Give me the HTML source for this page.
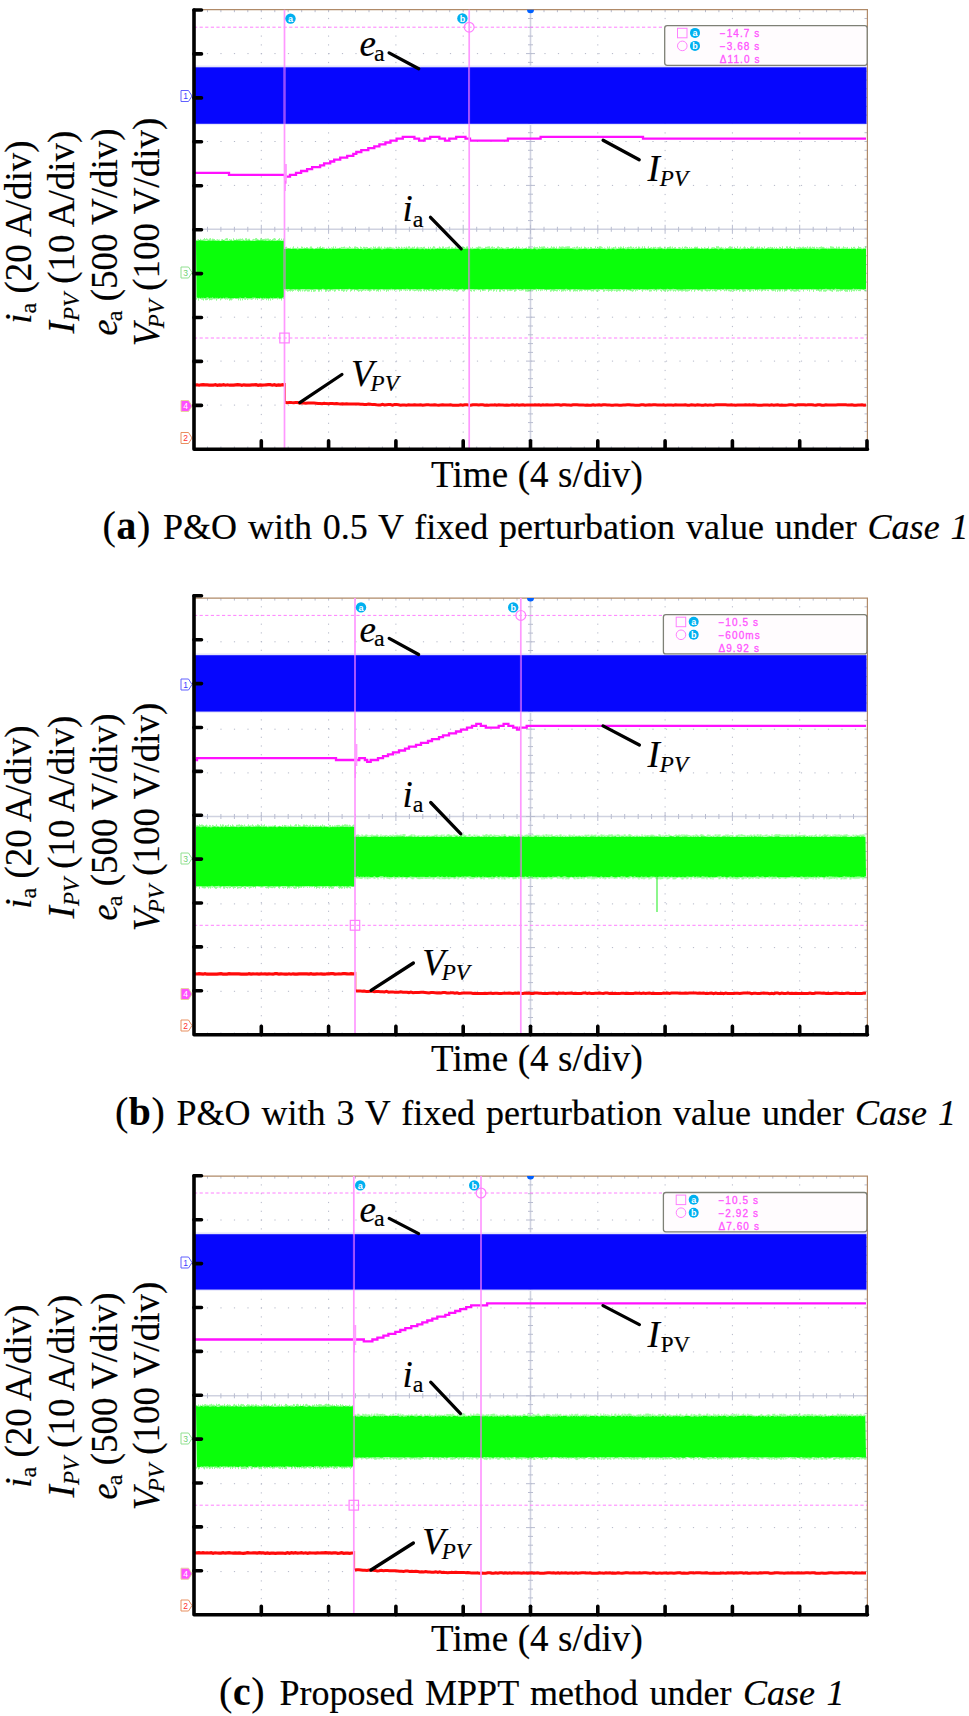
<!DOCTYPE html>
<html><head><meta charset="utf-8"><title>MPPT oscilloscope waveforms</title>
<style>html,body{margin:0;padding:0;background:#fff;} body{width:969px;height:1716px;overflow:hidden;} svg{display:block;} text.s{stroke:#000;stroke-width:0.18px;}</style>
</head><body>
<svg width="969" height="1716" viewBox="0 0 969 1716">
<line x1="261.3" y1="9.7" x2="261.3" y2="449" stroke="#b4b8c8" stroke-width="1" stroke-dasharray="1.2,7.6" stroke-dashoffset="0.6"/>
<line x1="328.6" y1="9.7" x2="328.6" y2="449" stroke="#b4b8c8" stroke-width="1" stroke-dasharray="1.2,7.6" stroke-dashoffset="0.6"/>
<line x1="395.9" y1="9.7" x2="395.9" y2="449" stroke="#b4b8c8" stroke-width="1" stroke-dasharray="1.2,7.6" stroke-dashoffset="0.6"/>
<line x1="463.2" y1="9.7" x2="463.2" y2="449" stroke="#b4b8c8" stroke-width="1" stroke-dasharray="1.2,7.6" stroke-dashoffset="0.6"/>
<line x1="597.8" y1="9.7" x2="597.8" y2="449" stroke="#b4b8c8" stroke-width="1" stroke-dasharray="1.2,7.6" stroke-dashoffset="0.6"/>
<line x1="665.1" y1="9.7" x2="665.1" y2="449" stroke="#b4b8c8" stroke-width="1" stroke-dasharray="1.2,7.6" stroke-dashoffset="0.6"/>
<line x1="732.4" y1="9.7" x2="732.4" y2="449" stroke="#b4b8c8" stroke-width="1" stroke-dasharray="1.2,7.6" stroke-dashoffset="0.6"/>
<line x1="799.7" y1="9.7" x2="799.7" y2="449" stroke="#b4b8c8" stroke-width="1" stroke-dasharray="1.2,7.6" stroke-dashoffset="0.6"/>
<line x1="194" y1="53.6" x2="867" y2="53.6" stroke="#b4b8c8" stroke-width="1" stroke-dasharray="1.2,12.3" stroke-dashoffset="0.6"/>
<line x1="194" y1="97.6" x2="867" y2="97.6" stroke="#b4b8c8" stroke-width="1" stroke-dasharray="1.2,12.3" stroke-dashoffset="0.6"/>
<line x1="194" y1="141.5" x2="867" y2="141.5" stroke="#b4b8c8" stroke-width="1" stroke-dasharray="1.2,12.3" stroke-dashoffset="0.6"/>
<line x1="194" y1="185.4" x2="867" y2="185.4" stroke="#b4b8c8" stroke-width="1" stroke-dasharray="1.2,12.3" stroke-dashoffset="0.6"/>
<line x1="194" y1="273.3" x2="867" y2="273.3" stroke="#b4b8c8" stroke-width="1" stroke-dasharray="1.2,12.3" stroke-dashoffset="0.6"/>
<line x1="194" y1="317.2" x2="867" y2="317.2" stroke="#b4b8c8" stroke-width="1" stroke-dasharray="1.2,12.3" stroke-dashoffset="0.6"/>
<line x1="194" y1="361.1" x2="867" y2="361.1" stroke="#b4b8c8" stroke-width="1" stroke-dasharray="1.2,12.3" stroke-dashoffset="0.6"/>
<line x1="194" y1="405.1" x2="867" y2="405.1" stroke="#b4b8c8" stroke-width="1" stroke-dasharray="1.2,12.3" stroke-dashoffset="0.6"/>
<line x1="194" y1="229.3" x2="867" y2="229.3" stroke="#cfd2e0" stroke-width="1.6"/>
<line x1="530.5" y1="9.7" x2="530.5" y2="449" stroke="#cfd2e0" stroke-width="1.6"/>
<path d="M207.5,226.8V231.8M220.9,226.8V231.8M234.4,226.8V231.8M247.8,226.8V231.8M261.3,224.8V233.8M274.8,226.8V231.8M288.2,226.8V231.8M301.7,226.8V231.8M315.1,226.8V231.8M328.6,224.8V233.8M342.1,226.8V231.8M355.5,226.8V231.8M369,226.8V231.8M382.4,226.8V231.8M395.9,224.8V233.8M409.4,226.8V231.8M422.8,226.8V231.8M436.3,226.8V231.8M449.7,226.8V231.8M463.2,224.8V233.8M476.7,226.8V231.8M490.1,226.8V231.8M503.6,226.8V231.8M517,226.8V231.8M530.5,224.8V233.8M544,226.8V231.8M557.4,226.8V231.8M570.9,226.8V231.8M584.3,226.8V231.8M597.8,224.8V233.8M611.3,226.8V231.8M624.7,226.8V231.8M638.2,226.8V231.8M651.6,226.8V231.8M665.1,224.8V233.8M678.6,226.8V231.8M692,226.8V231.8M705.5,226.8V231.8M718.9,226.8V231.8M732.4,224.8V233.8M745.9,226.8V231.8M759.3,226.8V231.8M772.8,226.8V231.8M786.2,226.8V231.8M799.7,224.8V233.8M813.2,226.8V231.8M826.6,226.8V231.8M840.1,226.8V231.8M853.5,226.8V231.8M528,18.5H533M528,27.3H533M528,36.1H533M528,44.8H533M526,53.6H535M528,62.4H533M528,71.2H533M528,80H533M528,88.8H533M526,97.6H535M528,106.3H533M528,115.1H533M528,123.9H533M528,132.7H533M526,141.5H535M528,150.3H533M528,159.1H533M528,167.8H533M528,176.6H533M526,185.4H535M528,194.2H533M528,203H533M528,211.8H533M528,220.6H533M526,229.3H535M528,238.1H533M528,246.9H533M528,255.7H533M528,264.5H533M526,273.3H535M528,282.1H533M528,290.9H533M528,299.6H533M528,308.4H533M526,317.2H535M528,326H533M528,334.8H533M528,343.6H533M528,352.4H533M526,361.1H535M528,369.9H533M528,378.7H533M528,387.5H533M528,396.3H533M526,405.1H535M528,413.9H533M528,422.6H533M528,431.4H533M528,440.2H533M207.5,9.7V12.2M207.5,449V446.5M220.9,9.7V12.2M220.9,449V446.5M234.4,9.7V12.2M234.4,449V446.5M247.8,9.7V12.2M247.8,449V446.5M261.3,9.7V12.2M261.3,449V446.5M274.8,9.7V12.2M274.8,449V446.5M288.2,9.7V12.2M288.2,449V446.5M301.7,9.7V12.2M301.7,449V446.5M315.1,9.7V12.2M315.1,449V446.5M328.6,9.7V12.2M328.6,449V446.5M342.1,9.7V12.2M342.1,449V446.5M355.5,9.7V12.2M355.5,449V446.5M369,9.7V12.2M369,449V446.5M382.4,9.7V12.2M382.4,449V446.5M395.9,9.7V12.2M395.9,449V446.5M409.4,9.7V12.2M409.4,449V446.5M422.8,9.7V12.2M422.8,449V446.5M436.3,9.7V12.2M436.3,449V446.5M449.7,9.7V12.2M449.7,449V446.5M463.2,9.7V12.2M463.2,449V446.5M476.7,9.7V12.2M476.7,449V446.5M490.1,9.7V12.2M490.1,449V446.5M503.6,9.7V12.2M503.6,449V446.5M517,9.7V12.2M517,449V446.5M530.5,9.7V12.2M530.5,449V446.5M544,9.7V12.2M544,449V446.5M557.4,9.7V12.2M557.4,449V446.5M570.9,9.7V12.2M570.9,449V446.5M584.3,9.7V12.2M584.3,449V446.5M597.8,9.7V12.2M597.8,449V446.5M611.3,9.7V12.2M611.3,449V446.5M624.7,9.7V12.2M624.7,449V446.5M638.2,9.7V12.2M638.2,449V446.5M651.6,9.7V12.2M651.6,449V446.5M665.1,9.7V12.2M665.1,449V446.5M678.6,9.7V12.2M678.6,449V446.5M692,9.7V12.2M692,449V446.5M705.5,9.7V12.2M705.5,449V446.5M718.9,9.7V12.2M718.9,449V446.5M732.4,9.7V12.2M732.4,449V446.5M745.9,9.7V12.2M745.9,449V446.5M759.3,9.7V12.2M759.3,449V446.5M772.8,9.7V12.2M772.8,449V446.5M786.2,9.7V12.2M786.2,449V446.5M799.7,9.7V12.2M799.7,449V446.5M813.2,9.7V12.2M813.2,449V446.5M826.6,9.7V12.2M826.6,449V446.5M840.1,9.7V12.2M840.1,449V446.5M853.5,9.7V12.2M853.5,449V446.5M867,18.5H864.5M867,27.3H864.5M867,36.1H864.5M867,44.8H864.5M867,53.6H864.5M867,62.4H864.5M867,71.2H864.5M867,80H864.5M867,88.8H864.5M867,97.6H864.5M867,106.3H864.5M867,115.1H864.5M867,123.9H864.5M867,132.7H864.5M867,141.5H864.5M867,150.3H864.5M867,159.1H864.5M867,167.8H864.5M867,176.6H864.5M867,185.4H864.5M867,194.2H864.5M867,203H864.5M867,211.8H864.5M867,220.6H864.5M867,229.3H864.5M867,238.1H864.5M867,246.9H864.5M867,255.7H864.5M867,264.5H864.5M867,273.3H864.5M867,282.1H864.5M867,290.9H864.5M867,299.6H864.5M867,308.4H864.5M867,317.2H864.5M867,326H864.5M867,334.8H864.5M867,343.6H864.5M867,352.4H864.5M867,361.1H864.5M867,369.9H864.5M867,378.7H864.5M867,387.5H864.5M867,396.3H864.5M867,405.1H864.5M867,413.9H864.5M867,422.6H864.5M867,431.4H864.5M867,440.2H864.5" stroke="#b9bdd0" stroke-width="1" fill="none"/>
<path d="M194,9.7H867.4V449" stroke="#b08a68" stroke-width="1.2" fill="none"/>
<line x1="194" y1="27.2" x2="664" y2="27.2" stroke="#ff80ff" stroke-width="1" stroke-dasharray="3.2,2.4"/>
<line x1="194" y1="338" x2="867" y2="338" stroke="#ff80ff" stroke-width="1" stroke-dasharray="3.2,2.4"/>
<rect x="195" y="65.5" width="671.5" height="1.8" fill="#e4e4fa"/>
<rect x="195" y="123.8" width="671.5" height="1.3" fill="#e8e8fb"/>
<rect x="195" y="67.3" width="671.5" height="56.5" fill="#0606fe"/>
<path d="M196,240.6 197,240.8 198,240.7 199,240.3 200,240.3 201,240.4 202,240.6 203,240.4 204,240.8 205,240.8 206,241.1 207,241 208,240.4 209,240.5 210,240.4 211,240.8 212,240.7 213,240.3 214,240.8 215,240.6 216,240.7 217,240.9 218,240.5 219,240.7 220,240.9 221,241.1 222,240.6 223,240.4 224,240.3 225,240.9 226,241 227,240.9 228,240.8 229,241 230,240.7 231,240.3 232,240.8 233,241 234,240.6 235,240.3 236,240.4 237,240.3 238,240.4 239,240.6 240,240.4 241,240.7 242,241 243,240.5 244,240.6 245,241.1 246,240.4 247,240.5 248,240.8 249,240.3 250,240.6 251,241.1 252,240.7 253,240.8 254,241 255,241 256,240.6 257,240.4 258,240.3 259,240.5 260,240.6 261,240.3 262,240.4 263,240.3 264,240.8 265,240.5 266,240.6 267,241 268,240.7 269,240.4 270,240.6 271,241 272,240.3 273,240.7 274,240.7 275,240.7 276,241 277,240.5 278,240.4 279,240.7 280,240.6 281,240.9 282,241 283,241 284,240.5 284.5,297.9 283.5,297.6 282.5,297.8 281.5,298.4 280.5,298.3 279.5,298.4 278.5,297.8 277.5,297.8 276.5,298.1 275.5,298.3 274.5,298.1 273.5,297.7 272.5,298.3 271.5,298.2 270.5,297.7 269.5,297.9 268.5,298.4 267.5,297.9 266.5,298.2 265.5,297.7 264.5,298.3 263.5,297.7 262.5,298.4 261.5,297.9 260.5,297.7 259.5,298.4 258.5,298 257.5,297.9 256.5,298.3 255.5,297.8 254.5,297.8 253.5,297.8 252.5,297.7 251.5,297.9 250.5,298.1 249.5,297.9 248.5,298 247.5,298 246.5,298 245.5,297.6 244.5,297.7 243.5,298.2 242.5,297.9 241.5,298 240.5,297.7 239.5,297.8 238.5,298.2 237.5,298 236.5,298.3 235.5,298.1 234.5,298 233.5,298 232.5,298 231.5,298.2 230.5,298.4 229.5,298 228.5,298.3 227.5,297.7 226.5,297.7 225.5,297.7 224.5,298.2 223.5,297.7 222.5,298.1 221.5,298.3 220.5,297.8 219.5,297.9 218.5,298.4 217.5,297.7 216.5,298 215.5,297.8 214.5,298.2 213.5,298 212.5,297.6 211.5,298.1 210.5,297.7 209.5,298.2 208.5,297.7 207.5,297.6 206.5,297.8 205.5,297.9 204.5,298.3 203.5,297.7 202.5,298.1 201.5,297.7 200.5,298.2 199.5,297.7 198.5,298.1 197.5,297.7 196.5,297.7Z" fill="#0aff0a"/>
<path d="M284,248.9 285,248.9 286,248.7 287,248.9 288,248.6 289,248.5 290,248.7 291,249.1 292,248.9 293,248.8 294,248.7 295,249.1 296,248.7 297,249.2 298,249.2 299,248.9 300,248.8 301,249.1 302,248.8 303,249.1 304,248.8 305,248.5 306,248.6 307,248.7 308,248.6 309,249.2 310,248.7 311,248.7 312,248.6 313,248.7 314,249.3 315,248.7 316,248.7 317,248.5 318,248.9 319,248.7 320,248.5 321,248.6 322,248.5 323,248.7 324,249 325,249.1 326,249.1 327,248.8 328,249.3 329,249.1 330,248.5 331,249.2 332,249.1 333,248.6 334,248.9 335,249.1 336,249 337,249 338,248.7 339,248.6 340,248.6 341,248.9 342,249 343,248.9 344,249.1 345,248.9 346,249 347,249.1 348,248.6 349,249.1 350,249.1 351,248.9 352,248.9 353,249.1 354,249 355,248.6 356,249.1 357,249 358,248.5 359,249 360,249 361,248.9 362,248.9 363,249.2 364,249.3 365,248.5 366,249.2 367,248.9 368,248.7 369,248.7 370,248.6 371,249.3 372,249.2 373,249.2 374,248.7 375,248.9 376,248.5 377,248.9 378,248.6 379,248.8 380,248.5 381,249.2 382,249.2 383,249.2 384,248.8 385,249.3 386,248.8 387,248.7 388,248.6 389,248.7 390,248.7 391,248.9 392,248.8 393,249.2 394,249 395,249.3 396,249.1 397,249.1 398,249.1 399,248.7 400,249.2 401,248.9 402,248.7 403,249.3 404,249 405,248.9 406,248.6 407,248.7 408,248.9 409,249.2 410,248.9 411,248.7 412,248.8 413,248.7 414,249 415,249.1 416,248.8 417,248.8 418,248.5 419,249.3 420,248.9 421,249.2 422,248.7 423,248.8 424,249.3 425,249.2 426,248.5 427,249.2 428,249 429,248.8 430,249.2 431,249.3 432,248.6 433,248.9 434,249.3 435,249 436,248.9 437,248.5 438,248.7 439,249 440,248.6 441,249 442,248.6 443,248.9 444,248.8 445,249 446,248.7 447,249.3 448,249.2 449,248.7 450,249.3 451,248.7 452,248.9 453,248.8 454,249 455,248.7 456,248.8 457,249 458,249.1 459,248.9 460,249.3 461,249.2 462,248.7 463,248.7 464,248.9 465,248.7 466,249 467,248.6 468,248.7 469,248.6 470,248.5 471,249.2 472,249.1 473,249.2 474,248.6 475,249.1 476,249 477,248.8 478,248.6 479,248.7 480,249.3 481,249.3 482,248.8 483,249.2 484,248.5 485,248.8 486,248.7 487,249.2 488,248.8 489,249.1 490,248.5 491,249.2 492,249.1 493,248.8 494,249.3 495,248.7 496,248.8 497,248.5 498,249.2 499,249.3 500,248.7 501,249.3 502,248.8 503,248.8 504,249.2 505,249.1 506,249.2 507,249 508,248.8 509,249.1 510,248.7 511,248.7 512,248.5 513,248.8 514,249.2 515,248.7 516,248.6 517,249.1 518,248.7 519,249 520,249.1 521,249 522,249.2 523,249 524,249.1 525,248.7 526,248.6 527,249 528,248.8 529,248.9 530,249.1 531,249.3 532,248.9 533,249.2 534,248.5 535,248.6 536,249.3 537,249.2 538,249.2 539,248.7 540,249.3 541,249 542,248.7 543,248.6 544,248.7 545,249 546,248.5 547,249 548,248.7 549,249.1 550,248.6 551,248.8 552,249 553,248.6 554,248.8 555,248.7 556,248.7 557,248.8 558,249.2 559,248.8 560,249.1 561,248.5 562,248.8 563,248.8 564,248.9 565,248.5 566,249 567,248.6 568,248.8 569,248.6 570,248.9 571,248.6 572,249.1 573,248.7 574,249.3 575,248.9 576,249.2 577,249.2 578,249.2 579,249.1 580,248.8 581,249.2 582,248.7 583,248.9 584,248.6 585,249.1 586,248.5 587,249.1 588,249.2 589,249 590,249 591,248.8 592,248.8 593,248.9 594,248.5 595,248.9 596,249.1 597,248.9 598,248.9 599,248.6 600,248.6 601,248.9 602,249 603,249.1 604,248.9 605,248.9 606,249.3 607,249.2 608,249.1 609,248.7 610,248.9 611,249.2 612,249.1 613,248.6 614,249.1 615,249.2 616,249.2 617,248.9 618,248.7 619,248.9 620,248.5 621,248.6 622,249 623,248.6 624,248.6 625,249 626,249.2 627,249 628,248.6 629,249 630,249.1 631,249.3 632,248.8 633,248.9 634,249.1 635,249.2 636,249 637,249 638,248.8 639,248.5 640,249 641,248.9 642,248.6 643,249 644,248.5 645,248.6 646,248.7 647,249 648,249 649,248.6 650,248.7 651,248.6 652,249.2 653,248.8 654,248.5 655,248.9 656,249 657,249.2 658,248.7 659,248.5 660,248.8 661,248.5 662,248.5 663,249.3 664,248.7 665,248.9 666,249.2 667,248.7 668,248.5 669,249.1 670,248.5 671,249.1 672,249.1 673,248.7 674,248.7 675,248.8 676,249.1 677,249.1 678,248.9 679,249.1 680,248.7 681,249.3 682,249.2 683,248.7 684,249.1 685,249.1 686,249.2 687,248.7 688,249 689,249 690,248.9 691,249.1 692,248.8 693,249 694,248.7 695,248.6 696,248.6 697,248.6 698,248.8 699,248.5 700,249.1 701,249.1 702,248.6 703,248.8 704,249.2 705,248.6 706,249.2 707,248.6 708,248.6 709,249.2 710,249 711,249 712,248.6 713,249.1 714,248.8 715,248.5 716,248.7 717,248.8 718,249.3 719,249.2 720,248.5 721,248.8 722,248.8 723,248.9 724,249.2 725,249.2 726,248.5 727,249.1 728,248.5 729,248.9 730,248.6 731,248.8 732,248.7 733,248.7 734,249.1 735,248.6 736,248.6 737,249.1 738,249 739,248.8 740,249.2 741,249.2 742,248.7 743,249.2 744,248.8 745,248.7 746,248.9 747,249.1 748,248.8 749,248.6 750,249 751,248.6 752,249.1 753,248.6 754,249.2 755,248.7 756,249.1 757,248.6 758,248.7 759,248.9 760,248.8 761,249.3 762,248.6 763,248.6 764,249.3 765,249.1 766,248.7 767,248.6 768,248.8 769,248.8 770,249.1 771,249 772,248.6 773,248.8 774,249.2 775,249 776,248.8 777,249.1 778,249.1 779,249.2 780,249 781,248.8 782,248.6 783,249.1 784,249 785,248.8 786,249 787,249 788,248.6 789,249.1 790,248.9 791,248.5 792,248.6 793,249.3 794,248.6 795,248.9 796,248.9 797,249.2 798,248.8 799,248.7 800,248.8 801,248.6 802,248.8 803,248.7 804,248.5 805,248.8 806,248.8 807,248.7 808,249.3 809,248.7 810,248.8 811,248.6 812,249.1 813,248.9 814,248.7 815,248.8 816,249.2 817,248.9 818,248.9 819,249.2 820,249.2 821,248.8 822,248.8 823,248.5 824,248.7 825,248.7 826,248.8 827,249 828,249.2 829,248.5 830,249.2 831,248.6 832,249 833,248.5 834,249 835,248.6 836,248.7 837,248.8 838,249.2 839,248.6 840,249 841,249 842,249.1 843,248.7 844,248.9 845,248.9 846,248.9 847,248.7 848,248.9 849,248.9 850,248.9 851,248.9 852,248.5 853,248.9 854,249 855,248.8 856,249.3 857,249 858,248.5 859,249 860,248.8 861,248.9 862,249.2 863,249.1 864,248.8 865,248.8 866,248.9 866,289 865,289.1 864,289.5 863,289.5 862,289.2 861,289.2 860,289.3 859,289.1 858,289 857,289.3 856,288.8 855,289.5 854,288.8 853,288.8 852,289.5 851,289.3 850,289.5 849,289.3 848,289.4 847,289.3 846,289.3 845,289.4 844,288.9 843,289.4 842,289.3 841,289.5 840,289.2 839,289 838,289.1 837,289.3 836,288.8 835,288.8 834,289.4 833,289.5 832,288.8 831,289.3 830,289.6 829,289.1 828,289.3 827,288.9 826,288.8 825,288.9 824,288.9 823,288.9 822,289.4 821,289.4 820,288.8 819,289.4 818,289.4 817,289.3 816,289.2 815,289 814,289.4 813,288.8 812,289.5 811,289 810,288.9 809,289.2 808,289.1 807,289.2 806,288.9 805,289.1 804,289.3 803,289.1 802,289.6 801,289.3 800,288.8 799,289.4 798,289.1 797,289.6 796,289.3 795,289.1 794,289.1 793,289.3 792,289.4 791,288.8 790,289.1 789,289.5 788,288.8 787,289.4 786,289.3 785,289.5 784,289.3 783,289.1 782,289.2 781,289 780,289.5 779,289.3 778,289.2 777,289 776,289.4 775,288.9 774,289.4 773,289.3 772,289.5 771,289.2 770,289 769,288.9 768,289.1 767,289.1 766,288.9 765,289.6 764,288.9 763,289.4 762,289.3 761,289.2 760,288.8 759,289.5 758,289.3 757,289.4 756,289.6 755,289.5 754,289 753,289 752,288.9 751,289.2 750,289.2 749,289.5 748,289.3 747,288.9 746,289 745,289.3 744,289.3 743,289.2 742,289.6 741,289 740,289 739,289.5 738,289.5 737,289.4 736,289.3 735,288.8 734,289.4 733,289.3 732,289.3 731,288.9 730,289 729,289.2 728,289 727,289.3 726,289.4 725,288.8 724,289 723,289.5 722,288.9 721,288.9 720,289.5 719,289.2 718,289.5 717,289.3 716,289 715,289.4 714,288.9 713,289 712,288.9 711,289.5 710,288.9 709,289.1 708,288.9 707,288.8 706,289.3 705,289.2 704,289 703,289.1 702,289.6 701,288.9 700,289.5 699,289.4 698,289.6 697,289.4 696,288.9 695,289.5 694,288.9 693,289.5 692,289.3 691,288.9 690,289.4 689,288.9 688,289.3 687,289 686,289.3 685,289.4 684,289 683,289.4 682,289.4 681,289.4 680,289.5 679,289.2 678,289.5 677,289.5 676,288.9 675,289.1 674,289.1 673,288.8 672,289.2 671,288.9 670,289.5 669,289.1 668,289.1 667,288.8 666,289.6 665,289.2 664,289.2 663,289.6 662,288.9 661,289 660,288.8 659,289.4 658,288.8 657,289.3 656,289.4 655,289.5 654,288.8 653,289.2 652,289 651,289.1 650,289.3 649,288.9 648,289.4 647,289.5 646,289.1 645,289.5 644,289.1 643,289.4 642,289 641,289.1 640,289.4 639,289.5 638,288.8 637,289.6 636,289 635,289.3 634,289.2 633,289.1 632,288.8 631,289.6 630,289.5 629,289.4 628,289.5 627,289.3 626,289.3 625,289.2 624,289.3 623,289.2 622,289.6 621,289 620,288.9 619,289.6 618,289 617,289.2 616,288.9 615,289 614,289 613,288.9 612,289.5 611,289.3 610,289 609,289.2 608,289.3 607,289 606,289 605,289.1 604,288.8 603,289.5 602,289.2 601,289 600,289 599,288.9 598,289.5 597,288.8 596,289.2 595,288.9 594,289.6 593,288.9 592,289.1 591,289.3 590,289.5 589,289.4 588,289.4 587,289.4 586,289.5 585,289.5 584,289.4 583,289.2 582,289.3 581,289.4 580,289.3 579,289.2 578,289.4 577,289.1 576,289.1 575,289.4 574,289.2 573,288.9 572,288.9 571,289.3 570,289.5 569,289.5 568,289.6 567,289.1 566,288.8 565,289.3 564,289.5 563,289.2 562,289.2 561,289.3 560,289.1 559,289.1 558,289.3 557,288.9 556,289.1 555,289.3 554,289.6 553,289.2 552,289.6 551,289.2 550,288.9 549,289.6 548,289.2 547,289.5 546,289.5 545,289.5 544,288.9 543,289.2 542,289 541,289.3 540,289.1 539,289.3 538,289.1 537,289 536,288.8 535,289.5 534,289.3 533,289.2 532,289 531,289.2 530,289.3 529,288.9 528,289.4 527,288.9 526,289.2 525,289.3 524,288.8 523,289.4 522,289.4 521,288.9 520,288.9 519,289.3 518,289.2 517,288.8 516,289.3 515,289.2 514,289 513,289.5 512,289.1 511,289.5 510,289.3 509,289.2 508,289 507,289.4 506,289 505,289.2 504,289 503,289.1 502,289.6 501,289.2 500,289.2 499,289.1 498,288.9 497,289.1 496,289 495,289 494,289.3 493,288.9 492,288.9 491,289.5 490,289.2 489,289.4 488,289.1 487,289.1 486,289 485,289.2 484,289.2 483,289.4 482,289.5 481,289.1 480,289.3 479,289.5 478,289.2 477,289 476,289.1 475,289.3 474,289.1 473,288.9 472,289.1 471,288.9 470,289.1 469,289 468,289 467,288.9 466,289 465,289.5 464,289.5 463,288.9 462,288.8 461,289.3 460,289.1 459,289.4 458,289.5 457,289.3 456,288.9 455,289.4 454,288.8 453,288.9 452,289 451,288.8 450,289.3 449,289.5 448,289.4 447,289.1 446,289.1 445,289.5 444,289 443,289.5 442,288.8 441,288.9 440,289 439,289.4 438,289.4 437,289.4 436,289 435,289.6 434,289.5 433,289.4 432,289.3 431,288.8 430,289.1 429,289.5 428,289.4 427,289.4 426,289 425,289.6 424,289.2 423,288.8 422,289.1 421,289 420,289.4 419,289 418,289.2 417,289.5 416,289 415,288.9 414,289.1 413,289.2 412,288.9 411,289.3 410,289.4 409,288.9 408,289.1 407,288.8 406,289 405,289.2 404,289.1 403,289.1 402,288.9 401,289.6 400,288.9 399,289.6 398,288.9 397,289.1 396,289.2 395,289.5 394,289.3 393,289.3 392,289 391,288.8 390,289.5 389,288.9 388,289.5 387,288.9 386,289.5 385,289.1 384,289.5 383,289.1 382,289.1 381,289 380,289.3 379,289.5 378,289.5 377,289.2 376,288.9 375,289.3 374,289.4 373,289.2 372,288.9 371,289.2 370,289.4 369,289.5 368,289.4 367,289 366,289.2 365,289.1 364,289.3 363,289.5 362,289 361,289.3 360,289 359,289.1 358,289.6 357,289.5 356,289.6 355,289.4 354,289.3 353,289 352,289.6 351,289.3 350,289.1 349,288.8 348,289.3 347,288.9 346,289.1 345,289.1 344,289.3 343,288.9 342,289.5 341,288.9 340,289 339,289.2 338,289.2 337,289 336,288.9 335,289.3 334,289.1 333,289.2 332,289.2 331,289.4 330,289.6 329,288.9 328,289.1 327,289.6 326,289.4 325,289.4 324,289 323,288.8 322,289 321,289.4 320,289.5 319,289.5 318,289.5 317,288.9 316,289.1 315,289.3 314,288.9 313,289.4 312,289.4 311,289.3 310,289.2 309,288.9 308,289.3 307,289 306,289.5 305,288.9 304,288.9 303,288.9 302,289 301,289.1 300,289.5 299,289.4 298,289.6 297,289.1 296,289.2 295,289.4 294,288.9 293,289.3 292,289.2 291,289.5 290,289.5 289,288.9 288,289 287,289.3 286,288.9 285,289.2 284,289.1Z" fill="#0aff0a"/>
<path d="M196.5,240.7v-0.4M196.5,298v1.7M197.5,240.7v-1.2M197.5,298v0.4M198.5,240.7v-1.5M198.5,298v2.7M199.5,240.7v-0.5M199.5,298v0.7M200.5,240.7v-1.9M200.5,298v1M201.5,240.7v-1M201.5,298v1.6M202.5,240.7v-1M202.5,298v1.7M203.5,240.7v-1.6M203.5,298v2.6M204.5,240.7v-2.7M204.5,298v0.5M205.5,240.7v-1.7M205.5,298v2.2M206.5,240.7v-2.4M206.5,298v2.2M207.5,240.7v-1.9M207.5,298v1.9M208.5,240.7v-1.2M208.5,298v1M209.5,240.7v-2.2M209.5,298v2.4M210.5,240.7v-2.6M210.5,298v2M211.5,240.7v-1.1M211.5,298v2.2M212.5,240.7v-2.1M212.5,298v1.6M213.5,240.7v-1.9M213.5,298v1.2M214.5,240.7v-1.7M214.5,298v1.3M215.5,240.7v-0.5M215.5,298v1.2M216.5,240.7v-1.1M216.5,298v2.7M217.5,240.7v-1.5M217.5,298v1.2M218.5,240.7v-1M218.5,298v0.9M219.5,240.7v-1.2M219.5,298v0.7M220.5,240.7v-0.4M220.5,298v2.4M221.5,240.7v-1.4M221.5,298v1.4M222.5,240.7v-1.7M222.5,298v1.1M223.5,240.7v-0.8M223.5,298v0.6M224.5,240.7v-1.1M224.5,298v1.1M225.5,240.7v-2.1M225.5,298v1.7M226.5,240.7v-2.6M226.5,298v1.2M227.5,240.7v-2.5M227.5,298v1.7M228.5,240.7v-0.6M228.5,298v0.8M229.5,240.7v-1.7M229.5,298v2.7M230.5,240.7v-1.2M230.5,298v2.2M231.5,240.7v-1.4M231.5,298v2.4M232.5,240.7v-0.6M232.5,298v1.5M233.5,240.7v-2.5M233.5,298v1M234.5,240.7v-1M234.5,298v0.5M235.5,240.7v-0.8M235.5,298v1M236.5,240.7v-2M236.5,298v0.9M237.5,240.7v-1.3M237.5,298v0.9M238.5,240.7v-1.8M238.5,298v2.4M239.5,240.7v-1.9M239.5,298v0.9M240.5,240.7v-2.1M240.5,298v2.6M241.5,240.7v-1.8M241.5,298v0.6M242.5,240.7v-2.3M242.5,298v2.4M243.5,240.7v-1.2M243.5,298v0.7M244.5,240.7v-0.8M244.5,298v1.6M245.5,240.7v-2.4M245.5,298v1.9M246.5,240.7v-2.5M246.5,298v0.9M247.5,240.7v-1.2M247.5,298v2.1M248.5,240.7v-1.9M248.5,298v1.3M249.5,240.7v-2M249.5,298v1.2M250.5,240.7v-0.5M250.5,298v1.4M251.5,240.7v-0.5M251.5,298v1.8M252.5,240.7v-1.2M252.5,298v1.5M253.5,240.7v-1.8M253.5,298v1M254.5,240.7v-1.5M254.5,298v0.4M255.5,240.7v-2.5M255.5,298v1.7M256.5,240.7v-2.7M256.5,298v0.5M257.5,240.7v-1.8M257.5,298v2.1M258.5,240.7v-1.2M258.5,298v0.6M259.5,240.7v-0.8M259.5,298v0.7M260.5,240.7v-2.2M260.5,298v0.6M261.5,240.7v-2.3M261.5,298v1.4M262.5,240.7v-1.6M262.5,298v1.8M263.5,240.7v-1.7M263.5,298v1.9M264.5,240.7v-1.8M264.5,298v1.2M265.5,240.7v-2.1M265.5,298v1M266.5,240.7v-2M266.5,298v2.2M267.5,240.7v-2.2M267.5,298v1.1M268.5,240.7v-2.2M268.5,298v2.6M269.5,240.7v-1.4M269.5,298v1M270.5,240.7v-1.6M270.5,298v2.6M271.5,240.7v-0.7M271.5,298v0.4M272.5,240.7v-1.5M272.5,298v1.9M273.5,240.7v-2.2M273.5,298v1.2M274.5,240.7v-2.7M274.5,298v0.9M275.5,240.7v-2.1M275.5,298v0.6M276.5,240.7v-0.5M276.5,298v0.7M277.5,240.7v-0.5M277.5,298v1.6M278.5,240.7v-1.7M278.5,298v0.8M279.5,240.7v-2.6M279.5,298v1.2M280.5,240.7v-0.7M280.5,298v0.8M281.5,240.7v-2.1M281.5,298v2.5M282.5,240.7v-0.8M282.5,298v0.5M283.5,240.7v-2.2M283.5,298v1M284.5,248.9v-2.7M284.5,289.2v1.5M285.5,248.9v-1.9M285.5,289.2v1.2M286.5,248.9v-2.2M286.5,289.2v1.5M287.5,248.9v-1.1M287.5,289.2v2.5M288.5,248.9v-0.6M288.5,289.2v2.1M289.5,248.9v-0.6M289.5,289.2v1.9M290.5,248.9v-1.3M290.5,289.2v2.4M291.5,248.9v-0.5M291.5,289.2v1.7M292.5,248.9v-1.3M292.5,289.2v2.5M293.5,248.9v-2.6M293.5,289.2v1.8M294.5,248.9v-0.9M294.5,289.2v1M295.5,248.9v-1M295.5,289.2v1.4M296.5,248.9v-0.9M296.5,289.2v0.9M297.5,248.9v-2.1M297.5,289.2v1.9M298.5,248.9v-1.1M298.5,289.2v2.7M299.5,248.9v-0.9M299.5,289.2v1.7M300.5,248.9v-0.8M300.5,289.2v2.4M301.5,248.9v-2.4M301.5,289.2v1M302.5,248.9v-2.1M302.5,289.2v2.3M303.5,248.9v-1M303.5,289.2v1.2M304.5,248.9v-1.5M304.5,289.2v2.4M305.5,248.9v-0.8M305.5,289.2v2M306.5,248.9v-1.8M306.5,289.2v1.4M307.5,248.9v-1.7M307.5,289.2v2.4M308.5,248.9v-0.9M308.5,289.2v2.4M309.5,248.9v-1.2M309.5,289.2v2.2M310.5,248.9v-2.4M310.5,289.2v0.8M311.5,248.9v-2.4M311.5,289.2v2.7M312.5,248.9v-1.1M312.5,289.2v0.5M313.5,248.9v-0.7M313.5,289.2v2.6M314.5,248.9v-0.4M314.5,289.2v2.5M315.5,248.9v-0.7M315.5,289.2v2.1M316.5,248.9v-0.6M316.5,289.2v0.8M317.5,248.9v-2M317.5,289.2v0.6M318.5,248.9v-1.2M318.5,289.2v2.5M319.5,248.9v-2M319.5,289.2v2.4M320.5,248.9v-2.7M320.5,289.2v0.5M321.5,248.9v-0.9M321.5,289.2v2.2M322.5,248.9v-2M322.5,289.2v0.5M323.5,248.9v-1.6M323.5,289.2v0.9M324.5,248.9v-1.4M324.5,289.2v0.6M325.5,248.9v-0.4M325.5,289.2v2.7M326.5,248.9v-1.1M326.5,289.2v2.4M327.5,248.9v-0.7M327.5,289.2v1.5M328.5,248.9v-0.7M328.5,289.2v1.4M329.5,248.9v-0.8M329.5,289.2v2M330.5,248.9v-0.7M330.5,289.2v2.1M331.5,248.9v-1.6M331.5,289.2v0.7M332.5,248.9v-1.2M332.5,289.2v1.5M333.5,248.9v-2.5M333.5,289.2v1.2M334.5,248.9v-0.9M334.5,289.2v2.6M335.5,248.9v-2.4M335.5,289.2v2.1M336.5,248.9v-1M336.5,289.2v0.8M337.5,248.9v-1M337.5,289.2v0.6M338.5,248.9v-0.5M338.5,289.2v1.6M339.5,248.9v-1.3M339.5,289.2v1.7M340.5,248.9v-1.2M340.5,289.2v0.4M341.5,248.9v-2M341.5,289.2v1.9M342.5,248.9v-1.7M342.5,289.2v1.7M343.5,248.9v-2M343.5,289.2v2.7M344.5,248.9v-2.4M344.5,289.2v2.1M345.5,248.9v-1.3M345.5,289.2v1.1M346.5,248.9v-1.4M346.5,289.2v2.6M347.5,248.9v-1.3M347.5,289.2v1.3M348.5,248.9v-1.3M348.5,289.2v0.7M349.5,248.9v-2.7M349.5,289.2v0.4M350.5,248.9v-1.8M350.5,289.2v2.5M351.5,248.9v-1M351.5,289.2v1.8M352.5,248.9v-1.3M352.5,289.2v1M353.5,248.9v-0.9M353.5,289.2v0.7M354.5,248.9v-2.3M354.5,289.2v2.2M355.5,248.9v-2.5M355.5,289.2v0.5M356.5,248.9v-2M356.5,289.2v1.1M357.5,248.9v-1.9M357.5,289.2v1.7M358.5,248.9v-1.1M358.5,289.2v2.6M359.5,248.9v-0.4M359.5,289.2v2.1M360.5,248.9v-2.4M360.5,289.2v1.6M361.5,248.9v-1.8M361.5,289.2v2.7M362.5,248.9v-0.9M362.5,289.2v1.8M363.5,248.9v-2.1M363.5,289.2v1.3M364.5,248.9v-2M364.5,289.2v1.3M365.5,248.9v-1.6M365.5,289.2v1.8M366.5,248.9v-2M366.5,289.2v1.1M367.5,248.9v-1.8M367.5,289.2v1.6M368.5,248.9v-0.9M368.5,289.2v1.8M369.5,248.9v-1M369.5,289.2v2.5M370.5,248.9v-1.5M370.5,289.2v2.1M371.5,248.9v-1.6M371.5,289.2v1.5M372.5,248.9v-0.9M372.5,289.2v0.7M373.5,248.9v-2.5M373.5,289.2v1.6M374.5,248.9v-1.6M374.5,289.2v1.6M375.5,248.9v-2.3M375.5,289.2v0.9M376.5,248.9v-0.8M376.5,289.2v2.3M377.5,248.9v-1.5M377.5,289.2v1.9M378.5,248.9v-2.3M378.5,289.2v2.5M379.5,248.9v-2.4M379.5,289.2v0.5M380.5,248.9v-1.3M380.5,289.2v2.3M381.5,248.9v-2.3M381.5,289.2v0.7M382.5,248.9v-0.8M382.5,289.2v1M383.5,248.9v-0.6M383.5,289.2v1.2M384.5,248.9v-2.2M384.5,289.2v1.6M385.5,248.9v-1.4M385.5,289.2v0.6M386.5,248.9v-1.3M386.5,289.2v2.7M387.5,248.9v-2M387.5,289.2v1.4M388.5,248.9v-1.5M388.5,289.2v2.2M389.5,248.9v-2.1M389.5,289.2v0.7M390.5,248.9v-2M390.5,289.2v1.2M391.5,248.9v-1.6M391.5,289.2v0.9M392.5,248.9v-1.3M392.5,289.2v1.2M393.5,248.9v-1.3M393.5,289.2v0.4M394.5,248.9v-0.9M394.5,289.2v1.7M395.5,248.9v-0.5M395.5,289.2v0.8M396.5,248.9v-2.1M396.5,289.2v1M397.5,248.9v-1.1M397.5,289.2v1M398.5,248.9v-2.3M398.5,289.2v0.6M399.5,248.9v-1.9M399.5,289.2v2.4M400.5,248.9v-0.9M400.5,289.2v1.4M401.5,248.9v-2.2M401.5,289.2v1.8M402.5,248.9v-1.3M402.5,289.2v0.5M403.5,248.9v-1.4M403.5,289.2v1.2M404.5,248.9v-2M404.5,289.2v1.1M405.5,248.9v-1.3M405.5,289.2v1.9M406.5,248.9v-2.3M406.5,289.2v1.2M407.5,248.9v-1.3M407.5,289.2v1.7M408.5,248.9v-2.5M408.5,289.2v0.8M409.5,248.9v-2.6M409.5,289.2v2M410.5,248.9v-1.3M410.5,289.2v1.9M411.5,248.9v-1.2M411.5,289.2v0.6M412.5,248.9v-2.1M412.5,289.2v1.3M413.5,248.9v-1.6M413.5,289.2v1.5M414.5,248.9v-2.5M414.5,289.2v2.1M415.5,248.9v-0.5M415.5,289.2v1.8M416.5,248.9v-1.5M416.5,289.2v1.5M417.5,248.9v-2.3M417.5,289.2v1.4M418.5,248.9v-1.5M418.5,289.2v2.4M419.5,248.9v-1.4M419.5,289.2v1.5M420.5,248.9v-1.6M420.5,289.2v2.3M421.5,248.9v-1.9M421.5,289.2v2.1M422.5,248.9v-1.3M422.5,289.2v0.5M423.5,248.9v-2M423.5,289.2v1.7M424.5,248.9v-2.2M424.5,289.2v2.2M425.5,248.9v-0.7M425.5,289.2v0.9M426.5,248.9v-0.6M426.5,289.2v2.3M427.5,248.9v-0.6M427.5,289.2v0.6M428.5,248.9v-2.1M428.5,289.2v1.7M429.5,248.9v-0.5M429.5,289.2v2M430.5,248.9v-2M430.5,289.2v1.5M431.5,248.9v-0.5M431.5,289.2v2M432.5,248.9v-1.4M432.5,289.2v1.7M433.5,248.9v-2.7M433.5,289.2v2.3M434.5,248.9v-2.4M434.5,289.2v0.7M435.5,248.9v-1.2M435.5,289.2v1.6M436.5,248.9v-0.4M436.5,289.2v2.7M437.5,248.9v-1M437.5,289.2v1M438.5,248.9v-1.1M438.5,289.2v1M439.5,248.9v-2.4M439.5,289.2v1.7M440.5,248.9v-1.6M440.5,289.2v1.4M441.5,248.9v-0.5M441.5,289.2v1.1M442.5,248.9v-2.4M442.5,289.2v2.2M443.5,248.9v-2.4M443.5,289.2v1M444.5,248.9v-0.9M444.5,289.2v0.5M445.5,248.9v-1.6M445.5,289.2v1.3M446.5,248.9v-1.5M446.5,289.2v1.5M447.5,248.9v-1.7M447.5,289.2v1.2M448.5,248.9v-2.2M448.5,289.2v0.9M449.5,248.9v-2.5M449.5,289.2v1.7M450.5,248.9v-0.5M450.5,289.2v1.1M451.5,248.9v-1.6M451.5,289.2v1.3M452.5,248.9v-1.7M452.5,289.2v1.1M453.5,248.9v-1M453.5,289.2v2.2M454.5,248.9v-1.1M454.5,289.2v2M455.5,248.9v-2.2M455.5,289.2v1.8M456.5,248.9v-1.4M456.5,289.2v2.6M457.5,248.9v-1.4M457.5,289.2v2.4M458.5,248.9v-0.5M458.5,289.2v1.4M459.5,248.9v-1.9M459.5,289.2v0.5M460.5,248.9v-2.4M460.5,289.2v0.6M461.5,248.9v-1.8M461.5,289.2v0.8M462.5,248.9v-2.5M462.5,289.2v1.7M463.5,248.9v-2.2M463.5,289.2v1.5M464.5,248.9v-1.9M464.5,289.2v2M465.5,248.9v-1.1M465.5,289.2v0.9M466.5,248.9v-2.3M466.5,289.2v0.7M467.5,248.9v-2.5M467.5,289.2v0.9M468.5,248.9v-0.6M468.5,289.2v0.6M469.5,248.9v-2.2M469.5,289.2v2.6M470.5,248.9v-1.4M470.5,289.2v1.9M471.5,248.9v-1M471.5,289.2v2.5M472.5,248.9v-2M472.5,289.2v0.8M473.5,248.9v-0.5M473.5,289.2v2M474.5,248.9v-0.5M474.5,289.2v2.3M475.5,248.9v-1.1M475.5,289.2v0.9M476.5,248.9v-1.7M476.5,289.2v1.1M477.5,248.9v-1.7M477.5,289.2v0.8M478.5,248.9v-2.5M478.5,289.2v1.1M479.5,248.9v-2.3M479.5,289.2v0.7M480.5,248.9v-2.2M480.5,289.2v2.7M481.5,248.9v-1.3M481.5,289.2v0.5M482.5,248.9v-1.3M482.5,289.2v1.9M483.5,248.9v-0.9M483.5,289.2v1.7M484.5,248.9v-0.6M484.5,289.2v1.5M485.5,248.9v-2.1M485.5,289.2v1.4M486.5,248.9v-2M486.5,289.2v0.7M487.5,248.9v-2.3M487.5,289.2v0.7M488.5,248.9v-2.5M488.5,289.2v2.7M489.5,248.9v-2.6M489.5,289.2v1.6M490.5,248.9v-1.1M490.5,289.2v1.2M491.5,248.9v-2.1M491.5,289.2v1.5M492.5,248.9v-2.5M492.5,289.2v0.6M493.5,248.9v-1.5M493.5,289.2v2.4M494.5,248.9v-1.8M494.5,289.2v1.6M495.5,248.9v-0.6M495.5,289.2v0.7M496.5,248.9v-1M496.5,289.2v2.5M497.5,248.9v-2.3M497.5,289.2v0.9M498.5,248.9v-2.5M498.5,289.2v0.5M499.5,248.9v-1.8M499.5,289.2v2.6M500.5,248.9v-1.2M500.5,289.2v2.6M501.5,248.9v-1.9M501.5,289.2v0.5M502.5,248.9v-1.2M502.5,289.2v1.4M503.5,248.9v-1M503.5,289.2v2.1M504.5,248.9v-0.8M504.5,289.2v2.2M505.5,248.9v-1.1M505.5,289.2v0.6M506.5,248.9v-1.7M506.5,289.2v0.6M507.5,248.9v-1.7M507.5,289.2v2.2M508.5,248.9v-1.8M508.5,289.2v1.5M509.5,248.9v-0.5M509.5,289.2v1.6M510.5,248.9v-0.6M510.5,289.2v1.9M511.5,248.9v-0.7M511.5,289.2v1.7M512.5,248.9v-1.2M512.5,289.2v1.3M513.5,248.9v-1.9M513.5,289.2v0.8M514.5,248.9v-0.8M514.5,289.2v2.6M515.5,248.9v-1.2M515.5,289.2v2.3M516.5,248.9v-2.4M516.5,289.2v1.5M517.5,248.9v-0.7M517.5,289.2v0.6M518.5,248.9v-2.4M518.5,289.2v0.7M519.5,248.9v-1.5M519.5,289.2v1.6M520.5,248.9v-0.7M520.5,289.2v1.5M521.5,248.9v-0.8M521.5,289.2v1.6M522.5,248.9v-1.6M522.5,289.2v1.2M523.5,248.9v-0.9M523.5,289.2v1.3M524.5,248.9v-0.9M524.5,289.2v0.7M525.5,248.9v-1M525.5,289.2v2.4M526.5,248.9v-1.6M526.5,289.2v2.4M527.5,248.9v-0.4M527.5,289.2v2.6M528.5,248.9v-1.5M528.5,289.2v2.2M529.5,248.9v-1.7M529.5,289.2v2M530.5,248.9v-0.9M530.5,289.2v2.1M531.5,248.9v-0.8M531.5,289.2v1M532.5,248.9v-0.5M532.5,289.2v1.3M533.5,248.9v-1.6M533.5,289.2v1.1M534.5,248.9v-2.4M534.5,289.2v0.6M535.5,248.9v-1.7M535.5,289.2v0.9M536.5,248.9v-1.8M536.5,289.2v2.2M537.5,248.9v-2M537.5,289.2v0.5M538.5,248.9v-1M538.5,289.2v1.8M539.5,248.9v-2.7M539.5,289.2v0.5M540.5,248.9v-1.8M540.5,289.2v2M541.5,248.9v-2.3M541.5,289.2v1.2M542.5,248.9v-2.3M542.5,289.2v1.5M543.5,248.9v-2.5M543.5,289.2v0.4M544.5,248.9v-2.6M544.5,289.2v1.3M545.5,248.9v-1.3M545.5,289.2v0.6M546.5,248.9v-1M546.5,289.2v2.1M547.5,248.9v-2M547.5,289.2v0.7M548.5,248.9v-1.2M548.5,289.2v0.7M549.5,248.9v-0.9M549.5,289.2v0.9M550.5,248.9v-1.2M550.5,289.2v2.6M551.5,248.9v-2.7M551.5,289.2v2.2M552.5,248.9v-1.5M552.5,289.2v1.5M553.5,248.9v-2.2M553.5,289.2v2.5M554.5,248.9v-2.1M554.5,289.2v1.9M555.5,248.9v-0.9M555.5,289.2v1.8M556.5,248.9v-2.3M556.5,289.2v2.2M557.5,248.9v-0.6M557.5,289.2v2.1M558.5,248.9v-1.2M558.5,289.2v0.8M559.5,248.9v-2.6M559.5,289.2v1.9M560.5,248.9v-2.1M560.5,289.2v0.7M561.5,248.9v-2.3M561.5,289.2v2.6M562.5,248.9v-2.5M562.5,289.2v2.1M563.5,248.9v-2.3M563.5,289.2v2.2M564.5,248.9v-1.8M564.5,289.2v1.4M565.5,248.9v-2.3M565.5,289.2v2.2M566.5,248.9v-2.4M566.5,289.2v1.1M567.5,248.9v-2.6M567.5,289.2v1.6M568.5,248.9v-2.6M568.5,289.2v0.7M569.5,248.9v-2.6M569.5,289.2v2.2M570.5,248.9v-1M570.5,289.2v2.3M571.5,248.9v-0.9M571.5,289.2v0.9M572.5,248.9v-1.5M572.5,289.2v0.9M573.5,248.9v-1.5M573.5,289.2v2.5M574.5,248.9v-2M574.5,289.2v2M575.5,248.9v-1.3M575.5,289.2v2.2M576.5,248.9v-2.2M576.5,289.2v2M577.5,248.9v-2.6M577.5,289.2v2.3M578.5,248.9v-1.3M578.5,289.2v0.6M579.5,248.9v-1.9M579.5,289.2v2.3M580.5,248.9v-1.2M580.5,289.2v1.8M581.5,248.9v-2.3M581.5,289.2v2.2M582.5,248.9v-0.4M582.5,289.2v1.5M583.5,248.9v-0.4M583.5,289.2v0.7M584.5,248.9v-2.3M584.5,289.2v1.4M585.5,248.9v-1.8M585.5,289.2v1.5M586.5,248.9v-1.2M586.5,289.2v0.9M587.5,248.9v-1.2M587.5,289.2v2.3M588.5,248.9v-1.8M588.5,289.2v1.1M589.5,248.9v-0.6M589.5,289.2v1M590.5,248.9v-2M590.5,289.2v1.4M591.5,248.9v-1.9M591.5,289.2v2.3M592.5,248.9v-0.7M592.5,289.2v2M593.5,248.9v-0.5M593.5,289.2v2.3M594.5,248.9v-0.8M594.5,289.2v1M595.5,248.9v-2.6M595.5,289.2v1.2M596.5,248.9v-0.9M596.5,289.2v2.4M597.5,248.9v-1.8M597.5,289.2v2.5M598.5,248.9v-1.3M598.5,289.2v1.5M599.5,248.9v-2.6M599.5,289.2v1.6M600.5,248.9v-2.7M600.5,289.2v0.8M601.5,248.9v-2.3M601.5,289.2v0.8M602.5,248.9v-1.6M602.5,289.2v0.4M603.5,248.9v-0.8M603.5,289.2v2.6M604.5,248.9v-1.4M604.5,289.2v2.3M605.5,248.9v-1M605.5,289.2v1.2M606.5,248.9v-0.6M606.5,289.2v1.7M607.5,248.9v-2.4M607.5,289.2v1.6M608.5,248.9v-1.3M608.5,289.2v2.5M609.5,248.9v-2.5M609.5,289.2v1.9M610.5,248.9v-0.6M610.5,289.2v1.8M611.5,248.9v-1.4M611.5,289.2v2.6M612.5,248.9v-1.2M612.5,289.2v1.9M613.5,248.9v-1.9M613.5,289.2v1.3M614.5,248.9v-1.6M614.5,289.2v2M615.5,248.9v-2.5M615.5,289.2v1.5M616.5,248.9v-1.2M616.5,289.2v2.6M617.5,248.9v-0.5M617.5,289.2v2.3M618.5,248.9v-2M618.5,289.2v1.7M619.5,248.9v-1.4M619.5,289.2v2.1M620.5,248.9v-2.4M620.5,289.2v2.1M621.5,248.9v-2.1M621.5,289.2v0.5M622.5,248.9v-1.1M622.5,289.2v0.7M623.5,248.9v-2.6M623.5,289.2v2.5M624.5,248.9v-0.7M624.5,289.2v1.8M625.5,248.9v-1.7M625.5,289.2v0.5M626.5,248.9v-1.3M626.5,289.2v2.1M627.5,248.9v-1.9M627.5,289.2v1M628.5,248.9v-2.2M628.5,289.2v1.1M629.5,248.9v-1.7M629.5,289.2v1.4M630.5,248.9v-2.6M630.5,289.2v1.9M631.5,248.9v-2.3M631.5,289.2v2M632.5,248.9v-1.3M632.5,289.2v2.6M633.5,248.9v-2M633.5,289.2v2M634.5,248.9v-1M634.5,289.2v0.8M635.5,248.9v-1.7M635.5,289.2v2.3M636.5,248.9v-2.2M636.5,289.2v1.2M637.5,248.9v-0.7M637.5,289.2v1.6M638.5,248.9v-2.4M638.5,289.2v0.8M639.5,248.9v-2.1M639.5,289.2v0.8M640.5,248.9v-1.1M640.5,289.2v0.5M641.5,248.9v-1.1M641.5,289.2v1.3M642.5,248.9v-2.6M642.5,289.2v2.6M643.5,248.9v-0.8M643.5,289.2v1.1M644.5,248.9v-2.6M644.5,289.2v0.9M645.5,248.9v-1.1M645.5,289.2v1.4M646.5,248.9v-0.6M646.5,289.2v1M647.5,248.9v-1.3M647.5,289.2v1.3M648.5,248.9v-2.6M648.5,289.2v1M649.5,248.9v-0.9M649.5,289.2v2.5M650.5,248.9v-1.4M650.5,289.2v2.3M651.5,248.9v-1.9M651.5,289.2v2.2M652.5,248.9v-1.1M652.5,289.2v0.7M653.5,248.9v-2.1M653.5,289.2v1.5M654.5,248.9v-1.7M654.5,289.2v1.9M655.5,248.9v-2.1M655.5,289.2v1M656.5,248.9v-1.2M656.5,289.2v2.5M657.5,248.9v-1.6M657.5,289.2v1.1M658.5,248.9v-1.8M658.5,289.2v1M659.5,248.9v-2.2M659.5,289.2v0.5M660.5,248.9v-2.3M660.5,289.2v1.7M661.5,248.9v-1.2M661.5,289.2v2.6M662.5,248.9v-1M662.5,289.2v1M663.5,248.9v-0.6M663.5,289.2v1.7M664.5,248.9v-2.1M664.5,289.2v2M665.5,248.9v-1.3M665.5,289.2v2.3M666.5,248.9v-0.7M666.5,289.2v1.1M667.5,248.9v-1.9M667.5,289.2v2.6M668.5,248.9v-1.9M668.5,289.2v2M669.5,248.9v-2.2M669.5,289.2v1.3M670.5,248.9v-2.6M670.5,289.2v2.1M671.5,248.9v-1.2M671.5,289.2v1.3M672.5,248.9v-2.3M672.5,289.2v1.2M673.5,248.9v-0.8M673.5,289.2v2.4M674.5,248.9v-1.6M674.5,289.2v1.6M675.5,248.9v-1.9M675.5,289.2v2.5M676.5,248.9v-0.7M676.5,289.2v1.2M677.5,248.9v-0.6M677.5,289.2v1.4M678.5,248.9v-1.6M678.5,289.2v2.4M679.5,248.9v-1.9M679.5,289.2v1.7M680.5,248.9v-1.3M680.5,289.2v1.7M681.5,248.9v-1M681.5,289.2v2.3M682.5,248.9v-2.2M682.5,289.2v2.3M683.5,248.9v-0.7M683.5,289.2v1.9M684.5,248.9v-2.1M684.5,289.2v1.6M685.5,248.9v-2.5M685.5,289.2v2.5M686.5,248.9v-2.1M686.5,289.2v2.3M687.5,248.9v-1.9M687.5,289.2v2.4M688.5,248.9v-0.7M688.5,289.2v2M689.5,248.9v-2M689.5,289.2v1.8M690.5,248.9v-1M690.5,289.2v0.6M691.5,248.9v-1.8M691.5,289.2v2.3M692.5,248.9v-1M692.5,289.2v0.9M693.5,248.9v-0.9M693.5,289.2v0.6M694.5,248.9v-2M694.5,289.2v2.6M695.5,248.9v-2.2M695.5,289.2v1.2M696.5,248.9v-2M696.5,289.2v0.6M697.5,248.9v-2.3M697.5,289.2v1.1M698.5,248.9v-0.4M698.5,289.2v1.8M699.5,248.9v-0.7M699.5,289.2v1M700.5,248.9v-0.5M700.5,289.2v1.4M701.5,248.9v-1.7M701.5,289.2v2.3M702.5,248.9v-0.5M702.5,289.2v2.3M703.5,248.9v-0.7M703.5,289.2v0.9M704.5,248.9v-1.8M704.5,289.2v1.2M705.5,248.9v-1.2M705.5,289.2v1.7M706.5,248.9v-0.9M706.5,289.2v2.2M707.5,248.9v-0.9M707.5,289.2v2.3M708.5,248.9v-2.3M708.5,289.2v1.6M709.5,248.9v-0.5M709.5,289.2v2.2M710.5,248.9v-0.5M710.5,289.2v1.6M711.5,248.9v-1.4M711.5,289.2v0.5M712.5,248.9v-1.8M712.5,289.2v2.1M713.5,248.9v-1.7M713.5,289.2v1.3M714.5,248.9v-1.6M714.5,289.2v1.8M715.5,248.9v-0.9M715.5,289.2v2.4M716.5,248.9v-2.7M716.5,289.2v2.2M717.5,248.9v-2.6M717.5,289.2v1.2M718.5,248.9v-2.7M718.5,289.2v0.6M719.5,248.9v-1.5M719.5,289.2v0.7M720.5,248.9v-1.4M720.5,289.2v2M721.5,248.9v-2M721.5,289.2v1.4M722.5,248.9v-1.2M722.5,289.2v0.8M723.5,248.9v-1.3M723.5,289.2v1M724.5,248.9v-0.8M724.5,289.2v2.1M725.5,248.9v-1.6M725.5,289.2v1.4M726.5,248.9v-0.9M726.5,289.2v2M727.5,248.9v-0.9M727.5,289.2v1M728.5,248.9v-1.7M728.5,289.2v2M729.5,248.9v-2.6M729.5,289.2v2.1M730.5,248.9v-2.6M730.5,289.2v2.5M731.5,248.9v-2.1M731.5,289.2v2.1M732.5,248.9v-0.5M732.5,289.2v0.9M733.5,248.9v-0.4M733.5,289.2v2.4M734.5,248.9v-2.1M734.5,289.2v1.8M735.5,248.9v-1M735.5,289.2v1.2M736.5,248.9v-0.8M736.5,289.2v1.9M737.5,248.9v-2.7M737.5,289.2v1.1M738.5,248.9v-0.5M738.5,289.2v0.8M739.5,248.9v-1.2M739.5,289.2v2.5M740.5,248.9v-2.3M740.5,289.2v1.4M741.5,248.9v-0.6M741.5,289.2v0.6M742.5,248.9v-0.8M742.5,289.2v2.2M743.5,248.9v-1.5M743.5,289.2v2.7M744.5,248.9v-2.5M744.5,289.2v2.2M745.5,248.9v-1.5M745.5,289.2v2.3M746.5,248.9v-0.7M746.5,289.2v0.7M747.5,248.9v-1.7M747.5,289.2v1.6M748.5,248.9v-0.9M748.5,289.2v1M749.5,248.9v-0.4M749.5,289.2v2.5M750.5,248.9v-2M750.5,289.2v2.6M751.5,248.9v-2.7M751.5,289.2v1.4M752.5,248.9v-2.1M752.5,289.2v1.3M753.5,248.9v-2.3M753.5,289.2v2.3M754.5,248.9v-0.7M754.5,289.2v0.4M755.5,248.9v-0.9M755.5,289.2v1.7M756.5,248.9v-1.3M756.5,289.2v0.4M757.5,248.9v-2.3M757.5,289.2v2.2M758.5,248.9v-1.5M758.5,289.2v0.5M759.5,248.9v-2.4M759.5,289.2v1.6M760.5,248.9v-0.6M760.5,289.2v1.1M761.5,248.9v-1.8M761.5,289.2v2.4M762.5,248.9v-1.5M762.5,289.2v1.9M763.5,248.9v-0.9M763.5,289.2v1M764.5,248.9v-2.5M764.5,289.2v1.3M765.5,248.9v-0.6M765.5,289.2v1.8M766.5,248.9v-0.7M766.5,289.2v0.9M767.5,248.9v-1.4M767.5,289.2v1.7M768.5,248.9v-1.9M768.5,289.2v2M769.5,248.9v-1.4M769.5,289.2v0.6M770.5,248.9v-2.1M770.5,289.2v0.5M771.5,248.9v-1.5M771.5,289.2v1.3M772.5,248.9v-1.9M772.5,289.2v2M773.5,248.9v-1M773.5,289.2v1.9M774.5,248.9v-2M774.5,289.2v1.5M775.5,248.9v-0.7M775.5,289.2v2.5M776.5,248.9v-1.8M776.5,289.2v0.5M777.5,248.9v-0.9M777.5,289.2v2.7M778.5,248.9v-0.9M778.5,289.2v1.3M779.5,248.9v-2.2M779.5,289.2v2.3M780.5,248.9v-1.9M780.5,289.2v2.1M781.5,248.9v-0.5M781.5,289.2v0.6M782.5,248.9v-2.6M782.5,289.2v2.2M783.5,248.9v-0.5M783.5,289.2v0.5M784.5,248.9v-1M784.5,289.2v2.5M785.5,248.9v-0.9M785.5,289.2v1.9M786.5,248.9v-2.5M786.5,289.2v1.9M787.5,248.9v-2.5M787.5,289.2v1M788.5,248.9v-0.8M788.5,289.2v0.4M789.5,248.9v-2.1M789.5,289.2v0.6M790.5,248.9v-2.6M790.5,289.2v2M791.5,248.9v-0.8M791.5,289.2v2.3M792.5,248.9v-0.8M792.5,289.2v1.6M793.5,248.9v-0.6M793.5,289.2v2.2M794.5,248.9v-2.4M794.5,289.2v2.5M795.5,248.9v-0.4M795.5,289.2v2.4M796.5,248.9v-1.7M796.5,289.2v2.3M797.5,248.9v-1.6M797.5,289.2v1.8M798.5,248.9v-1.8M798.5,289.2v2.2M799.5,248.9v-0.6M799.5,289.2v0.5M800.5,248.9v-1.7M800.5,289.2v1.1M801.5,248.9v-1.3M801.5,289.2v0.4M802.5,248.9v-2.1M802.5,289.2v0.5M803.5,248.9v-2.3M803.5,289.2v2.3M804.5,248.9v-1.5M804.5,289.2v0.7M805.5,248.9v-1.9M805.5,289.2v0.9M806.5,248.9v-1.4M806.5,289.2v0.7M807.5,248.9v-2.6M807.5,289.2v1.7M808.5,248.9v-1.2M808.5,289.2v0.6M809.5,248.9v-2.1M809.5,289.2v2.4M810.5,248.9v-2.4M810.5,289.2v0.6M811.5,248.9v-1.2M811.5,289.2v1.1M812.5,248.9v-2.2M812.5,289.2v0.7M813.5,248.9v-1.8M813.5,289.2v2.7M814.5,248.9v-2.2M814.5,289.2v0.4M815.5,248.9v-0.6M815.5,289.2v0.7M816.5,248.9v-2M816.5,289.2v1.8M817.5,248.9v-1.6M817.5,289.2v1.4M818.5,248.9v-1.3M818.5,289.2v1.8M819.5,248.9v-1.9M819.5,289.2v2.5M820.5,248.9v-2.1M820.5,289.2v2.2M821.5,248.9v-2.5M821.5,289.2v2.3M822.5,248.9v-2M822.5,289.2v0.5M823.5,248.9v-2M823.5,289.2v2.4M824.5,248.9v-1.4M824.5,289.2v2.4M825.5,248.9v-0.8M825.5,289.2v2.6M826.5,248.9v-1.4M826.5,289.2v2M827.5,248.9v-1M827.5,289.2v1.1M828.5,248.9v-1.2M828.5,289.2v1.1M829.5,248.9v-0.6M829.5,289.2v1.4M830.5,248.9v-2.7M830.5,289.2v1.9M831.5,248.9v-2.5M831.5,289.2v2.2M832.5,248.9v-2.3M832.5,289.2v2.7M833.5,248.9v-2.1M833.5,289.2v1M834.5,248.9v-1M834.5,289.2v1.3M835.5,248.9v-0.4M835.5,289.2v0.9M836.5,248.9v-2.4M836.5,289.2v2.5M837.5,248.9v-1.2M837.5,289.2v2.2M838.5,248.9v-2.2M838.5,289.2v2.4M839.5,248.9v-2.2M839.5,289.2v1.6M840.5,248.9v-0.6M840.5,289.2v2.3M841.5,248.9v-1.1M841.5,289.2v1.8M842.5,248.9v-1.2M842.5,289.2v1.6M843.5,248.9v-2.6M843.5,289.2v0.8M844.5,248.9v-1.6M844.5,289.2v1.9M845.5,248.9v-1.6M845.5,289.2v2.6M846.5,248.9v-1.3M846.5,289.2v2.5M847.5,248.9v-2M847.5,289.2v2.6M848.5,248.9v-0.6M848.5,289.2v0.9M849.5,248.9v-1.1M849.5,289.2v2.5M850.5,248.9v-0.4M850.5,289.2v1M851.5,248.9v-2M851.5,289.2v2.7M852.5,248.9v-0.8M852.5,289.2v1.4M853.5,248.9v-2M853.5,289.2v2M854.5,248.9v-2.1M854.5,289.2v2.1M855.5,248.9v-1M855.5,289.2v1M856.5,248.9v-0.5M856.5,289.2v2M857.5,248.9v-0.9M857.5,289.2v1M858.5,248.9v-2.6M858.5,289.2v1.9M859.5,248.9v-1.8M859.5,289.2v1.9M860.5,248.9v-1.8M860.5,289.2v2M861.5,248.9v-1.1M861.5,289.2v0.5M862.5,248.9v-0.6M862.5,289.2v0.4M863.5,248.9v-1.2M863.5,289.2v0.7M864.5,248.9v-0.7M864.5,289.2v1.5M865.5,248.9v-2.6M865.5,289.2v2" stroke="#0aff0a" stroke-width="1" stroke-opacity="0.45" fill="none"/>
<polyline points="195,385 197,384.8 199.1,385.2 201.1,384.8 203.1,384.7 205.2,384.9 207.2,384.9 209.2,385.1 211.3,385 213.3,385.2 215.3,384.7 217.4,385.3 219.4,384.9 221.4,385.2 223.5,384.7 225.5,385.2 227.5,384.8 229.6,385.2 231.6,385.2 233.6,385.1 235.7,384.8 237.7,384.7 239.8,384.8 241.8,385.3 243.8,384.8 245.9,385.1 247.9,385.1 249.9,385.1 252,384.8 254,384.8 256,384.7 258.1,385.3 260.1,384.9 262.1,385.1 264.2,385 266.2,384.8 268.2,384.7 270.3,384.7 272.3,385.2 274.3,384.7 276.4,385.3 278.4,384.9 280.4,385.2 282.5,384.7 284.5,385" fill="none" stroke="#ff0a0a" stroke-width="3.2"/>
<line x1="285.3" y1="383" x2="285.3" y2="402.5" stroke="#ff3030" stroke-width="1"/>
<polyline points="285.5,402.5 287.5,402.8 289.6,402.4 291.6,402.6 293.6,402.7 295.7,402.5 297.7,402.6 299.7,403.1 301.8,402.8 303.8,402.9 305.8,403.2 307.9,402.9 309.9,402.9 311.9,403 314,403.1 316,403.2 318.1,403.4 320.1,403.4 322.1,403.7 324.2,403.2 326.2,403.6 328.2,403.8 330.3,403.5 332.3,403.4 334.3,403.7 336.4,403.5 338.4,403.8 340.4,404 342.5,403.7 344.5,404 346.5,403.8 348.5,404.1 350.5,403.9 352.5,403.9 354.5,404.1 356.5,403.9 358.5,403.9 360.5,404.2 362.5,404.3 364.5,404.6 366.5,404.4 368.5,404.1 370.5,404.2 372.5,404.6 374.5,404.5 376.5,404.8 378.5,404.9 380.5,404.9 382.5,404.4 384.5,405 386.5,404.7 388.5,404.6 390.5,404.5 392.5,405.1 394.5,404.6 396.5,404.6 398.5,404.7 400.5,405.2 402.5,404.9 404.5,405 406.5,405.2 408.5,404.7 410.5,405 412.5,404.9 414.5,404.8 416.5,405.1 418.5,404.9 420.6,404.7 422.6,405.3 424.6,405 426.6,404.8 428.6,404.7 430.6,405.1 432.6,405 434.6,404.7 436.6,405 438.6,405.2 440.6,405 442.6,404.8 444.6,405 446.6,405.1 448.6,405.1 450.6,404.8 452.7,405.2 454.7,405.3 456.7,405.2 458.7,405.3 460.7,404.9 462.7,405.3 464.7,404.8 466.7,404.8 468.7,405.1 470.7,405.3 472.7,404.7 474.7,404.8 476.7,404.7 478.7,405 480.7,404.7 482.8,404.8 484.8,405.2 486.8,405.1 488.8,405.3 490.8,404.9 492.8,405.1 494.8,404.7 496.8,405.3 498.8,404.8 500.8,405 502.8,405 504.8,405.3 506.8,405 508.8,405.3 510.8,405.1 512.9,404.8 514.9,405.2 516.9,404.8 518.9,405.3 520.9,405 522.9,404.8 524.9,405.3 526.9,404.9 528.9,404.9 530.9,404.9 532.9,405.1 534.9,404.7 536.9,404.9 538.9,404.8 540.9,405.2 543,404.7 545,405.1 547,404.8 549,405 551,405 553,405.1 555,404.7 557,404.8 559,404.7 561,405.3 563,404.8 565,404.7 567,405 569,405.1 571,405.3 573,404.7 575.1,404.8 577.1,404.8 579.1,405.1 581.1,405 583.1,404.9 585.1,405.3 587.1,405.1 589.1,405.3 591.1,405.3 593.1,404.8 595.1,405.3 597.1,404.9 599.1,404.7 601.1,405.3 603.1,404.7 605.2,404.7 607.2,404.9 609.2,404.9 611.2,405.3 613.2,405.3 615.2,404.9 617.2,405 619.2,405.2 621.2,405.2 623.2,405.1 625.2,405 627.2,404.7 629.2,404.8 631.2,405.1 633.2,405.1 635.2,405.2 637.3,405.3 639.3,405.3 641.3,404.8 643.3,404.7 645.3,405.3 647.3,405 649.3,404.8 651.3,405.1 653.3,404.8 655.3,404.8 657.3,404.9 659.3,405 661.3,405.1 663.3,404.7 665.3,405.2 667.4,405.1 669.4,405 671.4,405.1 673.4,405.2 675.4,404.7 677.4,405 679.4,405.1 681.4,405.1 683.4,405.1 685.4,404.8 687.4,405.3 689.4,405.2 691.4,404.8 693.4,405 695.4,405.3 697.5,404.8 699.5,404.9 701.5,405.3 703.5,405.3 705.5,404.8 707.5,405.2 709.5,404.9 711.5,405.1 713.5,405.2 715.5,404.7 717.5,404.8 719.5,404.8 721.5,404.8 723.5,404.7 725.5,404.7 727.5,404.9 729.6,404.9 731.6,404.7 733.6,405.1 735.6,405.3 737.6,405.1 739.6,404.9 741.6,405.1 743.6,405 745.6,404.8 747.6,405 749.6,404.7 751.6,405.1 753.6,404.8 755.6,404.9 757.6,405.3 759.7,405.2 761.7,405.2 763.7,405.1 765.7,405.1 767.7,405.1 769.7,405.3 771.7,404.8 773.7,405.2 775.7,404.9 777.7,404.8 779.7,405.2 781.7,405.1 783.7,405.2 785.7,405.3 787.7,405.1 789.8,404.8 791.8,404.7 793.8,405 795.8,405.2 797.8,404.8 799.8,404.7 801.8,404.7 803.8,404.8 805.8,405.1 807.8,404.7 809.8,404.8 811.8,404.8 813.8,405.1 815.8,405.3 817.8,404.7 819.9,404.7 821.9,405.3 823.9,405.3 825.9,404.8 827.9,404.9 829.9,405 831.9,404.9 833.9,404.9 835.9,405 837.9,404.8 839.9,404.7 841.9,404.7 843.9,404.8 845.9,404.7 847.9,405.1 849.9,405.1 852,404.8 854,405.2 856,405.2 858,404.9 860,405 862,404.8 864,405.3 866,405" fill="none" stroke="#ff0a0a" stroke-width="3"/>
<polyline points="195,172.9 229,172.9 229,174.8 285,174.8 285,176.7 290,176.7 290,174.8 296,174.8 296,172.9 301.1,172.9 301.1,171 307.1,171 307.1,169.1 312.1,169.1 312.1,167.2 320.1,167.2 320.1,165.3 324.1,165.3 324.1,163.4 330.2,163.4 330.2,161.5 334.2,161.5 334.2,159.6 340.2,159.6 340.2,157.7 347.2,157.7 347.2,155.8 353.3,155.8 353.3,153.9 356.3,153.9 356.3,152 361.3,152 361.3,150.1 368.3,150.1 368.3,148.2 374.3,148.2 374.3,146.3 379.4,146.3 379.4,144.4 385.4,144.4 385.4,142.5 390.5,142.5 390.5,140.6 396.6,140.6 396.6,138.7 402.8,138.7 402.8,136.8 414.4,136.8 414.4,138.7 419.1,138.7 419.1,140.6 424.6,140.6 424.6,138.7 430.2,138.7 430.2,136.8 439.4,136.8 439.4,138.7 445,138.7 445,140.6 449.3,140.6 449.3,138.7 456.2,138.7 456.2,136.8 465.5,136.8 465.5,138.7 470,138.7 470,140.6 507.9,140.6 507.9,138.7 540.6,138.7 540.6,136.8 643,136.8 643,138.7 866,138.7" fill="none" stroke="#ff10ff" stroke-width="2.3" stroke-linejoin="miter"/>
<line x1="285.9" y1="164" x2="285.9" y2="183.7" stroke="#ff9cff" stroke-width="2"/>
<line x1="284.8" y1="180.7" x2="284.8" y2="191" stroke="#ff20ff" stroke-width="1.3"/>
<line x1="284.5" y1="9.7" x2="284.5" y2="449" stroke="#ff98ff" stroke-width="1.7"/>
<line x1="469.2" y1="9.7" x2="469.2" y2="449" stroke="#ff98ff" stroke-width="1.7"/>
<line x1="284.5" y1="248.9" x2="284.5" y2="289.2" stroke="#94a494" stroke-width="1.6"/>
<line x1="469.2" y1="248.9" x2="469.2" y2="289.2" stroke="#94a494" stroke-width="1.6"/>
<line x1="284.5" y1="67.3" x2="284.5" y2="123.8" stroke="#9a48ff" stroke-width="1.6"/>
<line x1="469.2" y1="67.3" x2="469.2" y2="123.8" stroke="#9a48ff" stroke-width="1.6"/>
<rect x="279.8" y="333.1" width="9.4" height="9.8" fill="none" stroke="#ff80ff" stroke-width="1.2"/>
<circle cx="469.2" cy="27.2" r="4.9" fill="none" stroke="#ff80ff" stroke-width="1.2"/>
<circle cx="290.5" cy="18.6" r="5.2" fill="#00b0f0"/>
<text x="290.5" y="21.8" font-family="Liberation Sans, sans-serif" font-size="9" font-weight="bold" fill="#ffffff" text-anchor="middle">a</text>
<circle cx="462.4" cy="18.4" r="5.2" fill="#00b0f0"/>
<text x="462.4" y="21.6" font-family="Liberation Sans, sans-serif" font-size="9" font-weight="bold" fill="#ffffff" text-anchor="middle">b</text>
<path d="M527,9.7 A3.5,3.5 0 0 0 534,9.7 Z" fill="#0060ff"/>
<rect x="664.7" y="25.7" width="202.5" height="39.6" rx="2.5" fill="#fffcfe" stroke="#7e8076" stroke-width="1.3"/>
<rect x="677.5" y="28.3" width="9.5" height="9.5" fill="none" stroke="#ff80ff" stroke-width="1"/>
<circle cx="682.3" cy="45.9" r="4.8" fill="none" stroke="#ff80ff" stroke-width="1"/>
<circle cx="695" cy="32.9" r="5" fill="#00b0f0"/>
<text x="695" y="36.1" font-family="Liberation Sans, sans-serif" font-size="9" font-weight="bold" fill="#ffffff" text-anchor="middle">a</text>
<circle cx="695" cy="45.9" r="5" fill="#00b0f0"/>
<text x="695" y="49.1" font-family="Liberation Sans, sans-serif" font-size="9" font-weight="bold" fill="#ffffff" text-anchor="middle">b</text>
<text x="719.7" y="36.7" font-family="Liberation Sans, sans-serif" font-size="10" letter-spacing="1.1" fill="#ff55ff" stroke="#ff55ff" stroke-width="0.3">−14.7 s</text>
<text x="719.7" y="49.7" font-family="Liberation Sans, sans-serif" font-size="10" letter-spacing="1.1" fill="#ff55ff" stroke="#ff55ff" stroke-width="0.3">−3.68 s</text>
<text x="719.7" y="62.7" font-family="Liberation Sans, sans-serif" font-size="10" letter-spacing="1.1" fill="#ff55ff" stroke="#ff55ff" stroke-width="0.3">Δ11.0 s</text>
<path d="M181,90.5 L188.5,90.5 L192,96 L188.5,101.5 L181,101.5 Z" fill="#ffffff" stroke="#6060ff" stroke-width="1"/><text x="185.5" y="99.1" font-family="Liberation Sans, sans-serif" font-size="8.5" fill="#4040ff" text-anchor="middle">1</text>
<path d="M181,267 L188.5,267 L192,272.5 L188.5,278 L181,278 Z" fill="#ffffff" stroke="#90e090" stroke-width="1"/><text x="185.5" y="275.6" font-family="Liberation Sans, sans-serif" font-size="8.5" fill="#70d070" text-anchor="middle">3</text>
<path d="M181,400.5 L188.5,400.5 L192,406 L188.5,411.5 L181,411.5 Z" fill="#ff50ff" stroke="#e8d0a0" stroke-width="1"/><text x="185.5" y="409.1" font-family="Liberation Sans, sans-serif" font-size="8.5" fill="#ffffff" text-anchor="middle">4</text>
<path d="M181,432.5 L188.5,432.5 L192,438 L188.5,443.5 L181,443.5 Z" fill="#ffffff" stroke="#e89060" stroke-width="1"/><text x="185.5" y="441.1" font-family="Liberation Sans, sans-serif" font-size="8.5" fill="#ff3030" text-anchor="middle">2</text>
<path d="M194,10V449.3H867.5" stroke="#000" stroke-width="3.6" fill="none" stroke-linejoin="round" stroke-linecap="round"/>
<path d="M194,10H201.5M194,53.9H201.5M194,97.9H201.5M194,141.8H201.5M194,185.7H201.5M194,229.7H201.5M194,273.6H201.5M194,317.5H201.5M194,361.4H201.5M194,405.4H201.5M261.3,449.3V440.8M328.6,449.3V440.8M395.9,449.3V440.8M463.2,449.3V440.8M530.5,449.3V440.8M597.8,449.3V440.8M665.1,449.3V440.8M732.4,449.3V440.8M799.7,449.3V440.8M867,449.3V440.8" stroke="#000" stroke-width="3.6" fill="none" stroke-linecap="round"/>
<line x1="389.1" y1="52.9" x2="418.7" y2="68.8" stroke="#000" stroke-width="3.3" stroke-linecap="round"/>
<line x1="603.1" y1="140.2" x2="639.2" y2="159.7" stroke="#000" stroke-width="3.3" stroke-linecap="round"/>
<line x1="430.5" y1="217.3" x2="461.2" y2="248.8" stroke="#000" stroke-width="3.3" stroke-linecap="round"/>
<line x1="299.8" y1="402.6" x2="341.9" y2="374.5" stroke="#000" stroke-width="3.3" stroke-linecap="round"/>
<text x="359.5" y="56.2" class="s" font-family="Liberation Serif, serif" font-size="37"><tspan font-style="italic">e</tspan><tspan font-size="24" dx="-2" dy="4.5">a</tspan></text>
<text x="402.5" y="221" class="s" font-family="Liberation Serif, serif" font-size="37"><tspan font-style="italic">i</tspan><tspan font-size="24" dy="5.5">a</tspan></text>
<text x="647.5" y="181.4" class="s" font-family="Liberation Serif, serif" font-size="37"><tspan font-style="italic">I</tspan><tspan font-size="23" font-style="italic" dx="0" dy="5">PV</tspan></text>
<text x="351" y="386.4" class="s" font-family="Liberation Serif, serif" font-size="37"><tspan font-style="italic">V</tspan><tspan font-size="23" font-style="italic" dx="-3" dy="5">PV</tspan></text>
<text x="431.1" y="487.2" class="s" font-family="Liberation Serif, serif" font-size="37" letter-spacing="0.1">Time (4 s/div)</text>
<text x="102.6" y="538.6" class="s" font-family="Liberation Serif, serif" font-size="36" word-spacing="1.88"><tspan font-size="40">(</tspan><tspan font-weight="bold" font-size="39.5" dx="0.5">a</tspan><tspan font-size="40" dx="0.8">)</tspan><tspan dx="12.7">P&amp;O with 0.5 V fixed perturbation value under </tspan><tspan font-style="italic">Case 1</tspan></text>
<text transform="translate(31.4,232) rotate(-90)" x="0" y="0" class="s" font-family="Liberation Serif, serif" font-size="37" text-anchor="middle"><tspan font-style="italic">i</tspan><tspan font-size="24" dy="5">a</tspan><tspan dy="-5"> (20 A/div)</tspan></text>
<text transform="translate(73.8,232) rotate(-90)" x="0" y="0" class="s" font-family="Liberation Serif, serif" font-size="37" text-anchor="middle"><tspan font-style="italic">I</tspan><tspan font-size="23" font-style="italic" dy="5">PV</tspan><tspan dy="-5"> (10 A/div)</tspan></text>
<text transform="translate(117,232) rotate(-90)" x="0" y="0" class="s" font-family="Liberation Serif, serif" font-size="37" text-anchor="middle"><tspan font-style="italic">e</tspan><tspan font-size="24" dx="-2" dy="5">a</tspan><tspan dy="-5"> (500 V/div)</tspan></text>
<text transform="translate(159.4,232) rotate(-90)" x="0" y="0" class="s" font-family="Liberation Serif, serif" font-size="37" text-anchor="middle"><tspan font-style="italic">V</tspan><tspan font-size="23" font-style="italic" dx="-4.5" dy="5">PV</tspan><tspan dy="-5"> (100 V/div)</tspan></text>
<line x1="261.3" y1="598.1" x2="261.3" y2="1035" stroke="#b4b8c8" stroke-width="1" stroke-dasharray="1.2,7.5" stroke-dashoffset="0.6"/>
<line x1="328.6" y1="598.1" x2="328.6" y2="1035" stroke="#b4b8c8" stroke-width="1" stroke-dasharray="1.2,7.5" stroke-dashoffset="0.6"/>
<line x1="395.9" y1="598.1" x2="395.9" y2="1035" stroke="#b4b8c8" stroke-width="1" stroke-dasharray="1.2,7.5" stroke-dashoffset="0.6"/>
<line x1="463.2" y1="598.1" x2="463.2" y2="1035" stroke="#b4b8c8" stroke-width="1" stroke-dasharray="1.2,7.5" stroke-dashoffset="0.6"/>
<line x1="597.8" y1="598.1" x2="597.8" y2="1035" stroke="#b4b8c8" stroke-width="1" stroke-dasharray="1.2,7.5" stroke-dashoffset="0.6"/>
<line x1="665.1" y1="598.1" x2="665.1" y2="1035" stroke="#b4b8c8" stroke-width="1" stroke-dasharray="1.2,7.5" stroke-dashoffset="0.6"/>
<line x1="732.4" y1="598.1" x2="732.4" y2="1035" stroke="#b4b8c8" stroke-width="1" stroke-dasharray="1.2,7.5" stroke-dashoffset="0.6"/>
<line x1="799.7" y1="598.1" x2="799.7" y2="1035" stroke="#b4b8c8" stroke-width="1" stroke-dasharray="1.2,7.5" stroke-dashoffset="0.6"/>
<line x1="194" y1="641.8" x2="867" y2="641.8" stroke="#b4b8c8" stroke-width="1" stroke-dasharray="1.2,12.3" stroke-dashoffset="0.6"/>
<line x1="194" y1="685.5" x2="867" y2="685.5" stroke="#b4b8c8" stroke-width="1" stroke-dasharray="1.2,12.3" stroke-dashoffset="0.6"/>
<line x1="194" y1="729.2" x2="867" y2="729.2" stroke="#b4b8c8" stroke-width="1" stroke-dasharray="1.2,12.3" stroke-dashoffset="0.6"/>
<line x1="194" y1="772.9" x2="867" y2="772.9" stroke="#b4b8c8" stroke-width="1" stroke-dasharray="1.2,12.3" stroke-dashoffset="0.6"/>
<line x1="194" y1="860.2" x2="867" y2="860.2" stroke="#b4b8c8" stroke-width="1" stroke-dasharray="1.2,12.3" stroke-dashoffset="0.6"/>
<line x1="194" y1="903.9" x2="867" y2="903.9" stroke="#b4b8c8" stroke-width="1" stroke-dasharray="1.2,12.3" stroke-dashoffset="0.6"/>
<line x1="194" y1="947.6" x2="867" y2="947.6" stroke="#b4b8c8" stroke-width="1" stroke-dasharray="1.2,12.3" stroke-dashoffset="0.6"/>
<line x1="194" y1="991.3" x2="867" y2="991.3" stroke="#b4b8c8" stroke-width="1" stroke-dasharray="1.2,12.3" stroke-dashoffset="0.6"/>
<line x1="194" y1="816.5" x2="867" y2="816.5" stroke="#cfd2e0" stroke-width="1.6"/>
<line x1="530.5" y1="598.1" x2="530.5" y2="1035" stroke="#cfd2e0" stroke-width="1.6"/>
<path d="M207.5,814V819M220.9,814V819M234.4,814V819M247.8,814V819M261.3,812V821M274.8,814V819M288.2,814V819M301.7,814V819M315.1,814V819M328.6,812V821M342.1,814V819M355.5,814V819M369,814V819M382.4,814V819M395.9,812V821M409.4,814V819M422.8,814V819M436.3,814V819M449.7,814V819M463.2,812V821M476.7,814V819M490.1,814V819M503.6,814V819M517,814V819M530.5,812V821M544,814V819M557.4,814V819M570.9,814V819M584.3,814V819M597.8,812V821M611.3,814V819M624.7,814V819M638.2,814V819M651.6,814V819M665.1,812V821M678.6,814V819M692,814V819M705.5,814V819M718.9,814V819M732.4,812V821M745.9,814V819M759.3,814V819M772.8,814V819M786.2,814V819M799.7,812V821M813.2,814V819M826.6,814V819M840.1,814V819M853.5,814V819M528,606.8H533M528,615.6H533M528,624.3H533M528,633.1H533M526,641.8H535M528,650.5H533M528,659.3H533M528,668H533M528,676.7H533M526,685.5H535M528,694.2H533M528,703H533M528,711.7H533M528,720.4H533M526,729.2H535M528,737.9H533M528,746.6H533M528,755.4H533M528,764.1H533M526,772.9H535M528,781.6H533M528,790.3H533M528,799.1H533M528,807.8H533M526,816.5H535M528,825.3H533M528,834H533M528,842.8H533M528,851.5H533M526,860.2H535M528,869H533M528,877.7H533M528,886.5H533M528,895.2H533M526,903.9H535M528,912.7H533M528,921.4H533M528,930.1H533M528,938.9H533M526,947.6H535M528,956.4H533M528,965.1H533M528,973.8H533M528,982.6H533M526,991.3H535M528,1000H533M528,1008.8H533M528,1017.5H533M528,1026.3H533M207.5,598.1V600.6M207.5,1035V1032.5M220.9,598.1V600.6M220.9,1035V1032.5M234.4,598.1V600.6M234.4,1035V1032.5M247.8,598.1V600.6M247.8,1035V1032.5M261.3,598.1V600.6M261.3,1035V1032.5M274.8,598.1V600.6M274.8,1035V1032.5M288.2,598.1V600.6M288.2,1035V1032.5M301.7,598.1V600.6M301.7,1035V1032.5M315.1,598.1V600.6M315.1,1035V1032.5M328.6,598.1V600.6M328.6,1035V1032.5M342.1,598.1V600.6M342.1,1035V1032.5M355.5,598.1V600.6M355.5,1035V1032.5M369,598.1V600.6M369,1035V1032.5M382.4,598.1V600.6M382.4,1035V1032.5M395.9,598.1V600.6M395.9,1035V1032.5M409.4,598.1V600.6M409.4,1035V1032.5M422.8,598.1V600.6M422.8,1035V1032.5M436.3,598.1V600.6M436.3,1035V1032.5M449.7,598.1V600.6M449.7,1035V1032.5M463.2,598.1V600.6M463.2,1035V1032.5M476.7,598.1V600.6M476.7,1035V1032.5M490.1,598.1V600.6M490.1,1035V1032.5M503.6,598.1V600.6M503.6,1035V1032.5M517,598.1V600.6M517,1035V1032.5M530.5,598.1V600.6M530.5,1035V1032.5M544,598.1V600.6M544,1035V1032.5M557.4,598.1V600.6M557.4,1035V1032.5M570.9,598.1V600.6M570.9,1035V1032.5M584.3,598.1V600.6M584.3,1035V1032.5M597.8,598.1V600.6M597.8,1035V1032.5M611.3,598.1V600.6M611.3,1035V1032.5M624.7,598.1V600.6M624.7,1035V1032.5M638.2,598.1V600.6M638.2,1035V1032.5M651.6,598.1V600.6M651.6,1035V1032.5M665.1,598.1V600.6M665.1,1035V1032.5M678.6,598.1V600.6M678.6,1035V1032.5M692,598.1V600.6M692,1035V1032.5M705.5,598.1V600.6M705.5,1035V1032.5M718.9,598.1V600.6M718.9,1035V1032.5M732.4,598.1V600.6M732.4,1035V1032.5M745.9,598.1V600.6M745.9,1035V1032.5M759.3,598.1V600.6M759.3,1035V1032.5M772.8,598.1V600.6M772.8,1035V1032.5M786.2,598.1V600.6M786.2,1035V1032.5M799.7,598.1V600.6M799.7,1035V1032.5M813.2,598.1V600.6M813.2,1035V1032.5M826.6,598.1V600.6M826.6,1035V1032.5M840.1,598.1V600.6M840.1,1035V1032.5M853.5,598.1V600.6M853.5,1035V1032.5M867,606.8H864.5M867,615.6H864.5M867,624.3H864.5M867,633.1H864.5M867,641.8H864.5M867,650.5H864.5M867,659.3H864.5M867,668H864.5M867,676.7H864.5M867,685.5H864.5M867,694.2H864.5M867,703H864.5M867,711.7H864.5M867,720.4H864.5M867,729.2H864.5M867,737.9H864.5M867,746.6H864.5M867,755.4H864.5M867,764.1H864.5M867,772.9H864.5M867,781.6H864.5M867,790.3H864.5M867,799.1H864.5M867,807.8H864.5M867,816.5H864.5M867,825.3H864.5M867,834H864.5M867,842.8H864.5M867,851.5H864.5M867,860.2H864.5M867,869H864.5M867,877.7H864.5M867,886.5H864.5M867,895.2H864.5M867,903.9H864.5M867,912.7H864.5M867,921.4H864.5M867,930.1H864.5M867,938.9H864.5M867,947.6H864.5M867,956.4H864.5M867,965.1H864.5M867,973.8H864.5M867,982.6H864.5M867,991.3H864.5M867,1000H864.5M867,1008.8H864.5M867,1017.5H864.5M867,1026.3H864.5" stroke="#b9bdd0" stroke-width="1" fill="none"/>
<path d="M194,598.1H867.4V1035" stroke="#b08a68" stroke-width="1.2" fill="none"/>
<line x1="194" y1="615.4" x2="664" y2="615.4" stroke="#ff80ff" stroke-width="1" stroke-dasharray="3.2,2.4"/>
<line x1="194" y1="925.3" x2="867" y2="925.3" stroke="#ff80ff" stroke-width="1" stroke-dasharray="3.2,2.4"/>
<rect x="195" y="653.4" width="671.5" height="1.8" fill="#e4e4fa"/>
<rect x="195" y="711.6" width="671.5" height="1.3" fill="#e8e8fb"/>
<rect x="195" y="655.2" width="671.5" height="56.4" fill="#0606fe"/>
<path d="M196,827.3 197,826.5 198,826.7 199,826.6 200,827 201,827.2 202,827 203,826.5 204,826.8 205,826.8 206,826.5 207,827.2 208,827.2 209,826.7 210,827.2 211,827.2 212,827.2 213,826.8 214,826.8 215,826.6 216,827.3 217,827.1 218,826.6 219,827 220,827.3 221,827 222,826.6 223,826.9 224,827.2 225,826.6 226,826.6 227,827.1 228,826.9 229,826.9 230,826.9 231,826.5 232,826.7 233,826.7 234,826.7 235,826.9 236,826.8 237,826.7 238,827.2 239,826.9 240,827 241,826.6 242,826.8 243,827 244,826.7 245,827.2 246,826.6 247,826.8 248,827.1 249,826.6 250,826.6 251,827 252,827 253,826.9 254,826.6 255,827.1 256,826.6 257,826.8 258,826.6 259,826.5 260,826.8 261,826.6 262,827.3 263,826.7 264,826.7 265,827.1 266,826.6 267,826.9 268,827.2 269,826.9 270,826.7 271,826.9 272,826.7 273,827.2 274,826.6 275,826.6 276,827.1 277,827.3 278,827.1 279,826.6 280,826.5 281,827.1 282,827.1 283,827.1 284,827.3 285,826.5 286,827.1 287,827 288,827.2 289,826.6 290,827 291,826.5 292,827.2 293,826.8 294,827.1 295,827 296,827 297,827 298,826.9 299,826.8 300,826.9 301,826.7 302,826.9 303,826.8 304,826.6 305,826.7 306,827.1 307,826.9 308,827.2 309,826.8 310,826.8 311,827.2 312,827.1 313,826.9 314,826.7 315,827.1 316,826.7 317,827.1 318,827 319,827.1 320,826.5 321,826.5 322,826.9 323,827.3 324,826.7 325,826.6 326,827.1 327,826.8 328,826.9 329,827.2 330,827.2 331,826.8 332,827.3 333,826.6 334,827.2 335,826.8 336,827.2 337,826.7 338,826.8 339,827.2 340,826.8 341,826.7 342,826.8 343,826.5 344,827.1 345,827 346,826.7 347,827 348,826.7 349,827.2 350,826.7 351,827 352,826.5 353,827 354,826.9 355,826.7 355,886.1 354,886.5 353,886.6 352,886.5 351,886.3 350,885.8 349,886.4 348,886.4 347,886.6 346,886.1 345,886.3 344,886.5 343,886.1 342,885.9 341,886.4 340,886.6 339,886.2 338,885.8 337,885.9 336,886.1 335,886 334,886.2 333,885.9 332,886.2 331,886.5 330,886.5 329,886.1 328,886.3 327,885.9 326,886.1 325,886.3 324,886.1 323,886.5 322,886.1 321,886.1 320,885.9 319,886.3 318,886.1 317,886.4 316,886.5 315,886.4 314,886 313,886.3 312,886.2 311,886 310,886.3 309,886 308,885.9 307,885.9 306,886.1 305,885.9 304,886.3 303,886 302,886.2 301,886.4 300,886 299,886.5 298,886.4 297,886.2 296,886.5 295,885.9 294,885.8 293,886.6 292,886 291,885.9 290,886.2 289,886.5 288,886.5 287,886.2 286,886 285,886.1 284,886.1 283,885.9 282,885.9 281,886 280,886.5 279,886.5 278,886.2 277,886 276,886.4 275,886 274,886.5 273,886.3 272,885.9 271,886.2 270,886.2 269,886.6 268,886.4 267,886 266,886.1 265,886 264,886.1 263,886.2 262,886.4 261,886.5 260,886 259,886.4 258,886.1 257,885.9 256,886.2 255,886.4 254,886.4 253,886.4 252,886 251,886.2 250,886.3 249,886.1 248,886.4 247,886.5 246,886.3 245,885.9 244,886 243,886.4 242,886.5 241,886.3 240,886 239,886.1 238,885.9 237,886.5 236,885.9 235,886.3 234,886.2 233,886.2 232,886.5 231,886.5 230,885.8 229,886.3 228,886 227,886 226,886 225,886.3 224,886.2 223,886.3 222,885.9 221,886.4 220,886.5 219,885.8 218,885.9 217,885.9 216,886 215,886.2 214,886.4 213,885.9 212,885.8 211,885.9 210,886.4 209,886 208,886.4 207,886.5 206,886 205,886.6 204,886.2 203,886.4 202,886.2 201,886.1 200,886.1 199,886.2 198,886.3 197,886.2 196,885.9Z" fill="#0aff0a"/>
<path d="M354.5,837 355.5,836.3 356.5,836.8 357.5,836.7 358.5,836.5 359.5,836.9 360.5,836.8 361.5,836.8 362.5,836.7 363.5,836.8 364.5,836.4 365.5,836.5 366.5,836.5 367.5,836.9 368.5,836.9 369.5,837 370.5,836.9 371.5,836.4 372.5,836.7 373.5,836.4 374.5,836.5 375.5,836.6 376.5,836.5 377.5,836.6 378.5,837 379.5,836.9 380.5,836.4 381.5,836.7 382.5,836.5 383.5,836.9 384.5,836.4 385.5,836.6 386.5,837 387.5,836.7 388.5,836.3 389.5,837 390.5,836.8 391.5,836.4 392.5,836.4 393.5,836.9 394.5,836.6 395.5,836.7 396.5,836.4 397.5,836.4 398.5,836.5 399.5,836.4 400.5,836.6 401.5,836.5 402.5,836.3 403.5,836.4 404.5,836.6 405.5,837 406.5,836.4 407.5,836.8 408.5,836.5 409.5,836.4 410.5,836.5 411.5,836.5 412.5,836.8 413.5,836.9 414.5,836.5 415.5,836.7 416.5,836.9 417.5,836.6 418.5,836.5 419.5,837 420.5,837.1 421.5,837 422.5,836.5 423.5,836.8 424.5,836.7 425.5,837 426.5,836.5 427.5,836.5 428.5,836.9 429.5,836.8 430.5,836.7 431.5,836.8 432.5,836.5 433.5,836.6 434.5,836.6 435.5,836.9 436.5,836.6 437.5,836.7 438.5,837.1 439.5,836.9 440.5,836.7 441.5,836.5 442.5,836.9 443.5,837 444.5,836.5 445.5,836.7 446.5,836.6 447.5,837 448.5,836.8 449.5,836.4 450.5,836.5 451.5,836.4 452.5,836.9 453.5,837 454.5,837 455.5,836.5 456.5,836.3 457.5,836.6 458.5,837 459.5,836.3 460.5,836.5 461.5,836.3 462.5,836.9 463.5,836.7 464.5,836.5 465.5,836.6 466.5,837 467.5,837 468.5,836.9 469.5,836.9 470.5,837 471.5,836.7 472.5,836.6 473.5,836.9 474.5,836.9 475.5,836.8 476.5,836.9 477.5,836.6 478.5,836.6 479.5,836.6 480.5,837 481.5,836.8 482.5,836.9 483.5,836.7 484.5,836.6 485.5,836.8 486.5,836.5 487.5,837 488.5,836.4 489.5,836.6 490.5,837.1 491.5,836.9 492.5,836.4 493.5,836.4 494.5,836.7 495.5,836.7 496.5,837.1 497.5,837 498.5,836.8 499.5,836.5 500.5,836.6 501.5,836.7 502.5,836.8 503.5,836.5 504.5,836.3 505.5,836.3 506.5,837 507.5,837.1 508.5,836.8 509.5,836.3 510.5,836.5 511.5,836.4 512.5,836.6 513.5,836.6 514.5,836.9 515.5,836.8 516.5,836.8 517.5,837.1 518.5,836.3 519.5,836.8 520.5,837 521.5,837 522.5,836.8 523.5,836.5 524.5,836.8 525.5,836.7 526.5,836.8 527.5,836.8 528.5,836.3 529.5,836.7 530.5,837.1 531.5,836.7 532.5,836.7 533.5,837.1 534.5,836.6 535.5,836.3 536.5,836.3 537.5,836.9 538.5,836.6 539.5,836.9 540.5,836.8 541.5,836.8 542.5,836.9 543.5,836.5 544.5,836.6 545.5,836.9 546.5,836.7 547.5,837 548.5,836.5 549.5,837 550.5,837 551.5,836.7 552.5,836.4 553.5,836.4 554.5,836.5 555.5,836.8 556.5,836.9 557.5,836.4 558.5,837 559.5,837.1 560.5,836.5 561.5,837 562.5,836.4 563.5,836.9 564.5,837 565.5,836.6 566.5,837 567.5,836.8 568.5,837 569.5,836.5 570.5,836.7 571.5,837 572.5,836.5 573.5,836.8 574.5,836.9 575.5,836.5 576.5,836.5 577.5,836.7 578.5,836.4 579.5,836.6 580.5,836.4 581.5,836.9 582.5,836.8 583.5,836.5 584.5,837 585.5,836.7 586.5,836.6 587.5,836.9 588.5,836.9 589.5,836.9 590.5,836.6 591.5,836.5 592.5,836.5 593.5,836.5 594.5,836.8 595.5,836.6 596.5,837.1 597.5,836.8 598.5,836.5 599.5,836.4 600.5,836.9 601.5,836.6 602.5,836.7 603.5,837 604.5,836.6 605.5,836.8 606.5,837 607.5,836.5 608.5,836.5 609.5,836.7 610.5,837 611.5,836.7 612.5,836.4 613.5,836.8 614.5,836.6 615.5,836.3 616.5,837 617.5,837 618.5,836.9 619.5,836.6 620.5,836.9 621.5,836.4 622.5,836.5 623.5,836.6 624.5,837 625.5,836.8 626.5,836.4 627.5,836.7 628.5,836.7 629.5,836.6 630.5,836.6 631.5,837.1 632.5,836.7 633.5,836.5 634.5,836.7 635.5,837.1 636.5,836.5 637.5,836.4 638.5,836.9 639.5,836.5 640.5,836.7 641.5,836.7 642.5,836.4 643.5,836.9 644.5,837 645.5,836.5 646.5,836.7 647.5,836.5 648.5,836.7 649.5,836.9 650.5,836.5 651.5,836.5 652.5,836.4 653.5,836.7 654.5,836.6 655.5,836.8 656.5,836.6 657.5,836.5 658.5,836.8 659.5,836.8 660.5,836.6 661.5,837 662.5,836.7 663.5,836.9 664.5,836.5 665.5,836.9 666.5,836.9 667.5,836.9 668.5,837 669.5,836.6 670.5,836.3 671.5,836.3 672.5,836.6 673.5,836.6 674.5,836.9 675.5,836.9 676.5,836.3 677.5,836.5 678.5,836.3 679.5,836.8 680.5,836.8 681.5,836.9 682.5,836.5 683.5,836.8 684.5,836.5 685.5,836.6 686.5,836.6 687.5,836.8 688.5,836.9 689.5,836.9 690.5,836.4 691.5,836.7 692.5,837 693.5,836.5 694.5,836.9 695.5,836.5 696.5,837.1 697.5,836.6 698.5,836.5 699.5,837 700.5,837 701.5,836.3 702.5,836.5 703.5,836.4 704.5,836.4 705.5,836.5 706.5,836.7 707.5,836.7 708.5,836.9 709.5,837 710.5,836.7 711.5,836.6 712.5,837 713.5,836.4 714.5,837 715.5,836.9 716.5,836.7 717.5,836.6 718.5,836.8 719.5,836.8 720.5,837.1 721.5,836.9 722.5,836.5 723.5,836.4 724.5,836.4 725.5,836.4 726.5,837 727.5,836.5 728.5,836.7 729.5,836.6 730.5,837.1 731.5,837.1 732.5,836.5 733.5,837.1 734.5,837 735.5,836.9 736.5,836.4 737.5,836.4 738.5,836.9 739.5,836.8 740.5,836.9 741.5,837 742.5,836.9 743.5,836.9 744.5,836.7 745.5,836.7 746.5,837 747.5,836.6 748.5,837.1 749.5,836.4 750.5,836.9 751.5,836.3 752.5,836.7 753.5,837 754.5,836.3 755.5,836.5 756.5,836.4 757.5,836.9 758.5,836.4 759.5,836.8 760.5,836.4 761.5,837.1 762.5,836.6 763.5,837.1 764.5,837.1 765.5,836.9 766.5,836.9 767.5,836.7 768.5,836.7 769.5,836.4 770.5,836.6 771.5,836.5 772.5,836.8 773.5,837 774.5,836.7 775.5,836.5 776.5,836.6 777.5,836.4 778.5,836.3 779.5,836.7 780.5,836.9 781.5,836.9 782.5,836.9 783.5,836.7 784.5,836.9 785.5,836.6 786.5,836.9 787.5,836.4 788.5,836.4 789.5,836.9 790.5,836.9 791.5,836.7 792.5,836.8 793.5,836.8 794.5,836.9 795.5,836.4 796.5,836.6 797.5,836.7 798.5,836.6 799.5,836.6 800.5,836.4 801.5,836.9 802.5,836.7 803.5,836.6 804.5,836.3 805.5,837.1 806.5,836.7 807.5,836.3 808.5,837 809.5,836.5 810.5,836.9 811.5,836.6 812.5,836.9 813.5,837 814.5,836.8 815.5,836.9 816.5,836.4 817.5,836.9 818.5,836.9 819.5,836.7 820.5,837 821.5,836.4 822.5,836.6 823.5,837 824.5,836.4 825.5,836.6 826.5,836.6 827.5,837 828.5,836.9 829.5,837.1 830.5,836.6 831.5,836.4 832.5,836.8 833.5,836.6 834.5,836.4 835.5,836.4 836.5,836.8 837.5,836.7 838.5,836.8 839.5,836.9 840.5,836.5 841.5,837 842.5,836.5 843.5,836.5 844.5,836.6 845.5,836.6 846.5,836.6 847.5,837 848.5,837 849.5,837.1 850.5,836.8 851.5,836.5 852.5,837 853.5,836.9 854.5,836.7 855.5,836.4 856.5,836.8 857.5,836.3 858.5,836.6 859.5,836.5 860.5,837 861.5,836.6 862.5,836.5 863.5,836.6 864.5,836.9 865.5,837 866,876.6 865,876.6 864,876.9 863,877 862,876.7 861,877.1 860,876.5 859,876.7 858,876.6 857,876.8 856,876.7 855,876.7 854,877.3 853,877 852,876.7 851,877.3 850,877 849,876.6 848,877.2 847,876.6 846,877 845,876.6 844,876.6 843,876.7 842,876.9 841,877.1 840,876.9 839,877.2 838,876.8 837,877 836,876.6 835,877.2 834,876.6 833,877.1 832,876.6 831,876.8 830,876.6 829,876.6 828,876.9 827,876.8 826,876.6 825,877.2 824,877.2 823,876.9 822,877 821,876.7 820,877.2 819,876.8 818,876.6 817,877.1 816,877.2 815,876.6 814,877.1 813,876.8 812,877.2 811,877.1 810,876.8 809,877.1 808,876.8 807,876.8 806,877.1 805,876.8 804,877.2 803,876.7 802,876.7 801,876.5 800,876.9 799,876.9 798,876.9 797,877.2 796,876.6 795,877 794,877.1 793,876.5 792,876.7 791,876.6 790,877.1 789,876.9 788,877.1 787,876.9 786,877.3 785,877 784,877.1 783,877.1 782,877.2 781,876.9 780,877.1 779,877.3 778,877.2 777,876.9 776,876.6 775,877.1 774,876.8 773,877 772,876.6 771,877 770,876.7 769,876.6 768,877.2 767,876.9 766,877 765,877.3 764,877.1 763,876.6 762,876.8 761,876.8 760,877.2 759,876.7 758,876.5 757,876.5 756,876.7 755,876.9 754,876.7 753,877.1 752,876.9 751,876.7 750,876.9 749,876.6 748,877.2 747,877.2 746,876.6 745,877.1 744,876.6 743,876.8 742,877 741,877.2 740,877.2 739,876.7 738,877.3 737,877.2 736,876.9 735,877.3 734,876.6 733,877.3 732,877.3 731,876.5 730,876.7 729,876.8 728,877.2 727,877.2 726,877.2 725,876.8 724,876.7 723,877 722,877.1 721,876.6 720,876.6 719,876.8 718,876.6 717,877.1 716,877.1 715,877.2 714,876.7 713,877.3 712,877 711,876.8 710,877.2 709,877.2 708,876.9 707,876.6 706,876.9 705,876.8 704,876.8 703,876.6 702,876.6 701,877.1 700,877.2 699,876.5 698,877 697,876.5 696,876.7 695,877.3 694,876.6 693,876.6 692,876.9 691,876.8 690,876.9 689,876.8 688,876.8 687,876.6 686,877 685,877.2 684,877.1 683,876.8 682,877 681,876.9 680,877 679,876.8 678,876.9 677,877.2 676,876.9 675,876.7 674,877.1 673,877.1 672,876.8 671,876.8 670,877.2 669,876.8 668,876.6 667,876.9 666,877 665,877 664,876.6 663,876.8 662,876.9 661,876.7 660,876.8 659,876.8 658,876.9 657,877.1 656,876.7 655,877.2 654,876.5 653,877 652,876.6 651,876.8 650,876.8 649,877.3 648,877.2 647,877.1 646,876.5 645,877 644,876.8 643,877.2 642,876.5 641,876.8 640,877.3 639,877.2 638,876.8 637,877.1 636,877.1 635,876.6 634,876.6 633,877.2 632,876.7 631,876.6 630,876.5 629,876.8 628,877.1 627,877.3 626,877.2 625,876.6 624,876.7 623,876.8 622,876.5 621,876.6 620,876.9 619,876.9 618,876.8 617,877.1 616,877.2 615,877.2 614,877 613,877 612,876.6 611,876.6 610,877.1 609,877 608,877.1 607,877 606,877 605,876.7 604,877.2 603,877.2 602,876.7 601,876.5 600,876.9 599,877.2 598,877 597,877.1 596,876.5 595,877.1 594,876.6 593,877 592,876.5 591,876.5 590,876.8 589,876.5 588,876.7 587,876.8 586,876.8 585,877.2 584,876.9 583,876.7 582,876.9 581,877.2 580,876.6 579,876.9 578,876.8 577,877 576,877 575,876.6 574,877.2 573,877.2 572,877.1 571,876.8 570,877.2 569,877.2 568,877.2 567,877 566,876.7 565,876.6 564,876.6 563,876.7 562,877 561,877.2 560,876.7 559,876.6 558,876.6 557,876.8 556,877 555,876.7 554,876.9 553,876.6 552,877 551,877.1 550,877 549,876.8 548,876.8 547,876.9 546,877.3 545,876.9 544,877 543,877.3 542,876.7 541,876.9 540,877.1 539,877.1 538,876.8 537,877.1 536,877.3 535,876.7 534,876.9 533,876.9 532,876.5 531,876.9 530,876.6 529,876.6 528,876.9 527,876.9 526,876.8 525,876.5 524,877.3 523,876.8 522,877.1 521,877.1 520,876.6 519,876.8 518,876.8 517,876.9 516,877.3 515,877 514,876.8 513,877.3 512,877 511,877.1 510,877 509,877.2 508,876.7 507,876.7 506,876.9 505,876.6 504,877.1 503,876.8 502,877.1 501,876.6 500,876.8 499,876.9 498,876.9 497,876.6 496,876.5 495,877.2 494,877.2 493,876.9 492,876.6 491,877.2 490,876.9 489,877.2 488,877 487,877.2 486,876.7 485,876.9 484,876.9 483,876.6 482,876.9 481,877.2 480,877.2 479,876.6 478,876.9 477,877.1 476,876.6 475,877.3 474,876.9 473,876.9 472,877.1 471,876.7 470,876.5 469,876.6 468,876.8 467,876.7 466,876.7 465,876.6 464,876.8 463,876.8 462,876.5 461,876.9 460,877 459,876.8 458,877.1 457,876.6 456,876.7 455,877.3 454,877.2 453,877.1 452,876.9 451,877 450,876.7 449,877 448,877.2 447,876.5 446,876.7 445,877.2 444,877.1 443,876.9 442,876.5 441,877 440,876.9 439,876.7 438,876.6 437,876.7 436,876.9 435,877.3 434,876.7 433,877.2 432,876.8 431,877.3 430,876.6 429,876.8 428,877.1 427,876.9 426,877 425,876.9 424,876.7 423,876.9 422,876.7 421,876.9 420,876.7 419,877.2 418,876.7 417,877 416,877.2 415,876.8 414,877 413,876.8 412,877 411,876.6 410,876.7 409,877 408,877.2 407,877.2 406,876.9 405,876.9 404,876.9 403,876.8 402,877 401,876.9 400,877.1 399,876.5 398,877 397,876.9 396,876.9 395,877 394,876.6 393,876.9 392,877.1 391,877.2 390,877.1 389,876.9 388,876.8 387,877.2 386,876.5 385,876.9 384,877 383,876.6 382,876.6 381,876.6 380,876.5 379,877 378,877.1 377,877.2 376,877.2 375,876.6 374,876.6 373,876.9 372,876.9 371,877 370,876.9 369,876.8 368,876.7 367,876.9 366,876.6 365,877.3 364,877.1 363,876.6 362,877.2 361,876.5 360,877 359,877 358,876.6 357,876.6 356,877.2 355,876.9Z" fill="#0aff0a"/>
<path d="M196.5,826.9v-1.5M196.5,886.2v1.3M197.5,826.9v-1.7M197.5,886.2v0.5M198.5,826.9v-1.2M198.5,886.2v0.5M199.5,826.9v-2.7M199.5,886.2v2.5M200.5,826.9v-1.9M200.5,886.2v0.8M201.5,826.9v-2.4M201.5,886.2v1.1M202.5,826.9v-2.3M202.5,886.2v1.9M203.5,826.9v-1.8M203.5,886.2v2.1M204.5,826.9v-1M204.5,886.2v2.3M205.5,826.9v-1.6M205.5,886.2v2.1M206.5,826.9v-2.3M206.5,886.2v1M207.5,826.9v-1.3M207.5,886.2v1.2M208.5,826.9v-0.6M208.5,886.2v2.4M209.5,826.9v-2M209.5,886.2v1.5M210.5,826.9v-1.7M210.5,886.2v2.4M211.5,826.9v-0.6M211.5,886.2v1.2M212.5,826.9v-2M212.5,886.2v1.6M213.5,826.9v-1.5M213.5,886.2v1M214.5,826.9v-0.9M214.5,886.2v1.9M215.5,826.9v-1.2M215.5,886.2v2.6M216.5,826.9v-2.5M216.5,886.2v2.6M217.5,826.9v-1M217.5,886.2v1.6M218.5,826.9v-0.6M218.5,886.2v1.2M219.5,826.9v-0.6M219.5,886.2v1.6M220.5,826.9v-2.6M220.5,886.2v2.2M221.5,826.9v-1.2M221.5,886.2v1M222.5,826.9v-2.5M222.5,886.2v0.5M223.5,826.9v-2.3M223.5,886.2v2.4M224.5,826.9v-0.6M224.5,886.2v2.6M225.5,826.9v-1.9M225.5,886.2v1.3M226.5,826.9v-1.4M226.5,886.2v1.8M227.5,826.9v-1.6M227.5,886.2v2.4M228.5,826.9v-2.5M228.5,886.2v1.2M229.5,826.9v-0.4M229.5,886.2v2.2M230.5,826.9v-1.9M230.5,886.2v1.9M231.5,826.9v-0.6M231.5,886.2v0.6M232.5,826.9v-2.5M232.5,886.2v1.2M233.5,826.9v-1.5M233.5,886.2v2.6M234.5,826.9v-0.8M234.5,886.2v1.9M235.5,826.9v-0.5M235.5,886.2v1.7M236.5,826.9v-2.1M236.5,886.2v0.8M237.5,826.9v-2.1M237.5,886.2v2.6M238.5,826.9v-2.3M238.5,886.2v2.2M239.5,826.9v-2.6M239.5,886.2v2M240.5,826.9v-1.7M240.5,886.2v2.3M241.5,826.9v-2.3M241.5,886.2v1.8M242.5,826.9v-1.9M242.5,886.2v0.8M243.5,826.9v-1.2M243.5,886.2v1.1M244.5,826.9v-2.4M244.5,886.2v2.2M245.5,826.9v-1.1M245.5,886.2v2.7M246.5,826.9v-0.5M246.5,886.2v0.5M247.5,826.9v-1.2M247.5,886.2v0.6M248.5,826.9v-2.6M248.5,886.2v1.2M249.5,826.9v-1.3M249.5,886.2v2.4M250.5,826.9v-1.6M250.5,886.2v1.9M251.5,826.9v-1.4M251.5,886.2v1.5M252.5,826.9v-2.6M252.5,886.2v1M253.5,826.9v-1.6M253.5,886.2v1.5M254.5,826.9v-0.7M254.5,886.2v0.7M255.5,826.9v-1.6M255.5,886.2v2.2M256.5,826.9v-1.4M256.5,886.2v0.5M257.5,826.9v-2.6M257.5,886.2v0.7M258.5,826.9v-2.4M258.5,886.2v0.5M259.5,826.9v-1.9M259.5,886.2v0.7M260.5,826.9v-1M260.5,886.2v1.4M261.5,826.9v-2.1M261.5,886.2v1.4M262.5,826.9v-1.4M262.5,886.2v1.3M263.5,826.9v-1.6M263.5,886.2v1M264.5,826.9v-2.6M264.5,886.2v0.8M265.5,826.9v-0.7M265.5,886.2v1.7M266.5,826.9v-1.2M266.5,886.2v2.1M267.5,826.9v-0.5M267.5,886.2v2M268.5,826.9v-1.2M268.5,886.2v2.5M269.5,826.9v-1.1M269.5,886.2v1.4M270.5,826.9v-1.1M270.5,886.2v1.6M271.5,826.9v-1M271.5,886.2v1.9M272.5,826.9v-1.3M272.5,886.2v2M273.5,826.9v-1.1M273.5,886.2v1.5M274.5,826.9v-1.7M274.5,886.2v2.1M275.5,826.9v-1.9M275.5,886.2v1.4M276.5,826.9v-0.6M276.5,886.2v0.7M277.5,826.9v-0.7M277.5,886.2v0.8M278.5,826.9v-0.8M278.5,886.2v1.9M279.5,826.9v-1.2M279.5,886.2v2.5M280.5,826.9v-0.9M280.5,886.2v1M281.5,826.9v-0.8M281.5,886.2v0.7M282.5,826.9v-2M282.5,886.2v1.7M283.5,826.9v-1M283.5,886.2v2.3M284.5,826.9v-2M284.5,886.2v1.4M285.5,826.9v-1.8M285.5,886.2v1.9M286.5,826.9v-1.4M286.5,886.2v0.6M287.5,826.9v-1.2M287.5,886.2v2.6M288.5,826.9v-1.3M288.5,886.2v1.9M289.5,826.9v-0.6M289.5,886.2v2.2M290.5,826.9v-2.4M290.5,886.2v1.3M291.5,826.9v-1.3M291.5,886.2v1.6M292.5,826.9v-1M292.5,886.2v0.9M293.5,826.9v-0.7M293.5,886.2v2M294.5,826.9v-1.6M294.5,886.2v2.6M295.5,826.9v-2.6M295.5,886.2v2.4M296.5,826.9v-2.6M296.5,886.2v2.3M297.5,826.9v-0.5M297.5,886.2v0.7M298.5,826.9v-2.6M298.5,886.2v2.4M299.5,826.9v-1.8M299.5,886.2v1.8M300.5,826.9v-1.4M300.5,886.2v1.4M301.5,826.9v-0.7M301.5,886.2v1.7M302.5,826.9v-1M302.5,886.2v0.7M303.5,826.9v-2.4M303.5,886.2v1.7M304.5,826.9v-2.4M304.5,886.2v1.1M305.5,826.9v-1.7M305.5,886.2v1M306.5,826.9v-2.3M306.5,886.2v0.9M307.5,826.9v-1.9M307.5,886.2v1.7M308.5,826.9v-1.1M308.5,886.2v0.6M309.5,826.9v-1.5M309.5,886.2v1.6M310.5,826.9v-2.3M310.5,886.2v0.9M311.5,826.9v-0.8M311.5,886.2v1.1M312.5,826.9v-2.2M312.5,886.2v0.9M313.5,826.9v-1.9M313.5,886.2v0.5M314.5,826.9v-0.6M314.5,886.2v2M315.5,826.9v-1.5M315.5,886.2v0.7M316.5,826.9v-1.5M316.5,886.2v2.6M317.5,826.9v-1.3M317.5,886.2v1.7M318.5,826.9v-1.4M318.5,886.2v1.6M319.5,826.9v-0.5M319.5,886.2v2.4M320.5,826.9v-1.7M320.5,886.2v1.2M321.5,826.9v-1.1M321.5,886.2v0.8M322.5,826.9v-2.5M322.5,886.2v2.3M323.5,826.9v-1.3M323.5,886.2v1.8M324.5,826.9v-1.7M324.5,886.2v0.9M325.5,826.9v-0.5M325.5,886.2v2.1M326.5,826.9v-0.8M326.5,886.2v1.7M327.5,826.9v-0.4M327.5,886.2v0.5M328.5,826.9v-0.8M328.5,886.2v1.9M329.5,826.9v-1.8M329.5,886.2v2.7M330.5,826.9v-1.9M330.5,886.2v1.6M331.5,826.9v-0.4M331.5,886.2v2.6M332.5,826.9v-1.5M332.5,886.2v2.4M333.5,826.9v-0.5M333.5,886.2v2.3M334.5,826.9v-1.5M334.5,886.2v0.9M335.5,826.9v-1.3M335.5,886.2v0.6M336.5,826.9v-1.7M336.5,886.2v0.9M337.5,826.9v-2M337.5,886.2v0.8M338.5,826.9v-2M338.5,886.2v1.8M339.5,826.9v-2M339.5,886.2v2.6M340.5,826.9v-1.1M340.5,886.2v2M341.5,826.9v-1.3M341.5,886.2v2.5M342.5,826.9v-2.3M342.5,886.2v2.2M343.5,826.9v-1.8M343.5,886.2v1M344.5,826.9v-2.5M344.5,886.2v2.6M345.5,826.9v-2.6M345.5,886.2v1.2M346.5,826.9v-2.3M346.5,886.2v2M347.5,826.9v-2.3M347.5,886.2v2.2M348.5,826.9v-1.4M348.5,886.2v1.3M349.5,826.9v-2.2M349.5,886.2v1.9M350.5,826.9v-1.6M350.5,886.2v2.4M351.5,826.9v-0.5M351.5,886.2v0.4M352.5,826.9v-1.5M352.5,886.2v0.6M353.5,826.9v-2.3M353.5,886.2v0.6M354.5,826.9v-2.4M354.5,886.2v0.9M355,836.7v-0.7M355,876.9v2.1M356,836.7v-2M356,876.9v1.3M357,836.7v-1.8M357,876.9v1.7M358,836.7v-2.6M358,876.9v1.6M359,836.7v-1.6M359,876.9v1.5M360,836.7v-1.3M360,876.9v2M361,836.7v-0.7M361,876.9v2M362,836.7v-2.5M362,876.9v2.2M363,836.7v-1.6M363,876.9v1.2M364,836.7v-0.6M364,876.9v0.6M365,836.7v-1.6M365,876.9v2.4M366,836.7v-2.4M366,876.9v0.8M367,836.7v-2.1M367,876.9v2.3M368,836.7v-1.5M368,876.9v2.4M369,836.7v-0.8M369,876.9v1.2M370,836.7v-1.6M370,876.9v2.1M371,836.7v-1.4M371,876.9v1.1M372,836.7v-2.4M372,876.9v1.3M373,836.7v-1.4M373,876.9v0.9M374,836.7v-1.5M374,876.9v2M375,836.7v-1.2M375,876.9v1.9M376,836.7v-1.5M376,876.9v0.4M377,836.7v-2.6M377,876.9v1.1M378,836.7v-1.7M378,876.9v2.6M379,836.7v-0.9M379,876.9v0.5M380,836.7v-0.9M380,876.9v0.8M381,836.7v-2.4M381,876.9v1.6M382,836.7v-0.5M382,876.9v1M383,836.7v-1.6M383,876.9v0.8M384,836.7v-1.1M384,876.9v2.5M385,836.7v-1.4M385,876.9v0.9M386,836.7v-1.8M386,876.9v0.7M387,836.7v-1.6M387,876.9v1.9M388,836.7v-0.6M388,876.9v1.7M389,836.7v-1.1M389,876.9v2.1M390,836.7v-1.8M390,876.9v2.5M391,836.7v-1.8M391,876.9v0.8M392,836.7v-0.8M392,876.9v2M393,836.7v-2.3M393,876.9v0.5M394,836.7v-1.4M394,876.9v1.1M395,836.7v-1.5M395,876.9v2.4M396,836.7v-1.7M396,876.9v2.1M397,836.7v-2.2M397,876.9v1M398,836.7v-1.8M398,876.9v1.3M399,836.7v-1.5M399,876.9v1.6M400,836.7v-1.9M400,876.9v0.8M401,836.7v-2.3M401,876.9v0.8M402,836.7v-1.1M402,876.9v2.4M403,836.7v-2.7M403,876.9v1.2M404,836.7v-2.6M404,876.9v0.5M405,836.7v-2.6M405,876.9v0.9M406,836.7v-0.5M406,876.9v2.2M407,836.7v-0.8M407,876.9v2.1M408,836.7v-0.4M408,876.9v0.7M409,836.7v-1.2M409,876.9v0.6M410,836.7v-1.5M410,876.9v1.2M411,836.7v-2.1M411,876.9v1.5M412,836.7v-2.6M412,876.9v2.3M413,836.7v-0.8M413,876.9v2.5M414,836.7v-2.5M414,876.9v1.7M415,836.7v-1.6M415,876.9v0.8M416,836.7v-1.1M416,876.9v0.9M417,836.7v-0.9M417,876.9v1.8M418,836.7v-1.1M418,876.9v2.2M419,836.7v-1.7M419,876.9v2.3M420,836.7v-0.6M420,876.9v2.3M421,836.7v-1.6M421,876.9v1.9M422,836.7v-0.9M422,876.9v2M423,836.7v-1.3M423,876.9v2.1M424,836.7v-1.7M424,876.9v0.7M425,836.7v-1.1M425,876.9v2.1M426,836.7v-0.4M426,876.9v1.9M427,836.7v-1.7M427,876.9v2M428,836.7v-1.2M428,876.9v1.5M429,836.7v-1.5M429,876.9v2.1M430,836.7v-0.6M430,876.9v1.6M431,836.7v-1M431,876.9v1.8M432,836.7v-1M432,876.9v0.9M433,836.7v-0.9M433,876.9v2.5M434,836.7v-1.2M434,876.9v2.4M435,836.7v-2.1M435,876.9v1M436,836.7v-1.7M436,876.9v0.4M437,836.7v-2.5M437,876.9v1.9M438,836.7v-0.7M438,876.9v1.6M439,836.7v-1.5M439,876.9v1.9M440,836.7v-1.1M440,876.9v2.5M441,836.7v-1.8M441,876.9v0.6M442,836.7v-2.3M442,876.9v2.4M443,836.7v-1.1M443,876.9v2M444,836.7v-2.4M444,876.9v2.4M445,836.7v-0.6M445,876.9v2.3M446,836.7v-1M446,876.9v2.2M447,836.7v-2M447,876.9v1.5M448,836.7v-2.5M448,876.9v2.2M449,836.7v-2.7M449,876.9v2.6M450,836.7v-1.7M450,876.9v2.1M451,836.7v-1.9M451,876.9v1.3M452,836.7v-1.5M452,876.9v1.6M453,836.7v-0.9M453,876.9v1M454,836.7v-2.3M454,876.9v2.3M455,836.7v-2M455,876.9v2M456,836.7v-1.6M456,876.9v1.7M457,836.7v-1.9M457,876.9v0.4M458,836.7v-1.4M458,876.9v2.6M459,836.7v-0.9M459,876.9v1.5M460,836.7v-0.6M460,876.9v1M461,836.7v-2.3M461,876.9v0.5M462,836.7v-2.2M462,876.9v2.2M463,836.7v-2.4M463,876.9v1M464,836.7v-2.5M464,876.9v1.3M465,836.7v-1.4M465,876.9v2.6M466,836.7v-1.7M466,876.9v2M467,836.7v-0.7M467,876.9v0.4M468,836.7v-1M468,876.9v0.6M469,836.7v-2.3M469,876.9v1M470,836.7v-2.6M470,876.9v2M471,836.7v-0.8M471,876.9v2M472,836.7v-1.1M472,876.9v1.6M473,836.7v-0.6M473,876.9v2.3M474,836.7v-2.2M474,876.9v1.7M475,836.7v-2M475,876.9v1.2M476,836.7v-0.7M476,876.9v1.1M477,836.7v-2.1M477,876.9v1.7M478,836.7v-0.7M478,876.9v1M479,836.7v-1.5M479,876.9v0.4M480,836.7v-0.5M480,876.9v1.4M481,836.7v-0.7M481,876.9v2.4M482,836.7v-0.7M482,876.9v2.1M483,836.7v-2.2M483,876.9v1.1M484,836.7v-1.6M484,876.9v2.7M485,836.7v-1.8M485,876.9v1.3M486,836.7v-2.6M486,876.9v1M487,836.7v-2.6M487,876.9v1.1M488,836.7v-1.4M488,876.9v1.1M489,836.7v-1.9M489,876.9v2.4M490,836.7v-2M490,876.9v0.8M491,836.7v-2.7M491,876.9v2.1M492,836.7v-1.6M492,876.9v2.4M493,836.7v-0.6M493,876.9v1.8M494,836.7v-2.2M494,876.9v2.2M495,836.7v-1.9M495,876.9v0.5M496,836.7v-1.5M496,876.9v1M497,836.7v-1.8M497,876.9v1.3M498,836.7v-1.4M498,876.9v1.6M499,836.7v-1.8M499,876.9v2.4M500,836.7v-1M500,876.9v1M501,836.7v-0.8M501,876.9v0.7M502,836.7v-2.4M502,876.9v2.5M503,836.7v-0.7M503,876.9v1.2M504,836.7v-2.5M504,876.9v2.4M505,836.7v-2.7M505,876.9v2.7M506,836.7v-1.1M506,876.9v0.6M507,836.7v-1M507,876.9v1.6M508,836.7v-0.4M508,876.9v1M509,836.7v-1.5M509,876.9v2M510,836.7v-0.8M510,876.9v0.7M511,836.7v-1.2M511,876.9v0.6M512,836.7v-0.7M512,876.9v0.6M513,836.7v-2.2M513,876.9v2.4M514,836.7v-0.5M514,876.9v2.3M515,836.7v-2.3M515,876.9v1.9M516,836.7v-1.1M516,876.9v2.3M517,836.7v-0.6M517,876.9v0.5M518,836.7v-2.6M518,876.9v0.9M519,836.7v-2.5M519,876.9v2.1M520,836.7v-0.5M520,876.9v0.6M521,836.7v-1.9M521,876.9v0.7M522,836.7v-1.9M522,876.9v1.9M523,836.7v-0.9M523,876.9v1.5M524,836.7v-0.9M524,876.9v2.4M525,836.7v-1.9M525,876.9v2M526,836.7v-1.8M526,876.9v0.5M527,836.7v-2.4M527,876.9v2.2M528,836.7v-1.6M528,876.9v1.8M529,836.7v-1.5M529,876.9v2.1M530,836.7v-1.6M530,876.9v1M531,836.7v-1.6M531,876.9v0.9M532,836.7v-0.4M532,876.9v1.6M533,836.7v-2.4M533,876.9v2.1M534,836.7v-0.9M534,876.9v1.6M535,836.7v-1.7M535,876.9v1.7M536,836.7v-1.5M536,876.9v1.6M537,836.7v-2M537,876.9v2.4M538,836.7v-1.6M538,876.9v2.2M539,836.7v-2M539,876.9v0.7M540,836.7v-1M540,876.9v1.1M541,836.7v-1.2M541,876.9v1.5M542,836.7v-1.1M542,876.9v2.7M543,836.7v-2.1M543,876.9v1.3M544,836.7v-2M544,876.9v2.5M545,836.7v-0.8M545,876.9v1.8M546,836.7v-2.6M546,876.9v1.3M547,836.7v-2.4M547,876.9v2.2M548,836.7v-1.1M548,876.9v0.7M549,836.7v-2.3M549,876.9v1.4M550,836.7v-1.2M550,876.9v1.5M551,836.7v-2.1M551,876.9v2.5M552,836.7v-2.5M552,876.9v2.2M553,836.7v-0.8M553,876.9v1.2M554,836.7v-0.4M554,876.9v0.9M555,836.7v-1.2M555,876.9v0.8M556,836.7v-1.5M556,876.9v0.7M557,836.7v-1.9M557,876.9v1.3M558,836.7v-1M558,876.9v2M559,836.7v-1.2M559,876.9v0.5M560,836.7v-2.3M560,876.9v2.1M561,836.7v-2.4M561,876.9v1.1M562,836.7v-1M562,876.9v2M563,836.7v-0.7M563,876.9v2.6M564,836.7v-1.9M564,876.9v1.7M565,836.7v-0.5M565,876.9v1.1M566,836.7v-1.4M566,876.9v2.7M567,836.7v-0.7M567,876.9v1.8M568,836.7v-0.6M568,876.9v2.6M569,836.7v-2.1M569,876.9v2.3M570,836.7v-2.1M570,876.9v0.8M571,836.7v-1M571,876.9v0.5M572,836.7v-1.7M572,876.9v0.6M573,836.7v-0.8M573,876.9v0.8M574,836.7v-2.5M574,876.9v2.2M575,836.7v-1.1M575,876.9v2.6M576,836.7v-0.8M576,876.9v0.7M577,836.7v-1.3M577,876.9v2.3M578,836.7v-0.6M578,876.9v2.2M579,836.7v-1.7M579,876.9v2.2M580,836.7v-1.2M580,876.9v0.5M581,836.7v-0.6M581,876.9v2.1M582,836.7v-1.6M582,876.9v2.2M583,836.7v-0.9M583,876.9v1M584,836.7v-0.9M584,876.9v2.4M585,836.7v-2M585,876.9v0.8M586,836.7v-2.1M586,876.9v0.5M587,836.7v-1.5M587,876.9v1M588,836.7v-2.2M588,876.9v2.1M589,836.7v-2M589,876.9v0.9M590,836.7v-0.5M590,876.9v1.9M591,836.7v-2M591,876.9v0.4M592,836.7v-2.3M592,876.9v2.5M593,836.7v-1.2M593,876.9v1.6M594,836.7v-1.9M594,876.9v2.5M595,836.7v-1.9M595,876.9v1.6M596,836.7v-2.2M596,876.9v1.5M597,836.7v-0.5M597,876.9v1.7M598,836.7v-1.4M598,876.9v1.2M599,836.7v-1.3M599,876.9v0.9M600,836.7v-1.1M600,876.9v2.1M601,836.7v-2.4M601,876.9v1.4M602,836.7v-2.3M602,876.9v0.7M603,836.7v-1.6M603,876.9v2.1M604,836.7v-2.2M604,876.9v1.3M605,836.7v-0.8M605,876.9v2.6M606,836.7v-1.8M606,876.9v1.9M607,836.7v-1.2M607,876.9v0.7M608,836.7v-1.7M608,876.9v1.3M609,836.7v-2.4M609,876.9v1.9M610,836.7v-2.1M610,876.9v1.7M611,836.7v-2.1M611,876.9v0.7M612,836.7v-2.7M612,876.9v1.7M613,836.7v-1.8M613,876.9v0.8M614,836.7v-0.6M614,876.9v2M615,836.7v-2.1M615,876.9v1.9M616,836.7v-1M616,876.9v1.5M617,836.7v-2.2M617,876.9v1.9M618,836.7v-2.5M618,876.9v0.6M619,836.7v-2.2M619,876.9v0.4M620,836.7v-1.8M620,876.9v1.6M621,836.7v-0.6M621,876.9v1.4M622,836.7v-1.9M622,876.9v2.4M623,836.7v-0.6M623,876.9v1.6M624,836.7v-2.2M624,876.9v0.7M625,836.7v-2.5M625,876.9v2.6M626,836.7v-1.2M626,876.9v0.9M627,836.7v-0.7M627,876.9v0.9M628,836.7v-1.4M628,876.9v2M629,836.7v-2.6M629,876.9v1.7M630,836.7v-2.6M630,876.9v1.4M631,836.7v-1.9M631,876.9v0.4M632,836.7v-1.4M632,876.9v0.5M633,836.7v-0.7M633,876.9v2.3M634,836.7v-0.7M634,876.9v1.1M635,836.7v-1.6M635,876.9v1.6M636,836.7v-0.5M636,876.9v0.7M637,836.7v-2M637,876.9v1.3M638,836.7v-0.6M638,876.9v1.5M639,836.7v-1.3M639,876.9v2.7M640,836.7v-0.5M640,876.9v0.8M641,836.7v-0.6M641,876.9v1.7M642,836.7v-2.6M642,876.9v2.2M643,836.7v-0.7M643,876.9v1.6M644,836.7v-1.2M644,876.9v2.6M645,836.7v-2M645,876.9v1.8M646,836.7v-1M646,876.9v1.4M647,836.7v-1.6M647,876.9v1.3M648,836.7v-1.7M648,876.9v0.6M649,836.7v-1.4M649,876.9v2.7M650,836.7v-1.3M650,876.9v1.6M651,836.7v-2.1M651,876.9v2.3M652,836.7v-2.1M652,876.9v1.3M653,836.7v-2M653,876.9v0.9M654,836.7v-1.8M654,876.9v0.4M655,836.7v-0.8M655,876.9v0.8M656,836.7v-1.2M656,876.9v2.1M657,836.7v-0.4M657,876.9v2.4M658,836.7v-0.6M658,876.9v2.6M659,836.7v-2.6M659,876.9v1.8M660,836.7v-2.3M660,876.9v2.6M661,836.7v-1.4M661,876.9v2.4M662,836.7v-0.5M662,876.9v2.2M663,836.7v-1.9M663,876.9v2.2M664,836.7v-0.7M664,876.9v0.6M665,836.7v-1.6M665,876.9v1.8M666,836.7v-2M666,876.9v0.8M667,836.7v-1.7M667,876.9v2.6M668,836.7v-1M668,876.9v2.3M669,836.7v-2.6M669,876.9v1.9M670,836.7v-1.4M670,876.9v1.4M671,836.7v-1.5M671,876.9v0.7M672,836.7v-0.6M672,876.9v1M673,836.7v-0.8M673,876.9v2.5M674,836.7v-1.2M674,876.9v2.4M675,836.7v-1.7M675,876.9v2.5M676,836.7v-2.5M676,876.9v2M677,836.7v-1.4M677,876.9v1M678,836.7v-1.7M678,876.9v1.1M679,836.7v-2.3M679,876.9v0.5M680,836.7v-1.9M680,876.9v1.2M681,836.7v-1.4M681,876.9v1.6M682,836.7v-2.7M682,876.9v2.7M683,836.7v-1.2M683,876.9v2.6M684,836.7v-2.6M684,876.9v1.6M685,836.7v-1.7M685,876.9v0.9M686,836.7v-2.2M686,876.9v1.5M687,836.7v-2.2M687,876.9v2.5M688,836.7v-1.8M688,876.9v2M689,836.7v-1.7M689,876.9v0.7M690,836.7v-1.5M690,876.9v0.5M691,836.7v-0.8M691,876.9v2.7M692,836.7v-1.3M692,876.9v0.7M693,836.7v-1.4M693,876.9v0.5M694,836.7v-1.8M694,876.9v0.9M695,836.7v-0.9M695,876.9v1.9M696,836.7v-2.5M696,876.9v0.4M697,836.7v-2M697,876.9v1.7M698,836.7v-1.5M698,876.9v1.4M699,836.7v-0.4M699,876.9v1.2M700,836.7v-1.6M700,876.9v1.2M701,836.7v-2.7M701,876.9v1.2M702,836.7v-2.3M702,876.9v2.3M703,836.7v-2.2M703,876.9v1.5M704,836.7v-1.5M704,876.9v2.3M705,836.7v-0.7M705,876.9v0.9M706,836.7v-0.4M706,876.9v1.5M707,836.7v-1.4M707,876.9v2.6M708,836.7v-2.5M708,876.9v1.3M709,836.7v-1.5M709,876.9v0.6M710,836.7v-2.1M710,876.9v1.6M711,836.7v-0.8M711,876.9v2.4M712,836.7v-0.5M712,876.9v0.8M713,836.7v-1.5M713,876.9v2.7M714,836.7v-0.7M714,876.9v1M715,836.7v-2.2M715,876.9v1.2M716,836.7v-2.5M716,876.9v0.4M717,836.7v-0.9M717,876.9v1.1M718,836.7v-2.4M718,876.9v0.6M719,836.7v-1.9M719,876.9v2.4M720,836.7v-2.6M720,876.9v2.3M721,836.7v-0.5M721,876.9v1.5M722,836.7v-0.9M722,876.9v0.7M723,836.7v-1M723,876.9v2.1M724,836.7v-1.7M724,876.9v0.7M725,836.7v-1.1M725,876.9v0.6M726,836.7v-2.5M726,876.9v2.1M727,836.7v-1.5M727,876.9v2.6M728,836.7v-2.6M728,876.9v0.9M729,836.7v-1M729,876.9v0.8M730,836.7v-1.8M730,876.9v1.8M731,836.7v-1.6M731,876.9v2.2M732,836.7v-1.6M732,876.9v1.1M733,836.7v-1.9M733,876.9v2.6M734,836.7v-0.5M734,876.9v1.5M735,836.7v-0.7M735,876.9v2.1M736,836.7v-1.4M736,876.9v2.3M737,836.7v-1.9M737,876.9v2.6M738,836.7v-1.7M738,876.9v1.8M739,836.7v-2.6M739,876.9v2.2M740,836.7v-1.2M740,876.9v0.6M741,836.7v-2.5M741,876.9v0.5M742,836.7v-2.5M742,876.9v2.5M743,836.7v-1.9M743,876.9v2.6M744,836.7v-1.8M744,876.9v2.1M745,836.7v-1.8M745,876.9v0.9M746,836.7v-0.6M746,876.9v2.1M747,836.7v-1.4M747,876.9v0.7M748,836.7v-1.7M748,876.9v1M749,836.7v-1M749,876.9v2.4M750,836.7v-1.8M750,876.9v2.1M751,836.7v-2.3M751,876.9v1.4M752,836.7v-1.4M752,876.9v1.4M753,836.7v-1.2M753,876.9v2.2M754,836.7v-2.4M754,876.9v1.1M755,836.7v-2M755,876.9v0.9M756,836.7v-0.4M756,876.9v2M757,836.7v-2.2M757,876.9v1.2M758,836.7v-2.7M758,876.9v2.1M759,836.7v-1.1M759,876.9v2.1M760,836.7v-2.3M760,876.9v0.7M761,836.7v-2.5M761,876.9v1.4M762,836.7v-1M762,876.9v1.3M763,836.7v-1.6M763,876.9v1.6M764,836.7v-1.1M764,876.9v0.5M765,836.7v-1.9M765,876.9v2.1M766,836.7v-2M766,876.9v1.3M767,836.7v-2.4M767,876.9v0.4M768,836.7v-0.7M768,876.9v0.4M769,836.7v-1.7M769,876.9v1.6M770,836.7v-0.9M770,876.9v1.6M771,836.7v-0.4M771,876.9v0.5M772,836.7v-2.6M772,876.9v2.4M773,836.7v-0.6M773,876.9v1.9M774,836.7v-1.6M774,876.9v1.6M775,836.7v-2.3M775,876.9v1.9M776,836.7v-2.6M776,876.9v2M777,836.7v-2.5M777,876.9v0.7M778,836.7v-2.3M778,876.9v1.1M779,836.7v-2.5M779,876.9v2.2M780,836.7v-2.6M780,876.9v2.1M781,836.7v-1.3M781,876.9v1.6M782,836.7v-2.2M782,876.9v0.5M783,836.7v-1.6M783,876.9v1.7M784,836.7v-2.1M784,876.9v1.2M785,836.7v-1.8M785,876.9v2.1M786,836.7v-1.3M786,876.9v2M787,836.7v-2.5M787,876.9v1.2M788,836.7v-1.6M788,876.9v1.5M789,836.7v-2.3M789,876.9v1M790,836.7v-1.1M790,876.9v1.3M791,836.7v-1.9M791,876.9v0.8M792,836.7v-2.7M792,876.9v1.6M793,836.7v-2.1M793,876.9v1.3M794,836.7v-0.5M794,876.9v1.3M795,836.7v-1.7M795,876.9v0.6M796,836.7v-2.7M796,876.9v1.8M797,836.7v-1.5M797,876.9v0.5M798,836.7v-1M798,876.9v1.2M799,836.7v-1.9M799,876.9v0.8M800,836.7v-1.5M800,876.9v1M801,836.7v-1.7M801,876.9v2M802,836.7v-1.6M802,876.9v2.1M803,836.7v-1.8M803,876.9v0.6M804,836.7v-1.9M804,876.9v1.5M805,836.7v-2.1M805,876.9v2.6M806,836.7v-1.2M806,876.9v2.4M807,836.7v-0.9M807,876.9v1.9M808,836.7v-0.4M808,876.9v2.3M809,836.7v-1.4M809,876.9v1.4M810,836.7v-1.5M810,876.9v1.3M811,836.7v-0.9M811,876.9v2M812,836.7v-1.8M812,876.9v0.5M813,836.7v-1M813,876.9v2.5M814,836.7v-1.1M814,876.9v1.1M815,836.7v-1.7M815,876.9v1.3M816,836.7v-2.6M816,876.9v2.7M817,836.7v-0.7M817,876.9v0.9M818,836.7v-0.8M818,876.9v1.4M819,836.7v-1.1M819,876.9v2M820,836.7v-2.4M820,876.9v0.6M821,836.7v-0.5M821,876.9v0.7M822,836.7v-1.1M822,876.9v0.7M823,836.7v-1.4M823,876.9v1.2M824,836.7v-2.1M824,876.9v2.6M825,836.7v-2.6M825,876.9v1.4M826,836.7v-1.9M826,876.9v0.7M827,836.7v-1.8M827,876.9v2.4M828,836.7v-2.4M828,876.9v0.7M829,836.7v-0.8M829,876.9v2.5M830,836.7v-2M830,876.9v2.2M831,836.7v-0.6M831,876.9v1.8M832,836.7v-0.5M832,876.9v2.1M833,836.7v-2.2M833,876.9v1.1M834,836.7v-0.4M834,876.9v2.1M835,836.7v-2.7M835,876.9v1.8M836,836.7v-1.2M836,876.9v1.2M837,836.7v-2.3M837,876.9v2.6M838,836.7v-1.2M838,876.9v0.9M839,836.7v-2.7M839,876.9v1.4M840,836.7v-1.4M840,876.9v1.1M841,836.7v-2.1M841,876.9v2.7M842,836.7v-1.5M842,876.9v2.4M843,836.7v-1.3M843,876.9v1.4M844,836.7v-2.2M844,876.9v2.6M845,836.7v-2.1M845,876.9v2M846,836.7v-2.3M846,876.9v2.5M847,836.7v-2.6M847,876.9v1.6M848,836.7v-1.3M848,876.9v0.4M849,836.7v-1.6M849,876.9v1.2M850,836.7v-0.4M850,876.9v2.7M851,836.7v-1.1M851,876.9v2.5M852,836.7v-0.4M852,876.9v1.2M853,836.7v-2.2M853,876.9v1.9M854,836.7v-1.9M854,876.9v1.5M855,836.7v-0.6M855,876.9v2.3M856,836.7v-2.2M856,876.9v1.5M857,836.7v-1.7M857,876.9v2.2M858,836.7v-1.5M858,876.9v1.5M859,836.7v-1.5M859,876.9v2.1M860,836.7v-2.1M860,876.9v1.2M861,836.7v-2.2M861,876.9v1.3M862,836.7v-1.9M862,876.9v1.3M863,836.7v-2.5M863,876.9v2.6M864,836.7v-2.2M864,876.9v1.3M865,836.7v-1.2M865,876.9v1.4" stroke="#0aff0a" stroke-width="1" stroke-opacity="0.45" fill="none"/>
<line x1="657" y1="876.9" x2="657" y2="912" stroke="#40f040" stroke-width="1.2"/>
<polyline points="195,973.9 197,974 199,973.6 201,973.9 203,974.2 205,973.6 207,974.2 209,974 211,974.2 213,974.1 215,974.1 217,974.1 219,973.8 221,973.6 223,974.1 225,974.2 227,974.1 229,973.7 231,973.9 233,973.9 235,973.8 237,973.9 239,973.9 241,974.2 243,974 245,974.2 247,974.2 249,973.7 251,974.1 253,973.8 255,974 257,973.9 259,974.1 261,973.8 263,974 265,973.8 267,974.1 269,973.9 271,974 273,974.2 275,973.7 277,973.6 279,974.2 281,973.9 283,974 285,974.1 287,974.2 289,973.8 291,974.2 293,973.8 295,974.1 297,974.1 299,973.8 301,973.8 303,973.8 305,973.8 307,973.8 309,974.1 311,973.6 313,974.2 315,974.1 317,973.9 319,974 321,973.8 323,974.1 325,974.2 327,973.8 329,973.9 331,973.7 333,973.7 335,974.1 337,974 339,973.9 341,974 343,973.7 345,973.6 347,973.8 349,974 351,973.7 353,973.9 355,973.9" fill="none" stroke="#ff0a0a" stroke-width="3.2"/>
<line x1="355.8" y1="971.9" x2="355.8" y2="991" stroke="#ff3030" stroke-width="1"/>
<polyline points="356,991 358,990.9 360.1,990.9 362.1,991.3 364.1,991.1 366.2,991.4 368.2,991.5 370.2,991.3 372.3,991.1 374.3,991.7 376.3,991.6 378.4,991.6 380.4,991.8 382.4,991.7 384.5,992 386.5,991.4 388.6,992.2 390.6,992 392.6,991.9 394.7,992.3 396.7,992.3 398.7,992.2 400.8,991.8 402.8,992.3 404.8,992.2 406.9,992.3 408.9,992.6 410.9,992.1 413,992.7 415,992.5 417,992.4 419,992.4 421,992.3 423,992.3 425,992.5 427,992.7 429,993 431,992.5 433,992.6 435,992.7 437,992.9 439,992.7 441,993 443,992.6 445,992.6 447,993 449,993.1 451,992.7 453,992.7 455,993.2 457,992.8 459,993.4 461,993.2 463,992.9 465,993.1 467,992.9 469,992.9 471,993.1 473,993.5 475,993.3 477,993.6 479,993.5 481,993.4 483,993.4 485,993.3 487,993.4 489,993.3 491,993.2 493,993.5 495.1,993.2 497.1,993.2 499.1,993.4 501.1,993.6 503.1,993.2 505.1,993.3 507.1,993.2 509.1,993.1 511.1,993.2 513.1,993.5 515.1,993.1 517.1,993.3 519.1,993.1 521.1,993.4 523.1,993.5 525.1,993 527.1,993.3 529.1,993.1 531.1,993.4 533.1,993.4 535.2,993.1 537.2,993.1 539.2,993.2 541.2,993.2 543.2,993.6 545.2,993.6 547.2,993.5 549.2,993.2 551.2,993.3 553.2,993.1 555.2,993.3 557.2,993.6 559.2,993 561.2,993.2 563.2,993.1 565.2,993.5 567.2,993.2 569.2,993.3 571.2,993 573.3,993.4 575.3,993.3 577.3,993.5 579.3,993.5 581.3,993.5 583.3,993.1 585.3,993.1 587.3,993.4 589.3,993 591.3,993.6 593.3,993.5 595.3,993.3 597.3,993.2 599.3,993 601.3,993.3 603.3,993.5 605.3,993 607.3,993 609.3,993.4 611.3,993.3 613.4,993.5 615.4,993.2 617.4,993.6 619.4,993.6 621.4,993.2 623.4,993.3 625.4,993.4 627.4,993.3 629.4,993.5 631.4,993.4 633.4,993.5 635.4,993.1 637.4,993.3 639.4,993.3 641.4,993.4 643.4,993 645.4,993.5 647.4,993.3 649.4,993.1 651.5,993.5 653.5,993.3 655.5,993.5 657.5,993.5 659.5,993.4 661.5,993.6 663.5,993 665.5,993.2 667.5,993.1 669.5,993.4 671.5,993.1 673.5,993 675.5,993 677.5,993.1 679.5,993.3 681.5,993.3 683.5,993.3 685.5,993 687.5,993.3 689.5,993.1 691.6,993 693.6,993 695.6,993.1 697.6,993.2 699.6,993.1 701.6,993.3 703.6,993.1 705.6,993.5 707.6,993.6 709.6,993.2 711.6,993 713.6,993.6 715.6,993 717.6,993.4 719.6,993.5 721.6,993.3 723.6,993.6 725.6,993.1 727.6,993.5 729.7,993.6 731.7,993.6 733.7,993.5 735.7,993.3 737.7,993.3 739.7,993.5 741.7,993.2 743.7,993.1 745.7,993 747.7,993.1 749.7,993 751.7,993.6 753.7,993.2 755.7,993.2 757.7,993.6 759.7,993.4 761.7,993.3 763.7,993 765.7,993.2 767.7,993.2 769.8,993.6 771.8,993.2 773.8,993.6 775.8,993.1 777.8,993 779.8,993.6 781.8,993 783.8,993.5 785.8,993.4 787.8,993.1 789.8,993.5 791.8,993.3 793.8,993.6 795.8,993.3 797.8,993.6 799.8,993.6 801.8,993.2 803.8,993.4 805.8,993.5 807.9,993.4 809.9,993 811.9,993.4 813.9,993.5 815.9,993.1 817.9,993 819.9,993 821.9,993.3 823.9,993 825.9,993.5 827.9,993.2 829.9,993.6 831.9,993.5 833.9,993.2 835.9,993.1 837.9,993.2 839.9,993.4 841.9,993.6 843.9,993.6 845.9,993.2 848,993 850,993.4 852,993.4 854,993.4 856,993.5 858,993.5 860,993.4 862,993.5 864,993 866,993.3" fill="none" stroke="#ff0a0a" stroke-width="3"/>
<polyline points="195,760 197,760 197,758.1 336,758.1 336,760 359.3,760 359.3,758.1 364.9,758.1 364.9,760 367.2,760 367.2,761.9 370.7,761.9 370.7,760 378,760 378,758.1 383,758.1 383,756.2 388,756.2 388,754.3 393,754.3 393,752.4 399,752.4 399,750.5 405,750.5 405,748.6 409,748.6 409,746.7 416,746.7 416,744.8 421,744.8 421,742.9 428,742.9 428,741 432,741 432,739.1 439,739.1 439,737.2 443,737.2 443,735.3 449,735.3 449,733.4 456,733.4 456,731.5 461,731.5 461,729.6 467,729.6 467,727.7 472,727.7 472,725.8 476.3,725.8 476.3,723.9 480.8,723.9 480.8,725.8 485.8,725.8 485.8,727.7 498.7,727.7 498.7,725.8 503.6,725.8 503.6,723.9 508.4,723.9 508.4,725.8 513.2,725.8 513.2,727.7 517,727.7 517,729.6 519.8,729.6 519.8,727.7 526.7,727.7 526.7,725.8 866,725.8" fill="none" stroke="#ff10ff" stroke-width="2.3" stroke-linejoin="miter"/>
<line x1="356.4" y1="744" x2="356.4" y2="766" stroke="#ff9cff" stroke-width="2"/>
<line x1="355.3" y1="763" x2="355.3" y2="778" stroke="#ff20ff" stroke-width="1.3"/>
<line x1="355" y1="598.1" x2="355" y2="1035" stroke="#ff98ff" stroke-width="1.7"/>
<line x1="520.8" y1="598.1" x2="520.8" y2="1035" stroke="#ff98ff" stroke-width="1.7"/>
<line x1="355" y1="836.7" x2="355" y2="876.9" stroke="#94a494" stroke-width="1.6"/>
<line x1="520.8" y1="836.7" x2="520.8" y2="876.9" stroke="#94a494" stroke-width="1.6"/>
<line x1="355" y1="655.2" x2="355" y2="711.6" stroke="#9a48ff" stroke-width="1.6"/>
<line x1="520.8" y1="655.2" x2="520.8" y2="711.6" stroke="#9a48ff" stroke-width="1.6"/>
<rect x="350.3" y="920.4" width="9.4" height="9.8" fill="none" stroke="#ff80ff" stroke-width="1.2"/>
<circle cx="520.8" cy="615.4" r="4.9" fill="none" stroke="#ff80ff" stroke-width="1.2"/>
<circle cx="361" cy="607.4" r="5.2" fill="#00b0f0"/>
<text x="361" y="610.6" font-family="Liberation Sans, sans-serif" font-size="9" font-weight="bold" fill="#ffffff" text-anchor="middle">a</text>
<circle cx="513.2" cy="607.4" r="5.2" fill="#00b0f0"/>
<text x="513.2" y="610.6" font-family="Liberation Sans, sans-serif" font-size="9" font-weight="bold" fill="#ffffff" text-anchor="middle">b</text>
<path d="M527,598.1 A3.5,3.5 0 0 0 534,598.1 Z" fill="#0060ff"/>
<rect x="663.4" y="614.6" width="203.5" height="39.3" rx="2.5" fill="#fffcfe" stroke="#7e8076" stroke-width="1.3"/>
<rect x="676.2" y="617.2" width="9.5" height="9.5" fill="none" stroke="#ff80ff" stroke-width="1"/>
<circle cx="681" cy="634.8" r="4.8" fill="none" stroke="#ff80ff" stroke-width="1"/>
<circle cx="693.7" cy="621.8" r="5" fill="#00b0f0"/>
<text x="693.7" y="625" font-family="Liberation Sans, sans-serif" font-size="9" font-weight="bold" fill="#ffffff" text-anchor="middle">a</text>
<circle cx="693.7" cy="634.8" r="5" fill="#00b0f0"/>
<text x="693.7" y="638" font-family="Liberation Sans, sans-serif" font-size="9" font-weight="bold" fill="#ffffff" text-anchor="middle">b</text>
<text x="718.4" y="625.6" font-family="Liberation Sans, sans-serif" font-size="10" letter-spacing="1.1" fill="#ff55ff" stroke="#ff55ff" stroke-width="0.3">−10.5 s</text>
<text x="718.4" y="638.6" font-family="Liberation Sans, sans-serif" font-size="10" letter-spacing="1.1" fill="#ff55ff" stroke="#ff55ff" stroke-width="0.3">−600ms</text>
<text x="718.4" y="651.6" font-family="Liberation Sans, sans-serif" font-size="10" letter-spacing="1.1" fill="#ff55ff" stroke="#ff55ff" stroke-width="0.3">Δ9.92 s</text>
<path d="M181,679 L188.5,679 L192,684.5 L188.5,690 L181,690 Z" fill="#ffffff" stroke="#6060ff" stroke-width="1"/><text x="185.5" y="687.6" font-family="Liberation Sans, sans-serif" font-size="8.5" fill="#4040ff" text-anchor="middle">1</text>
<path d="M181,853 L188.5,853 L192,858.5 L188.5,864 L181,864 Z" fill="#ffffff" stroke="#90e090" stroke-width="1"/><text x="185.5" y="861.6" font-family="Liberation Sans, sans-serif" font-size="8.5" fill="#70d070" text-anchor="middle">3</text>
<path d="M181,988.5 L188.5,988.5 L192,994 L188.5,999.5 L181,999.5 Z" fill="#ff50ff" stroke="#e8d0a0" stroke-width="1"/><text x="185.5" y="997.1" font-family="Liberation Sans, sans-serif" font-size="8.5" fill="#ffffff" text-anchor="middle">4</text>
<path d="M181,1020 L188.5,1020 L192,1025.5 L188.5,1031 L181,1031 Z" fill="#ffffff" stroke="#e89060" stroke-width="1"/><text x="185.5" y="1028.6" font-family="Liberation Sans, sans-serif" font-size="8.5" fill="#ff3030" text-anchor="middle">2</text>
<path d="M194,595.8V1034.7H867.5" stroke="#000" stroke-width="3.6" fill="none" stroke-linejoin="round" stroke-linecap="round"/>
<path d="M194,595.8H201.5M194,639.7H201.5M194,683.6H201.5M194,727.5H201.5M194,771.4H201.5M194,815.2H201.5M194,859.1H201.5M194,903H201.5M194,946.9H201.5M194,990.8H201.5M261.3,1034.7V1026.2M328.6,1034.7V1026.2M395.9,1034.7V1026.2M463.2,1034.7V1026.2M530.5,1034.7V1026.2M597.8,1034.7V1026.2M665.1,1034.7V1026.2M732.4,1034.7V1026.2M799.7,1034.7V1026.2M867,1034.7V1026.2" stroke="#000" stroke-width="3.6" fill="none" stroke-linecap="round"/>
<line x1="389.2" y1="638.4" x2="418.6" y2="654.5" stroke="#000" stroke-width="3.3" stroke-linecap="round"/>
<line x1="603" y1="725.9" x2="639.4" y2="745" stroke="#000" stroke-width="3.3" stroke-linecap="round"/>
<line x1="430.7" y1="802.5" x2="460.8" y2="833.8" stroke="#000" stroke-width="3.3" stroke-linecap="round"/>
<line x1="371.1" y1="990.4" x2="413.4" y2="963" stroke="#000" stroke-width="3.3" stroke-linecap="round"/>
<text x="359.5" y="641.7" class="s" font-family="Liberation Serif, serif" font-size="37"><tspan font-style="italic">e</tspan><tspan font-size="24" dx="-2" dy="4.5">a</tspan></text>
<text x="402.5" y="806.5" class="s" font-family="Liberation Serif, serif" font-size="37"><tspan font-style="italic">i</tspan><tspan font-size="24" dy="5.5">a</tspan></text>
<text x="647.5" y="766.9" class="s" font-family="Liberation Serif, serif" font-size="37"><tspan font-style="italic">I</tspan><tspan font-size="23" font-style="italic" dx="0" dy="5">PV</tspan></text>
<text x="422.2" y="974.5" class="s" font-family="Liberation Serif, serif" font-size="37"><tspan font-style="italic">V</tspan><tspan font-size="23" font-style="italic" dx="-3" dy="5">PV</tspan></text>
<text x="431.1" y="1070.7" class="s" font-family="Liberation Serif, serif" font-size="37" letter-spacing="0.1">Time (4 s/div)</text>
<text x="115" y="1125.2" class="s" font-family="Liberation Serif, serif" font-size="36" word-spacing="2.0"><tspan font-size="40">(</tspan><tspan font-weight="bold" font-size="39.5" dx="0.5">b</tspan><tspan font-size="40" dx="0.8">)</tspan><tspan dx="11.5">P&amp;O with 3 V fixed perturbation value under </tspan><tspan font-style="italic">Case 1</tspan></text>
<text transform="translate(31.4,817) rotate(-90)" x="0" y="0" class="s" font-family="Liberation Serif, serif" font-size="37" text-anchor="middle"><tspan font-style="italic">i</tspan><tspan font-size="24" dy="5">a</tspan><tspan dy="-5"> (20 A/div)</tspan></text>
<text transform="translate(73.8,817) rotate(-90)" x="0" y="0" class="s" font-family="Liberation Serif, serif" font-size="37" text-anchor="middle"><tspan font-style="italic">I</tspan><tspan font-size="23" font-style="italic" dy="5">PV</tspan><tspan dy="-5"> (10 A/div)</tspan></text>
<text transform="translate(117,817) rotate(-90)" x="0" y="0" class="s" font-family="Liberation Serif, serif" font-size="37" text-anchor="middle"><tspan font-style="italic">e</tspan><tspan font-size="24" dx="-2" dy="5">a</tspan><tspan dy="-5"> (500 V/div)</tspan></text>
<text transform="translate(159.4,817) rotate(-90)" x="0" y="0" class="s" font-family="Liberation Serif, serif" font-size="37" text-anchor="middle"><tspan font-style="italic">V</tspan><tspan font-size="23" font-style="italic" dx="-4.5" dy="5">PV</tspan><tspan dy="-5"> (100 V/div)</tspan></text>
<line x1="261.3" y1="1176.1" x2="261.3" y2="1615.5" stroke="#b4b8c8" stroke-width="1" stroke-dasharray="1.2,7.6" stroke-dashoffset="0.6"/>
<line x1="328.6" y1="1176.1" x2="328.6" y2="1615.5" stroke="#b4b8c8" stroke-width="1" stroke-dasharray="1.2,7.6" stroke-dashoffset="0.6"/>
<line x1="395.9" y1="1176.1" x2="395.9" y2="1615.5" stroke="#b4b8c8" stroke-width="1" stroke-dasharray="1.2,7.6" stroke-dashoffset="0.6"/>
<line x1="463.2" y1="1176.1" x2="463.2" y2="1615.5" stroke="#b4b8c8" stroke-width="1" stroke-dasharray="1.2,7.6" stroke-dashoffset="0.6"/>
<line x1="597.8" y1="1176.1" x2="597.8" y2="1615.5" stroke="#b4b8c8" stroke-width="1" stroke-dasharray="1.2,7.6" stroke-dashoffset="0.6"/>
<line x1="665.1" y1="1176.1" x2="665.1" y2="1615.5" stroke="#b4b8c8" stroke-width="1" stroke-dasharray="1.2,7.6" stroke-dashoffset="0.6"/>
<line x1="732.4" y1="1176.1" x2="732.4" y2="1615.5" stroke="#b4b8c8" stroke-width="1" stroke-dasharray="1.2,7.6" stroke-dashoffset="0.6"/>
<line x1="799.7" y1="1176.1" x2="799.7" y2="1615.5" stroke="#b4b8c8" stroke-width="1" stroke-dasharray="1.2,7.6" stroke-dashoffset="0.6"/>
<line x1="194" y1="1220" x2="867" y2="1220" stroke="#b4b8c8" stroke-width="1" stroke-dasharray="1.2,12.3" stroke-dashoffset="0.6"/>
<line x1="194" y1="1264" x2="867" y2="1264" stroke="#b4b8c8" stroke-width="1" stroke-dasharray="1.2,12.3" stroke-dashoffset="0.6"/>
<line x1="194" y1="1307.9" x2="867" y2="1307.9" stroke="#b4b8c8" stroke-width="1" stroke-dasharray="1.2,12.3" stroke-dashoffset="0.6"/>
<line x1="194" y1="1351.9" x2="867" y2="1351.9" stroke="#b4b8c8" stroke-width="1" stroke-dasharray="1.2,12.3" stroke-dashoffset="0.6"/>
<line x1="194" y1="1439.7" x2="867" y2="1439.7" stroke="#b4b8c8" stroke-width="1" stroke-dasharray="1.2,12.3" stroke-dashoffset="0.6"/>
<line x1="194" y1="1483.7" x2="867" y2="1483.7" stroke="#b4b8c8" stroke-width="1" stroke-dasharray="1.2,12.3" stroke-dashoffset="0.6"/>
<line x1="194" y1="1527.6" x2="867" y2="1527.6" stroke="#b4b8c8" stroke-width="1" stroke-dasharray="1.2,12.3" stroke-dashoffset="0.6"/>
<line x1="194" y1="1571.6" x2="867" y2="1571.6" stroke="#b4b8c8" stroke-width="1" stroke-dasharray="1.2,12.3" stroke-dashoffset="0.6"/>
<line x1="194" y1="1395.8" x2="867" y2="1395.8" stroke="#cfd2e0" stroke-width="1.6"/>
<line x1="530.5" y1="1176.1" x2="530.5" y2="1615.5" stroke="#cfd2e0" stroke-width="1.6"/>
<path d="M207.5,1393.3V1398.3M220.9,1393.3V1398.3M234.4,1393.3V1398.3M247.8,1393.3V1398.3M261.3,1391.3V1400.3M274.8,1393.3V1398.3M288.2,1393.3V1398.3M301.7,1393.3V1398.3M315.1,1393.3V1398.3M328.6,1391.3V1400.3M342.1,1393.3V1398.3M355.5,1393.3V1398.3M369,1393.3V1398.3M382.4,1393.3V1398.3M395.9,1391.3V1400.3M409.4,1393.3V1398.3M422.8,1393.3V1398.3M436.3,1393.3V1398.3M449.7,1393.3V1398.3M463.2,1391.3V1400.3M476.7,1393.3V1398.3M490.1,1393.3V1398.3M503.6,1393.3V1398.3M517,1393.3V1398.3M530.5,1391.3V1400.3M544,1393.3V1398.3M557.4,1393.3V1398.3M570.9,1393.3V1398.3M584.3,1393.3V1398.3M597.8,1391.3V1400.3M611.3,1393.3V1398.3M624.7,1393.3V1398.3M638.2,1393.3V1398.3M651.6,1393.3V1398.3M665.1,1391.3V1400.3M678.6,1393.3V1398.3M692,1393.3V1398.3M705.5,1393.3V1398.3M718.9,1393.3V1398.3M732.4,1391.3V1400.3M745.9,1393.3V1398.3M759.3,1393.3V1398.3M772.8,1393.3V1398.3M786.2,1393.3V1398.3M799.7,1391.3V1400.3M813.2,1393.3V1398.3M826.6,1393.3V1398.3M840.1,1393.3V1398.3M853.5,1393.3V1398.3M528,1184.9H533M528,1193.7H533M528,1202.5H533M528,1211.3H533M526,1220H535M528,1228.8H533M528,1237.6H533M528,1246.4H533M528,1255.2H533M526,1264H535M528,1272.8H533M528,1281.6H533M528,1290.3H533M528,1299.1H533M526,1307.9H535M528,1316.7H533M528,1325.5H533M528,1334.3H533M528,1343.1H533M526,1351.9H535M528,1360.6H533M528,1369.4H533M528,1378.2H533M528,1387H533M526,1395.8H535M528,1404.6H533M528,1413.4H533M528,1422.2H533M528,1431H533M526,1439.7H535M528,1448.5H533M528,1457.3H533M528,1466.1H533M528,1474.9H533M526,1483.7H535M528,1492.5H533M528,1501.3H533M528,1510H533M528,1518.8H533M526,1527.6H535M528,1536.4H533M528,1545.2H533M528,1554H533M528,1562.8H533M526,1571.6H535M528,1580.3H533M528,1589.1H533M528,1597.9H533M528,1606.7H533M207.5,1176.1V1178.6M207.5,1615.5V1613M220.9,1176.1V1178.6M220.9,1615.5V1613M234.4,1176.1V1178.6M234.4,1615.5V1613M247.8,1176.1V1178.6M247.8,1615.5V1613M261.3,1176.1V1178.6M261.3,1615.5V1613M274.8,1176.1V1178.6M274.8,1615.5V1613M288.2,1176.1V1178.6M288.2,1615.5V1613M301.7,1176.1V1178.6M301.7,1615.5V1613M315.1,1176.1V1178.6M315.1,1615.5V1613M328.6,1176.1V1178.6M328.6,1615.5V1613M342.1,1176.1V1178.6M342.1,1615.5V1613M355.5,1176.1V1178.6M355.5,1615.5V1613M369,1176.1V1178.6M369,1615.5V1613M382.4,1176.1V1178.6M382.4,1615.5V1613M395.9,1176.1V1178.6M395.9,1615.5V1613M409.4,1176.1V1178.6M409.4,1615.5V1613M422.8,1176.1V1178.6M422.8,1615.5V1613M436.3,1176.1V1178.6M436.3,1615.5V1613M449.7,1176.1V1178.6M449.7,1615.5V1613M463.2,1176.1V1178.6M463.2,1615.5V1613M476.7,1176.1V1178.6M476.7,1615.5V1613M490.1,1176.1V1178.6M490.1,1615.5V1613M503.6,1176.1V1178.6M503.6,1615.5V1613M517,1176.1V1178.6M517,1615.5V1613M530.5,1176.1V1178.6M530.5,1615.5V1613M544,1176.1V1178.6M544,1615.5V1613M557.4,1176.1V1178.6M557.4,1615.5V1613M570.9,1176.1V1178.6M570.9,1615.5V1613M584.3,1176.1V1178.6M584.3,1615.5V1613M597.8,1176.1V1178.6M597.8,1615.5V1613M611.3,1176.1V1178.6M611.3,1615.5V1613M624.7,1176.1V1178.6M624.7,1615.5V1613M638.2,1176.1V1178.6M638.2,1615.5V1613M651.6,1176.1V1178.6M651.6,1615.5V1613M665.1,1176.1V1178.6M665.1,1615.5V1613M678.6,1176.1V1178.6M678.6,1615.5V1613M692,1176.1V1178.6M692,1615.5V1613M705.5,1176.1V1178.6M705.5,1615.5V1613M718.9,1176.1V1178.6M718.9,1615.5V1613M732.4,1176.1V1178.6M732.4,1615.5V1613M745.9,1176.1V1178.6M745.9,1615.5V1613M759.3,1176.1V1178.6M759.3,1615.5V1613M772.8,1176.1V1178.6M772.8,1615.5V1613M786.2,1176.1V1178.6M786.2,1615.5V1613M799.7,1176.1V1178.6M799.7,1615.5V1613M813.2,1176.1V1178.6M813.2,1615.5V1613M826.6,1176.1V1178.6M826.6,1615.5V1613M840.1,1176.1V1178.6M840.1,1615.5V1613M853.5,1176.1V1178.6M853.5,1615.5V1613M867,1184.9H864.5M867,1193.7H864.5M867,1202.5H864.5M867,1211.3H864.5M867,1220H864.5M867,1228.8H864.5M867,1237.6H864.5M867,1246.4H864.5M867,1255.2H864.5M867,1264H864.5M867,1272.8H864.5M867,1281.6H864.5M867,1290.3H864.5M867,1299.1H864.5M867,1307.9H864.5M867,1316.7H864.5M867,1325.5H864.5M867,1334.3H864.5M867,1343.1H864.5M867,1351.9H864.5M867,1360.6H864.5M867,1369.4H864.5M867,1378.2H864.5M867,1387H864.5M867,1395.8H864.5M867,1404.6H864.5M867,1413.4H864.5M867,1422.2H864.5M867,1431H864.5M867,1439.7H864.5M867,1448.5H864.5M867,1457.3H864.5M867,1466.1H864.5M867,1474.9H864.5M867,1483.7H864.5M867,1492.5H864.5M867,1501.3H864.5M867,1510H864.5M867,1518.8H864.5M867,1527.6H864.5M867,1536.4H864.5M867,1545.2H864.5M867,1554H864.5M867,1562.8H864.5M867,1571.6H864.5M867,1580.3H864.5M867,1589.1H864.5M867,1597.9H864.5M867,1606.7H864.5" stroke="#b9bdd0" stroke-width="1" fill="none"/>
<path d="M194,1176.1H867.4V1615.5" stroke="#b08a68" stroke-width="1.2" fill="none"/>
<line x1="194" y1="1193" x2="664" y2="1193" stroke="#ff80ff" stroke-width="1" stroke-dasharray="3.2,2.4"/>
<line x1="194" y1="1505.2" x2="867" y2="1505.2" stroke="#ff80ff" stroke-width="1" stroke-dasharray="3.2,2.4"/>
<rect x="195" y="1232.4" width="671.5" height="1.8" fill="#e4e4fa"/>
<rect x="195" y="1289.6" width="671.5" height="1.3" fill="#e8e8fb"/>
<rect x="195" y="1234.2" width="671.5" height="55.4" fill="#0606fe"/>
<path d="M196,1406.2 197,1406.1 198,1406.4 199,1406.6 200,1406.5 201,1406.1 202,1406.1 203,1406.6 204,1406.4 205,1406.1 206,1406.3 207,1406.3 208,1406.1 209,1406.3 210,1406.7 211,1406.2 212,1406.4 213,1406 214,1406.6 215,1406.3 216,1406.1 217,1406.7 218,1406.7 219,1406.7 220,1406.3 221,1406.2 222,1406 223,1406.4 224,1406.2 225,1406.1 226,1406.7 227,1406.1 228,1406.2 229,1406.6 230,1406.2 231,1406.6 232,1406.3 233,1406.2 234,1406.5 235,1406.5 236,1406 237,1406.3 238,1406.4 239,1406.5 240,1406.5 241,1406.1 242,1406.7 243,1406.7 244,1406.3 245,1406.4 246,1406.6 247,1406.4 248,1406.3 249,1406.3 250,1406.6 251,1406 252,1406.2 253,1406.5 254,1406.4 255,1406.2 256,1406 257,1406.5 258,1406.5 259,1406.2 260,1406.4 261,1406.3 262,1406.7 263,1406.6 264,1406.2 265,1406.2 266,1406.2 267,1406.6 268,1406.1 269,1406.3 270,1406.5 271,1406 272,1406.7 273,1406.2 274,1406.7 275,1406.8 276,1406.7 277,1406.5 278,1406.6 279,1406.3 280,1406.7 281,1406.6 282,1406.2 283,1406.6 284,1406.7 285,1406.4 286,1406.2 287,1406.2 288,1406.6 289,1406.2 290,1406.1 291,1406.8 292,1406.2 293,1406.4 294,1406.7 295,1406.5 296,1406.1 297,1406.2 298,1406.5 299,1406.2 300,1406.3 301,1406 302,1406 303,1406 304,1406.5 305,1406.2 306,1406.8 307,1406.7 308,1406.3 309,1406.3 310,1406.1 311,1406.4 312,1406.8 313,1406 314,1406.7 315,1406.4 316,1406.7 317,1406.5 318,1406.8 319,1406.3 320,1406.6 321,1406.5 322,1406.6 323,1406.2 324,1406.4 325,1406.2 326,1406.3 327,1406.8 328,1406.4 329,1406.4 330,1406.4 331,1406.3 332,1406.2 333,1406.2 334,1406.3 335,1406.1 336,1406.4 337,1406.3 338,1406.5 339,1406.4 340,1406.6 341,1406.2 342,1406.8 343,1406.2 344,1406 345,1406.3 346,1406.6 347,1406.3 348,1406.2 349,1406.2 350,1406.7 351,1406.2 352,1406.5 353,1406.1 353.8,1466.5 352.8,1466.3 351.8,1467 350.8,1466.5 349.8,1466.8 348.8,1466.8 347.8,1466.6 346.8,1466.7 345.8,1466.7 344.8,1466.8 343.8,1466.7 342.8,1466.8 341.8,1466.5 340.8,1467.1 339.8,1466.7 338.8,1466.4 337.8,1466.6 336.8,1466.5 335.8,1466.8 334.8,1466.8 333.8,1466.5 332.8,1466.3 331.8,1466.8 330.8,1466.8 329.8,1466.3 328.8,1466.7 327.8,1466.9 326.8,1466.5 325.8,1466.8 324.8,1466.6 323.8,1466.5 322.8,1466.9 321.8,1467 320.8,1466.3 319.8,1467 318.8,1466.4 317.8,1466.6 316.8,1466.3 315.8,1466.7 314.8,1466.3 313.8,1467 312.8,1467 311.8,1466.8 310.8,1466.5 309.8,1466.6 308.8,1466.4 307.8,1466.8 306.8,1466.7 305.8,1466.4 304.8,1466.5 303.8,1466.9 302.8,1466.6 301.8,1466.6 300.8,1467.1 299.8,1467.1 298.8,1466.7 297.8,1467 296.8,1467 295.8,1466.5 294.8,1466.9 293.8,1466.5 292.8,1466.4 291.8,1467.1 290.8,1466.7 289.8,1466.8 288.8,1466.7 287.8,1466.5 286.8,1466.6 285.8,1466.5 284.8,1467 283.8,1467 282.8,1466.5 281.8,1467 280.8,1466.5 279.8,1466.8 278.8,1466.5 277.8,1466.8 276.8,1466.8 275.8,1466.6 274.8,1466.9 273.8,1466.6 272.8,1467 271.8,1466.9 270.8,1466.3 269.8,1466.7 268.8,1466.9 267.8,1466.8 266.8,1466.9 265.8,1466.6 264.8,1466.9 263.8,1466.5 262.8,1466.4 261.8,1466.8 260.8,1466.8 259.8,1466.9 258.8,1466.8 257.8,1466.5 256.8,1466.9 255.8,1467.1 254.8,1466.7 253.8,1466.9 252.8,1467.1 251.8,1466.6 250.8,1466.3 249.8,1466.6 248.8,1466.3 247.8,1467 246.8,1466.9 245.8,1466.8 244.8,1466.5 243.8,1466.8 242.8,1466.7 241.8,1467 240.8,1466.6 239.8,1466.4 238.8,1467 237.8,1466.9 236.8,1466.7 235.8,1466.9 234.8,1466.6 233.8,1466.5 232.8,1466.9 231.8,1466.4 230.8,1466.7 229.8,1466.6 228.8,1467.1 227.8,1466.7 226.8,1466.5 225.8,1466.7 224.8,1466.4 223.8,1466.4 222.8,1466.6 221.8,1466.9 220.8,1466.6 219.8,1466.5 218.8,1466.9 217.8,1467.1 216.8,1466.6 215.8,1466.8 214.8,1466.6 213.8,1466.7 212.8,1466.8 211.8,1466.7 210.8,1466.4 209.8,1466.9 208.8,1466.7 207.8,1466.6 206.8,1466.5 205.8,1466.8 204.8,1466.6 203.8,1466.6 202.8,1466.9 201.8,1466.5 200.8,1466.7 199.8,1466.9 198.8,1467.1 197.8,1467 196.8,1466.4Z" fill="#0aff0a"/>
<path d="M353.3,1415.9 354.3,1415.9 355.3,1415.8 356.3,1416.5 357.3,1416.2 358.3,1416.4 359.3,1416.4 360.3,1416.2 361.3,1416 362.3,1416 363.3,1416.5 364.3,1416.2 365.3,1416.3 366.3,1416.6 367.3,1416.5 368.3,1416.5 369.3,1415.8 370.3,1416.4 371.3,1416.6 372.3,1416.5 373.3,1416.1 374.3,1415.8 375.3,1415.9 376.3,1416.2 377.3,1416.3 378.3,1416 379.3,1416.4 380.3,1415.8 381.3,1416.6 382.3,1416 383.3,1416.5 384.3,1416.1 385.3,1415.8 386.3,1416.1 387.3,1415.9 388.3,1416.5 389.3,1415.8 390.3,1415.9 391.3,1416.3 392.3,1416 393.3,1416.1 394.3,1415.9 395.3,1415.8 396.3,1416 397.3,1416 398.3,1416 399.3,1416.4 400.3,1416.6 401.3,1416.2 402.3,1416 403.3,1416.6 404.3,1416.4 405.3,1416.3 406.3,1416.4 407.3,1416 408.3,1415.8 409.3,1416.5 410.3,1416.1 411.3,1415.8 412.3,1416 413.3,1416.1 414.3,1416.3 415.3,1416.2 416.3,1416.4 417.3,1416.3 418.3,1416.1 419.3,1415.8 420.3,1415.9 421.3,1416 422.3,1416.6 423.3,1416.4 424.3,1416.3 425.3,1415.9 426.3,1416 427.3,1416.1 428.3,1416 429.3,1416.5 430.3,1416.1 431.3,1416.4 432.3,1416.4 433.3,1416.4 434.3,1416.5 435.3,1415.8 436.3,1416.5 437.3,1416 438.3,1416.3 439.3,1416.4 440.3,1415.9 441.3,1416.4 442.3,1416.1 443.3,1416.1 444.3,1416.2 445.3,1415.9 446.3,1416.2 447.3,1416.6 448.3,1416.3 449.3,1416 450.3,1416.2 451.3,1416.6 452.3,1416.5 453.3,1415.9 454.3,1416 455.3,1415.9 456.3,1416.2 457.3,1415.9 458.3,1416.4 459.3,1416.6 460.3,1416.5 461.3,1416.4 462.3,1416.5 463.3,1416.2 464.3,1416 465.3,1416.5 466.3,1416.2 467.3,1416.4 468.3,1416 469.3,1415.9 470.3,1416.4 471.3,1416.3 472.3,1416.1 473.3,1415.8 474.3,1415.9 475.3,1416 476.3,1415.9 477.3,1416.1 478.3,1415.9 479.3,1416.1 480.3,1415.9 481.3,1416.2 482.3,1416.2 483.3,1416.3 484.3,1416.3 485.3,1415.9 486.3,1416.2 487.3,1416 488.3,1416.5 489.3,1416.3 490.3,1416.2 491.3,1416.1 492.3,1416.3 493.3,1416.4 494.3,1416.2 495.3,1416.2 496.3,1416.4 497.3,1415.8 498.3,1416.5 499.3,1416.3 500.3,1416.3 501.3,1416.6 502.3,1416.4 503.3,1416 504.3,1416.3 505.3,1416.4 506.3,1415.9 507.3,1415.9 508.3,1416 509.3,1416.3 510.3,1416.3 511.3,1416.5 512.3,1416.5 513.3,1416.3 514.3,1416.4 515.3,1415.8 516.3,1416.4 517.3,1416.1 518.3,1416.2 519.3,1416.4 520.3,1416 521.3,1416.4 522.3,1416.5 523.3,1416 524.3,1415.9 525.3,1415.8 526.3,1416.1 527.3,1416 528.3,1416.5 529.3,1416.5 530.3,1416.5 531.3,1416.3 532.3,1416.4 533.3,1416.6 534.3,1416.5 535.3,1416.2 536.3,1416 537.3,1416.3 538.3,1416 539.3,1416.3 540.3,1416 541.3,1416.5 542.3,1416.4 543.3,1416.3 544.3,1416 545.3,1416.6 546.3,1415.8 547.3,1416 548.3,1415.9 549.3,1416 550.3,1416.6 551.3,1416.3 552.3,1416.4 553.3,1416.3 554.3,1416.6 555.3,1416.3 556.3,1416.6 557.3,1416.5 558.3,1415.8 559.3,1416.1 560.3,1416.5 561.3,1416.1 562.3,1416.3 563.3,1416 564.3,1415.9 565.3,1416 566.3,1416 567.3,1416.4 568.3,1416.3 569.3,1416.5 570.3,1416.2 571.3,1415.9 572.3,1416.6 573.3,1416 574.3,1415.8 575.3,1416.4 576.3,1415.8 577.3,1416.4 578.3,1416 579.3,1416.3 580.3,1416.6 581.3,1415.9 582.3,1416.3 583.3,1415.8 584.3,1416.4 585.3,1416 586.3,1416.3 587.3,1416.4 588.3,1416.4 589.3,1416.6 590.3,1416.1 591.3,1416.1 592.3,1416.1 593.3,1416 594.3,1416 595.3,1416.4 596.3,1415.9 597.3,1416 598.3,1416.3 599.3,1416.4 600.3,1416.2 601.3,1416.1 602.3,1416 603.3,1416 604.3,1416.3 605.3,1416.3 606.3,1415.8 607.3,1416.3 608.3,1416.3 609.3,1416.3 610.3,1416.5 611.3,1416.2 612.3,1416 613.3,1415.9 614.3,1416 615.3,1416.5 616.3,1416.5 617.3,1416 618.3,1416 619.3,1416 620.3,1415.8 621.3,1416.4 622.3,1416.5 623.3,1415.8 624.3,1416.1 625.3,1416.4 626.3,1416.1 627.3,1415.9 628.3,1416.5 629.3,1416 630.3,1416 631.3,1416.2 632.3,1415.9 633.3,1416.4 634.3,1416.2 635.3,1416.3 636.3,1416.5 637.3,1416.6 638.3,1416.2 639.3,1416.5 640.3,1416.2 641.3,1416.5 642.3,1415.9 643.3,1416 644.3,1416.6 645.3,1416.4 646.3,1416.2 647.3,1416.5 648.3,1416.1 649.3,1416.5 650.3,1416.2 651.3,1416.5 652.3,1416 653.3,1416 654.3,1416.4 655.3,1416.3 656.3,1415.9 657.3,1416.4 658.3,1416.3 659.3,1416.2 660.3,1416.4 661.3,1416.3 662.3,1415.8 663.3,1415.8 664.3,1416.1 665.3,1416.4 666.3,1416.5 667.3,1416 668.3,1416.1 669.3,1416.6 670.3,1416.2 671.3,1416.5 672.3,1416.4 673.3,1416 674.3,1416.2 675.3,1416.3 676.3,1416 677.3,1416.2 678.3,1416.2 679.3,1415.9 680.3,1416.4 681.3,1416.4 682.3,1416.2 683.3,1416.5 684.3,1416.2 685.3,1416.1 686.3,1416.1 687.3,1415.9 688.3,1416 689.3,1416 690.3,1416.3 691.3,1416.5 692.3,1416.5 693.3,1416.4 694.3,1416 695.3,1416.3 696.3,1416.2 697.3,1416.6 698.3,1416.6 699.3,1416 700.3,1416.5 701.3,1416.1 702.3,1416.6 703.3,1415.9 704.3,1416 705.3,1416.1 706.3,1415.8 707.3,1416.2 708.3,1416.2 709.3,1416.3 710.3,1416.5 711.3,1415.8 712.3,1416.3 713.3,1416.1 714.3,1416.4 715.3,1416.2 716.3,1416.2 717.3,1416.4 718.3,1415.9 719.3,1416.1 720.3,1416.1 721.3,1416.2 722.3,1416.2 723.3,1415.8 724.3,1416.1 725.3,1415.8 726.3,1416.5 727.3,1416.6 728.3,1416.6 729.3,1416.1 730.3,1415.9 731.3,1416.3 732.3,1415.9 733.3,1416.5 734.3,1416.6 735.3,1416 736.3,1416.4 737.3,1416 738.3,1415.9 739.3,1416 740.3,1416 741.3,1416 742.3,1416.1 743.3,1415.8 744.3,1415.8 745.3,1415.8 746.3,1416.5 747.3,1416 748.3,1416.1 749.3,1415.8 750.3,1415.9 751.3,1416.1 752.3,1416.3 753.3,1416.2 754.3,1416.2 755.3,1416.4 756.3,1416 757.3,1416.4 758.3,1416 759.3,1415.9 760.3,1416.2 761.3,1416.5 762.3,1416 763.3,1416 764.3,1416.5 765.3,1416.1 766.3,1416.5 767.3,1416.4 768.3,1415.8 769.3,1416.5 770.3,1416.5 771.3,1416 772.3,1416 773.3,1416 774.3,1416.6 775.3,1416.2 776.3,1416.4 777.3,1416.1 778.3,1416.2 779.3,1416.3 780.3,1416 781.3,1416.5 782.3,1416.4 783.3,1416.2 784.3,1416.4 785.3,1416.2 786.3,1416.5 787.3,1416.1 788.3,1416.2 789.3,1416 790.3,1416 791.3,1416.4 792.3,1415.9 793.3,1416.3 794.3,1416.1 795.3,1416.3 796.3,1416.1 797.3,1416.1 798.3,1416.5 799.3,1416.4 800.3,1416 801.3,1416.3 802.3,1416.5 803.3,1416 804.3,1416 805.3,1416.4 806.3,1416.3 807.3,1416.1 808.3,1416 809.3,1416.2 810.3,1416 811.3,1416.3 812.3,1416.1 813.3,1416.4 814.3,1416.3 815.3,1416.3 816.3,1415.8 817.3,1415.9 818.3,1416.3 819.3,1416 820.3,1416.5 821.3,1416.1 822.3,1416.5 823.3,1416.5 824.3,1416.6 825.3,1416.3 826.3,1415.9 827.3,1416.6 828.3,1416 829.3,1416.6 830.3,1416.1 831.3,1415.9 832.3,1415.9 833.3,1416 834.3,1416.2 835.3,1416.2 836.3,1416.1 837.3,1416.2 838.3,1416.6 839.3,1415.9 840.3,1416.5 841.3,1415.9 842.3,1415.9 843.3,1416.4 844.3,1415.8 845.3,1416.4 846.3,1415.9 847.3,1416.4 848.3,1415.9 849.3,1415.9 850.3,1415.9 851.3,1416.2 852.3,1416.5 853.3,1416.1 854.3,1416.2 855.3,1416.1 856.3,1416.3 857.3,1416.3 858.3,1416.3 859.3,1415.9 860.3,1416.1 861.3,1416.3 862.3,1415.9 863.3,1416.2 864.3,1416.2 865.3,1415.8 866,1457.2 865,1457.5 864,1457.4 863,1457.6 862,1457.8 861,1457.1 860,1457.5 859,1457.1 858,1457.1 857,1457.1 856,1457.3 855,1457.8 854,1457.5 853,1457.3 852,1457 851,1457.6 850,1457.5 849,1457.3 848,1457.2 847,1457.5 846,1457.4 845,1457.2 844,1457.3 843,1457.7 842,1457.4 841,1457.8 840,1457.4 839,1457.4 838,1457 837,1457.4 836,1457.2 835,1457.3 834,1457.1 833,1457.2 832,1457.6 831,1457.4 830,1457.7 829,1457.7 828,1457.2 827,1457.6 826,1457.7 825,1457.7 824,1457.4 823,1457.1 822,1457 821,1457.8 820,1457.3 819,1457.7 818,1457.7 817,1457.4 816,1457.5 815,1457.5 814,1457.2 813,1457 812,1457.5 811,1457.7 810,1457.8 809,1457.5 808,1457.5 807,1457.7 806,1457.7 805,1457.5 804,1457.5 803,1457.8 802,1457.3 801,1457.1 800,1457.5 799,1457.4 798,1457.8 797,1457.5 796,1457.1 795,1457.5 794,1457.2 793,1457.3 792,1457.2 791,1457.3 790,1457.1 789,1457.4 788,1457.3 787,1457.1 786,1457.3 785,1457.2 784,1457.6 783,1457 782,1457.7 781,1457.2 780,1457.2 779,1457.7 778,1457.3 777,1457.7 776,1457.5 775,1457.8 774,1457.3 773,1457.2 772,1457.4 771,1457.4 770,1457.5 769,1457.2 768,1457.4 767,1457.1 766,1457.4 765,1457.1 764,1457.4 763,1457.3 762,1457.8 761,1457.3 760,1457.4 759,1457.1 758,1457.5 757,1457.6 756,1457.1 755,1457.4 754,1457.4 753,1457.3 752,1457.3 751,1457.2 750,1457.4 749,1457.6 748,1457.8 747,1457.6 746,1457.2 745,1457.3 744,1457.1 743,1457.6 742,1457.1 741,1457.5 740,1457.7 739,1457.5 738,1457.4 737,1457.3 736,1457.5 735,1457.6 734,1457.4 733,1457.5 732,1457.2 731,1457.4 730,1457.8 729,1457.7 728,1457.2 727,1457.3 726,1457.5 725,1457.2 724,1457.4 723,1457.3 722,1457.4 721,1457.5 720,1457.7 719,1457.2 718,1457.8 717,1457.7 716,1457.1 715,1457 714,1457.6 713,1457.7 712,1457.4 711,1457.1 710,1457.4 709,1457.2 708,1457.1 707,1457.5 706,1457.4 705,1457.7 704,1457.7 703,1457.8 702,1457.5 701,1457.8 700,1457 699,1457.1 698,1457.7 697,1457.3 696,1457 695,1457.3 694,1457.7 693,1457.8 692,1457.5 691,1457.4 690,1457.4 689,1457.4 688,1457 687,1457.1 686,1457 685,1457.8 684,1457.7 683,1457.7 682,1457.7 681,1457.2 680,1457.2 679,1457.6 678,1457.8 677,1457.3 676,1457.5 675,1457.7 674,1457.8 673,1457.4 672,1457.3 671,1457 670,1457.1 669,1457.7 668,1457.1 667,1457.4 666,1457.2 665,1457.3 664,1457.1 663,1457.5 662,1457.5 661,1457.7 660,1457.4 659,1457.4 658,1457.3 657,1457.6 656,1457.5 655,1457.3 654,1457.4 653,1457.3 652,1457.5 651,1457.2 650,1457.4 649,1457.5 648,1457 647,1457.4 646,1457.7 645,1457.5 644,1457.6 643,1457.7 642,1457.4 641,1457.4 640,1457.1 639,1457.5 638,1457.2 637,1457.4 636,1457.3 635,1457.2 634,1457.8 633,1457.3 632,1457.8 631,1457.1 630,1457.4 629,1457.4 628,1457 627,1457.2 626,1457.2 625,1457.3 624,1457.6 623,1457.5 622,1457.2 621,1457.1 620,1457.3 619,1457 618,1457.4 617,1457.6 616,1457.6 615,1457.7 614,1457.1 613,1457.2 612,1457.3 611,1457.3 610,1457.6 609,1457.1 608,1457.3 607,1457.1 606,1457.8 605,1457.6 604,1457.2 603,1457.3 602,1457.6 601,1457.3 600,1457 599,1457.5 598,1457.2 597,1457.7 596,1457 595,1457.2 594,1457.5 593,1457.7 592,1457.2 591,1457.4 590,1457 589,1457.1 588,1457.1 587,1457.4 586,1457.7 585,1457.6 584,1457.5 583,1457.4 582,1457.3 581,1457.7 580,1457.6 579,1457.2 578,1457.2 577,1457.6 576,1457.7 575,1457.2 574,1457.4 573,1457.7 572,1457.4 571,1457.6 570,1457.4 569,1457.6 568,1457.8 567,1457.6 566,1457.3 565,1457.5 564,1457.1 563,1457.8 562,1457.4 561,1457.3 560,1457.2 559,1457.7 558,1457.4 557,1457 556,1457.5 555,1457.1 554,1457 553,1457.2 552,1457.5 551,1457.4 550,1457.1 549,1457.1 548,1457.8 547,1457.3 546,1457.1 545,1457.6 544,1457.3 543,1457.6 542,1457.7 541,1457.7 540,1457.4 539,1457.8 538,1457.1 537,1457.3 536,1457.4 535,1457 534,1457.4 533,1457.4 532,1457.7 531,1457.6 530,1457 529,1457.7 528,1457.7 527,1457.7 526,1457.5 525,1457.5 524,1457.2 523,1457.5 522,1457.2 521,1457.6 520,1457.2 519,1457.4 518,1457.7 517,1457.6 516,1457.7 515,1457.1 514,1457.1 513,1457.6 512,1457.6 511,1457.8 510,1457.2 509,1457.2 508,1457.7 507,1457.3 506,1457.3 505,1457.4 504,1457.7 503,1457.6 502,1457.2 501,1457.6 500,1457.7 499,1457.2 498,1457.2 497,1457.6 496,1457.6 495,1457 494,1457.7 493,1457.7 492,1457.8 491,1457.3 490,1457.6 489,1457.5 488,1457 487,1457.3 486,1457.5 485,1457.2 484,1457.1 483,1457.7 482,1457.8 481,1457.6 480,1457.4 479,1457.8 478,1457.3 477,1457.4 476,1457.6 475,1457.5 474,1457.4 473,1457.4 472,1457.5 471,1457.1 470,1457.7 469,1457 468,1457.3 467,1457.3 466,1457.1 465,1457.4 464,1457.6 463,1457.1 462,1457.4 461,1457.5 460,1457.3 459,1457.5 458,1457.1 457,1457.7 456,1457.7 455,1457.5 454,1457.2 453,1457.2 452,1457.4 451,1457.1 450,1457.6 449,1457.1 448,1457.8 447,1457.6 446,1457.7 445,1457.1 444,1457.6 443,1457.8 442,1457.4 441,1457.4 440,1457.1 439,1457.4 438,1457.4 437,1457.3 436,1457.6 435,1457.2 434,1457.5 433,1457.5 432,1457.1 431,1457.1 430,1457.5 429,1457.1 428,1457.1 427,1457 426,1457.6 425,1457 424,1457 423,1457.3 422,1457.7 421,1457.5 420,1457.5 419,1457.2 418,1457.2 417,1457.5 416,1457.4 415,1457.5 414,1457.5 413,1457.7 412,1457.4 411,1457.7 410,1457.2 409,1457.5 408,1457.1 407,1457.4 406,1457.1 405,1457.7 404,1457.5 403,1457.6 402,1457.2 401,1457.6 400,1457.2 399,1457.5 398,1457.5 397,1457.6 396,1457.1 395,1457.5 394,1457.4 393,1457.2 392,1457.5 391,1457.4 390,1457.4 389,1457 388,1457 387,1457.2 386,1457.1 385,1457.2 384,1457.1 383,1457.6 382,1457.7 381,1457.5 380,1457.7 379,1457.1 378,1457.6 377,1457.1 376,1457.5 375,1457.5 374,1457.5 373,1457.3 372,1457.5 371,1457.5 370,1457.4 369,1457.7 368,1457.2 367,1457.2 366,1457.6 365,1457.7 364,1457.7 363,1457.3 362,1457.7 361,1457.4 360,1457.8 359,1457.2 358,1457.7 357,1457.4 356,1457.7 355,1457.1 354,1457.7Z" fill="#0aff0a"/>
<path d="M196.5,1406.4v-1.4M196.5,1466.7v1.9M197.5,1406.4v-0.8M197.5,1466.7v0.9M198.5,1406.4v-2M198.5,1466.7v2.7M199.5,1406.4v-0.7M199.5,1466.7v1.9M200.5,1406.4v-1.6M200.5,1466.7v0.5M201.5,1406.4v-0.8M201.5,1466.7v1.1M202.5,1406.4v-2M202.5,1466.7v0.7M203.5,1406.4v-1.3M203.5,1466.7v1.8M204.5,1406.4v-2.1M204.5,1466.7v2.7M205.5,1406.4v-2.3M205.5,1466.7v0.8M206.5,1406.4v-1.7M206.5,1466.7v1.8M207.5,1406.4v-1.7M207.5,1466.7v1.8M208.5,1406.4v-1.3M208.5,1466.7v0.9M209.5,1406.4v-1.9M209.5,1466.7v2.4M210.5,1406.4v-2M210.5,1466.7v1.9M211.5,1406.4v-2.6M211.5,1466.7v1M212.5,1406.4v-1.7M212.5,1466.7v2.3M213.5,1406.4v-1.9M213.5,1466.7v0.4M214.5,1406.4v-1.6M214.5,1466.7v2.3M215.5,1406.4v-0.9M215.5,1466.7v1.3M216.5,1406.4v-2.7M216.5,1466.7v1.4M217.5,1406.4v-1.6M217.5,1466.7v1.8M218.5,1406.4v-2.4M218.5,1466.7v1.4M219.5,1406.4v-2.5M219.5,1466.7v2M220.5,1406.4v-1.3M220.5,1466.7v1.8M221.5,1406.4v-1.1M221.5,1466.7v0.5M222.5,1406.4v-1.5M222.5,1466.7v0.5M223.5,1406.4v-1.1M223.5,1466.7v2.3M224.5,1406.4v-2.6M224.5,1466.7v0.9M225.5,1406.4v-0.8M225.5,1466.7v1.2M226.5,1406.4v-1.4M226.5,1466.7v0.7M227.5,1406.4v-2.3M227.5,1466.7v0.8M228.5,1406.4v-1.6M228.5,1466.7v1M229.5,1406.4v-1.9M229.5,1466.7v0.7M230.5,1406.4v-1.5M230.5,1466.7v2.4M231.5,1406.4v-0.4M231.5,1466.7v0.8M232.5,1406.4v-0.6M232.5,1466.7v2.3M233.5,1406.4v-1.9M233.5,1466.7v1M234.5,1406.4v-2.5M234.5,1466.7v0.8M235.5,1406.4v-1.5M235.5,1466.7v2.1M236.5,1406.4v-1.8M236.5,1466.7v0.6M237.5,1406.4v-0.5M237.5,1466.7v0.8M238.5,1406.4v-2.6M238.5,1466.7v2.5M239.5,1406.4v-1.1M239.5,1466.7v0.5M240.5,1406.4v-1.9M240.5,1466.7v0.9M241.5,1406.4v-2.5M241.5,1466.7v2.5M242.5,1406.4v-2.2M242.5,1466.7v2.2M243.5,1406.4v-2.2M243.5,1466.7v2.3M244.5,1406.4v-1.3M244.5,1466.7v2.1M245.5,1406.4v-0.4M245.5,1466.7v2M246.5,1406.4v-1.4M246.5,1466.7v2.7M247.5,1406.4v-2.2M247.5,1466.7v1.4M248.5,1406.4v-2M248.5,1466.7v1.7M249.5,1406.4v-1.8M249.5,1466.7v0.4M250.5,1406.4v-0.9M250.5,1466.7v1M251.5,1406.4v-2M251.5,1466.7v2.5M252.5,1406.4v-1.8M252.5,1466.7v2.1M253.5,1406.4v-1.9M253.5,1466.7v0.7M254.5,1406.4v-1M254.5,1466.7v1.7M255.5,1406.4v-2.1M255.5,1466.7v1.4M256.5,1406.4v-2M256.5,1466.7v1.2M257.5,1406.4v-1.1M257.5,1466.7v0.8M258.5,1406.4v-1.4M258.5,1466.7v1.7M259.5,1406.4v-0.7M259.5,1466.7v2.5M260.5,1406.4v-0.4M260.5,1466.7v2.1M261.5,1406.4v-1.2M261.5,1466.7v2.6M262.5,1406.4v-1.1M262.5,1466.7v0.5M263.5,1406.4v-2M263.5,1466.7v1.3M264.5,1406.4v-2.3M264.5,1466.7v1.9M265.5,1406.4v-1.4M265.5,1466.7v1.9M266.5,1406.4v-2M266.5,1466.7v1.2M267.5,1406.4v-0.8M267.5,1466.7v1.9M268.5,1406.4v-1.7M268.5,1466.7v0.5M269.5,1406.4v-0.8M269.5,1466.7v1.4M270.5,1406.4v-0.6M270.5,1466.7v1.6M271.5,1406.4v-1.3M271.5,1466.7v1.1M272.5,1406.4v-2.1M272.5,1466.7v2.1M273.5,1406.4v-0.6M273.5,1466.7v1.8M274.5,1406.4v-2.7M274.5,1466.7v1.8M275.5,1406.4v-2.7M275.5,1466.7v0.9M276.5,1406.4v-0.9M276.5,1466.7v1.2M277.5,1406.4v-0.9M277.5,1466.7v0.8M278.5,1406.4v-1M278.5,1466.7v1.6M279.5,1406.4v-2.3M279.5,1466.7v2.2M280.5,1406.4v-0.5M280.5,1466.7v2.2M281.5,1406.4v-1.9M281.5,1466.7v1M282.5,1406.4v-0.4M282.5,1466.7v2.4M283.5,1406.4v-0.7M283.5,1466.7v1M284.5,1406.4v-1.1M284.5,1466.7v2.2M285.5,1406.4v-2.6M285.5,1466.7v2.5M286.5,1406.4v-2.4M286.5,1466.7v2.3M287.5,1406.4v-1.5M287.5,1466.7v0.5M288.5,1406.4v-0.9M288.5,1466.7v0.7M289.5,1406.4v-0.7M289.5,1466.7v0.7M290.5,1406.4v-1.1M290.5,1466.7v0.5M291.5,1406.4v-1.1M291.5,1466.7v2.4M292.5,1406.4v-1M292.5,1466.7v1.6M293.5,1406.4v-2.4M293.5,1466.7v0.4M294.5,1406.4v-2.1M294.5,1466.7v1.6M295.5,1406.4v-0.5M295.5,1466.7v2.4M296.5,1406.4v-2.2M296.5,1466.7v0.6M297.5,1406.4v-2.6M297.5,1466.7v1.7M298.5,1406.4v-1.9M298.5,1466.7v0.9M299.5,1406.4v-0.5M299.5,1466.7v2M300.5,1406.4v-2M300.5,1466.7v0.8M301.5,1406.4v-0.5M301.5,1466.7v1.7M302.5,1406.4v-1.1M302.5,1466.7v1.2M303.5,1406.4v-2.4M303.5,1466.7v1.7M304.5,1406.4v-0.7M304.5,1466.7v2M305.5,1406.4v-2.1M305.5,1466.7v1.7M306.5,1406.4v-2.6M306.5,1466.7v1.5M307.5,1406.4v-1.9M307.5,1466.7v0.5M308.5,1406.4v-1.1M308.5,1466.7v1.1M309.5,1406.4v-1.4M309.5,1466.7v1.6M310.5,1406.4v-0.7M310.5,1466.7v2M311.5,1406.4v-0.5M311.5,1466.7v1M312.5,1406.4v-1.7M312.5,1466.7v0.5M313.5,1406.4v-1.2M313.5,1466.7v2.3M314.5,1406.4v-2.1M314.5,1466.7v1.3M315.5,1406.4v-0.8M315.5,1466.7v2.1M316.5,1406.4v-2.4M316.5,1466.7v0.6M317.5,1406.4v-1.4M317.5,1466.7v1.7M318.5,1406.4v-2M318.5,1466.7v0.9M319.5,1406.4v-2.3M319.5,1466.7v1.8M320.5,1406.4v-2.2M320.5,1466.7v2.6M321.5,1406.4v-2M321.5,1466.7v1.9M322.5,1406.4v-1.1M322.5,1466.7v1M323.5,1406.4v-1.3M323.5,1466.7v2.3M324.5,1406.4v-1.8M324.5,1466.7v1M325.5,1406.4v-2.5M325.5,1466.7v1.6M326.5,1406.4v-2.7M326.5,1466.7v1.9M327.5,1406.4v-2.1M327.5,1466.7v1.2M328.5,1406.4v-2.7M328.5,1466.7v1.5M329.5,1406.4v-1.9M329.5,1466.7v1.3M330.5,1406.4v-1.6M330.5,1466.7v0.8M331.5,1406.4v-1.2M331.5,1466.7v1.4M332.5,1406.4v-2.1M332.5,1466.7v0.8M333.5,1406.4v-0.9M333.5,1466.7v1.9M334.5,1406.4v-1.5M334.5,1466.7v2.4M335.5,1406.4v-0.4M335.5,1466.7v1.4M336.5,1406.4v-2.3M336.5,1466.7v2.1M337.5,1406.4v-1.2M337.5,1466.7v1.6M338.5,1406.4v-1.3M338.5,1466.7v0.4M339.5,1406.4v-0.6M339.5,1466.7v0.9M340.5,1406.4v-2.4M340.5,1466.7v0.8M341.5,1406.4v-1.1M341.5,1466.7v1.7M342.5,1406.4v-2M342.5,1466.7v1.9M343.5,1406.4v-1.1M343.5,1466.7v1.2M344.5,1406.4v-0.4M344.5,1466.7v2.2M345.5,1406.4v-1.3M345.5,1466.7v1.1M346.5,1406.4v-0.9M346.5,1466.7v1.5M347.5,1406.4v-0.7M347.5,1466.7v1.1M348.5,1406.4v-0.6M348.5,1466.7v0.8M349.5,1406.4v-1.6M349.5,1466.7v1.2M350.5,1406.4v-0.6M350.5,1466.7v2.4M351.5,1406.4v-0.5M351.5,1466.7v1.3M352.5,1406.4v-1.1M352.5,1466.7v0.5M353.5,1406.4v-1.1M353.5,1466.7v1.4M353.8,1416.2v-2M353.8,1457.4v1M354.8,1416.2v-1.3M354.8,1457.4v2.5M355.8,1416.2v-1.9M355.8,1457.4v1.4M356.8,1416.2v-0.9M356.8,1457.4v2.2M357.8,1416.2v-2.5M357.8,1457.4v1M358.8,1416.2v-2.4M358.8,1457.4v1.3M359.8,1416.2v-1.5M359.8,1457.4v0.5M360.8,1416.2v-1M360.8,1457.4v1M361.8,1416.2v-0.9M361.8,1457.4v2.3M362.8,1416.2v-2.6M362.8,1457.4v1.1M363.8,1416.2v-2.2M363.8,1457.4v1.1M364.8,1416.2v-1.7M364.8,1457.4v0.8M365.8,1416.2v-2.5M365.8,1457.4v1.6M366.8,1416.2v-1.8M366.8,1457.4v2.2M367.8,1416.2v-1.6M367.8,1457.4v1.5M368.8,1416.2v-2M368.8,1457.4v1.5M369.8,1416.2v-1.7M369.8,1457.4v1.1M370.8,1416.2v-0.8M370.8,1457.4v0.9M371.8,1416.2v-2.6M371.8,1457.4v1.8M372.8,1416.2v-0.4M372.8,1457.4v0.8M373.8,1416.2v-1.7M373.8,1457.4v1.6M374.8,1416.2v-2.7M374.8,1457.4v2.5M375.8,1416.2v-0.6M375.8,1457.4v2.3M376.8,1416.2v-2.7M376.8,1457.4v2.1M377.8,1416.2v-2.6M377.8,1457.4v1.3M378.8,1416.2v-1.8M378.8,1457.4v2M379.8,1416.2v-2.2M379.8,1457.4v2M380.8,1416.2v-2.3M380.8,1457.4v1.2M381.8,1416.2v-2.2M381.8,1457.4v1.8M382.8,1416.2v-2.6M382.8,1457.4v1.1M383.8,1416.2v-1.8M383.8,1457.4v2.4M384.8,1416.2v-2.1M384.8,1457.4v2M385.8,1416.2v-0.7M385.8,1457.4v0.8M386.8,1416.2v-1.1M386.8,1457.4v1.9M387.8,1416.2v-0.5M387.8,1457.4v1.9M388.8,1416.2v-0.7M388.8,1457.4v0.8M389.8,1416.2v-1M389.8,1457.4v1.7M390.8,1416.2v-2.1M390.8,1457.4v2.6M391.8,1416.2v-0.9M391.8,1457.4v0.6M392.8,1416.2v-2.4M392.8,1457.4v1.8M393.8,1416.2v-2.5M393.8,1457.4v2M394.8,1416.2v-0.7M394.8,1457.4v1.2M395.8,1416.2v-0.9M395.8,1457.4v1.4M396.8,1416.2v-1.1M396.8,1457.4v2.4M397.8,1416.2v-2.5M397.8,1457.4v0.8M398.8,1416.2v-2.7M398.8,1457.4v2.6M399.8,1416.2v-1.3M399.8,1457.4v2.4M400.8,1416.2v-2.6M400.8,1457.4v2.1M401.8,1416.2v-1.2M401.8,1457.4v1.8M402.8,1416.2v-2.2M402.8,1457.4v1.2M403.8,1416.2v-1.5M403.8,1457.4v0.6M404.8,1416.2v-0.8M404.8,1457.4v2.2M405.8,1416.2v-1.1M405.8,1457.4v2M406.8,1416.2v-1.4M406.8,1457.4v2M407.8,1416.2v-1.1M407.8,1457.4v0.6M408.8,1416.2v-1.9M408.8,1457.4v1M409.8,1416.2v-0.9M409.8,1457.4v1.5M410.8,1416.2v-1.5M410.8,1457.4v2.4M411.8,1416.2v-2M411.8,1457.4v1.4M412.8,1416.2v-1.4M412.8,1457.4v1.8M413.8,1416.2v-0.7M413.8,1457.4v1.1M414.8,1416.2v-1.8M414.8,1457.4v2.6M415.8,1416.2v-1.8M415.8,1457.4v0.9M416.8,1416.2v-2.6M416.8,1457.4v2.2M417.8,1416.2v-0.9M417.8,1457.4v1.2M418.8,1416.2v-0.5M418.8,1457.4v2.2M419.8,1416.2v-0.9M419.8,1457.4v2.3M420.8,1416.2v-2.1M420.8,1457.4v2.2M421.8,1416.2v-1.7M421.8,1457.4v1M422.8,1416.2v-0.5M422.8,1457.4v1.8M423.8,1416.2v-0.4M423.8,1457.4v1.6M424.8,1416.2v-2.2M424.8,1457.4v0.7M425.8,1416.2v-1.4M425.8,1457.4v1.6M426.8,1416.2v-0.7M426.8,1457.4v0.9M427.8,1416.2v-1.8M427.8,1457.4v0.8M428.8,1416.2v-0.8M428.8,1457.4v0.9M429.8,1416.2v-2.6M429.8,1457.4v2.5M430.8,1416.2v-0.7M430.8,1457.4v1.7M431.8,1416.2v-1.3M431.8,1457.4v0.5M432.8,1416.2v-1M432.8,1457.4v1.9M433.8,1416.2v-0.4M433.8,1457.4v2.6M434.8,1416.2v-1.1M434.8,1457.4v1.2M435.8,1416.2v-2.6M435.8,1457.4v0.7M436.8,1416.2v-0.7M436.8,1457.4v1.5M437.8,1416.2v-1.1M437.8,1457.4v1.1M438.8,1416.2v-1.7M438.8,1457.4v2.6M439.8,1416.2v-1.4M439.8,1457.4v0.5M440.8,1416.2v-1.3M440.8,1457.4v2.4M441.8,1416.2v-1.4M441.8,1457.4v0.5M442.8,1416.2v-1M442.8,1457.4v0.9M443.8,1416.2v-1.2M443.8,1457.4v1.1M444.8,1416.2v-1.9M444.8,1457.4v2.1M445.8,1416.2v-0.5M445.8,1457.4v0.7M446.8,1416.2v-2.3M446.8,1457.4v2.4M447.8,1416.2v-2.2M447.8,1457.4v0.8M448.8,1416.2v-2M448.8,1457.4v0.6M449.8,1416.2v-2M449.8,1457.4v0.9M450.8,1416.2v-2.3M450.8,1457.4v2.3M451.8,1416.2v-1.5M451.8,1457.4v2.1M452.8,1416.2v-2.6M452.8,1457.4v2.5M453.8,1416.2v-1.9M453.8,1457.4v1.8M454.8,1416.2v-1.2M454.8,1457.4v2M455.8,1416.2v-0.7M455.8,1457.4v1.5M456.8,1416.2v-0.6M456.8,1457.4v0.6M457.8,1416.2v-1.9M457.8,1457.4v1.4M458.8,1416.2v-0.9M458.8,1457.4v2.6M459.8,1416.2v-1.1M459.8,1457.4v1.6M460.8,1416.2v-1.5M460.8,1457.4v0.8M461.8,1416.2v-2.7M461.8,1457.4v2.1M462.8,1416.2v-2.5M462.8,1457.4v1.1M463.8,1416.2v-2.5M463.8,1457.4v2.5M464.8,1416.2v-2.6M464.8,1457.4v0.8M465.8,1416.2v-0.8M465.8,1457.4v0.6M466.8,1416.2v-0.6M466.8,1457.4v2M467.8,1416.2v-0.5M467.8,1457.4v1.5M468.8,1416.2v-1.2M468.8,1457.4v2.1M469.8,1416.2v-0.5M469.8,1457.4v2.1M470.8,1416.2v-2.6M470.8,1457.4v1.1M471.8,1416.2v-1.3M471.8,1457.4v2.1M472.8,1416.2v-1.1M472.8,1457.4v2.3M473.8,1416.2v-2.7M473.8,1457.4v0.9M474.8,1416.2v-1.5M474.8,1457.4v0.7M475.8,1416.2v-1.7M475.8,1457.4v1.3M476.8,1416.2v-2.6M476.8,1457.4v2.1M477.8,1416.2v-2.7M477.8,1457.4v2.3M478.8,1416.2v-2.3M478.8,1457.4v1.3M479.8,1416.2v-1.9M479.8,1457.4v0.7M480.8,1416.2v-1.2M480.8,1457.4v2.5M481.8,1416.2v-2.7M481.8,1457.4v0.8M482.8,1416.2v-1.5M482.8,1457.4v1.3M483.8,1416.2v-1.8M483.8,1457.4v1.8M484.8,1416.2v-1M484.8,1457.4v2.4M485.8,1416.2v-1.4M485.8,1457.4v2.2M486.8,1416.2v-2.1M486.8,1457.4v2.7M487.8,1416.2v-1.6M487.8,1457.4v1.8M488.8,1416.2v-2.2M488.8,1457.4v0.9M489.8,1416.2v-0.5M489.8,1457.4v2.3M490.8,1416.2v-2M490.8,1457.4v2.1M491.8,1416.2v-2.2M491.8,1457.4v0.9M492.8,1416.2v-2.4M492.8,1457.4v1.9M493.8,1416.2v-2.6M493.8,1457.4v1.7M494.8,1416.2v-2.4M494.8,1457.4v0.5M495.8,1416.2v-0.8M495.8,1457.4v1.7M496.8,1416.2v-1.9M496.8,1457.4v1.3M497.8,1416.2v-0.6M497.8,1457.4v2.4M498.8,1416.2v-0.6M498.8,1457.4v2.4M499.8,1416.2v-0.9M499.8,1457.4v2M500.8,1416.2v-1.8M500.8,1457.4v0.9M501.8,1416.2v-1.2M501.8,1457.4v1M502.8,1416.2v-1.6M502.8,1457.4v1M503.8,1416.2v-1.7M503.8,1457.4v1M504.8,1416.2v-0.7M504.8,1457.4v2M505.8,1416.2v-1M505.8,1457.4v2.6M506.8,1416.2v-1.3M506.8,1457.4v1M507.8,1416.2v-2.1M507.8,1457.4v2.5M508.8,1416.2v-1.3M508.8,1457.4v2.1M509.8,1416.2v-1.2M509.8,1457.4v2.7M510.8,1416.2v-1.1M510.8,1457.4v0.5M511.8,1416.2v-0.4M511.8,1457.4v1.6M512.8,1416.2v-1.8M512.8,1457.4v1.1M513.8,1416.2v-1.4M513.8,1457.4v1.3M514.8,1416.2v-1.2M514.8,1457.4v0.8M515.8,1416.2v-1.7M515.8,1457.4v1.9M516.8,1416.2v-0.5M516.8,1457.4v2.4M517.8,1416.2v-1M517.8,1457.4v1.5M518.8,1416.2v-0.9M518.8,1457.4v1.9M519.8,1416.2v-1.3M519.8,1457.4v1.7M520.8,1416.2v-1.3M520.8,1457.4v1.6M521.8,1416.2v-0.6M521.8,1457.4v2.7M522.8,1416.2v-1.4M522.8,1457.4v1.2M523.8,1416.2v-2.3M523.8,1457.4v1.1M524.8,1416.2v-2.2M524.8,1457.4v1.4M525.8,1416.2v-0.7M525.8,1457.4v1.7M526.8,1416.2v-1M526.8,1457.4v0.9M527.8,1416.2v-2.7M527.8,1457.4v2.6M528.8,1416.2v-1.5M528.8,1457.4v2.3M529.8,1416.2v-1.9M529.8,1457.4v1.1M530.8,1416.2v-0.7M530.8,1457.4v1.7M531.8,1416.2v-0.8M531.8,1457.4v2.1M532.8,1416.2v-1.8M532.8,1457.4v0.9M533.8,1416.2v-2.2M533.8,1457.4v2.6M534.8,1416.2v-1.5M534.8,1457.4v2.6M535.8,1416.2v-1.4M535.8,1457.4v0.4M536.8,1416.2v-1.5M536.8,1457.4v1.2M537.8,1416.2v-2.5M537.8,1457.4v1.6M538.8,1416.2v-2.6M538.8,1457.4v0.8M539.8,1416.2v-1.3M539.8,1457.4v0.4M540.8,1416.2v-0.5M540.8,1457.4v2M541.8,1416.2v-0.5M541.8,1457.4v0.9M542.8,1416.2v-1.4M542.8,1457.4v2.5M543.8,1416.2v-0.9M543.8,1457.4v0.4M544.8,1416.2v-2M544.8,1457.4v2M545.8,1416.2v-0.7M545.8,1457.4v2.5M546.8,1416.2v-2.4M546.8,1457.4v2.6M547.8,1416.2v-2.3M547.8,1457.4v1.7M548.8,1416.2v-2M548.8,1457.4v0.7M549.8,1416.2v-1.9M549.8,1457.4v1.2M550.8,1416.2v-1.2M550.8,1457.4v1.1M551.8,1416.2v-0.6M551.8,1457.4v2.3M552.8,1416.2v-2.2M552.8,1457.4v0.4M553.8,1416.2v-1.6M553.8,1457.4v0.5M554.8,1416.2v-1.7M554.8,1457.4v0.8M555.8,1416.2v-2.6M555.8,1457.4v1.1M556.8,1416.2v-1.6M556.8,1457.4v1M557.8,1416.2v-2.5M557.8,1457.4v0.4M558.8,1416.2v-1.1M558.8,1457.4v0.9M559.8,1416.2v-2.1M559.8,1457.4v1.3M560.8,1416.2v-2.4M560.8,1457.4v1.2M561.8,1416.2v-0.7M561.8,1457.4v1.4M562.8,1416.2v-0.6M562.8,1457.4v0.8M563.8,1416.2v-1.6M563.8,1457.4v1.7M564.8,1416.2v-0.9M564.8,1457.4v0.8M565.8,1416.2v-1.6M565.8,1457.4v1.4M566.8,1416.2v-1.5M566.8,1457.4v1.9M567.8,1416.2v-0.7M567.8,1457.4v0.4M568.8,1416.2v-0.5M568.8,1457.4v2.2M569.8,1416.2v-2M569.8,1457.4v0.8M570.8,1416.2v-1.2M570.8,1457.4v1.1M571.8,1416.2v-2.5M571.8,1457.4v1.3M572.8,1416.2v-2M572.8,1457.4v0.6M573.8,1416.2v-0.5M573.8,1457.4v0.9M574.8,1416.2v-1.9M574.8,1457.4v1.4M575.8,1416.2v-2.4M575.8,1457.4v2.3M576.8,1416.2v-1.9M576.8,1457.4v2.7M577.8,1416.2v-2.6M577.8,1457.4v2.4M578.8,1416.2v-0.6M578.8,1457.4v1.3M579.8,1416.2v-0.7M579.8,1457.4v1.8M580.8,1416.2v-1.6M580.8,1457.4v0.6M581.8,1416.2v-0.6M581.8,1457.4v1.5M582.8,1416.2v-1.8M582.8,1457.4v1.3M583.8,1416.2v-1.5M583.8,1457.4v1.9M584.8,1416.2v-2M584.8,1457.4v2M585.8,1416.2v-1.4M585.8,1457.4v0.8M586.8,1416.2v-2.4M586.8,1457.4v0.5M587.8,1416.2v-0.9M587.8,1457.4v0.8M588.8,1416.2v-1.8M588.8,1457.4v1.8M589.8,1416.2v-0.6M589.8,1457.4v1.6M590.8,1416.2v-1.7M590.8,1457.4v2M591.8,1416.2v-0.6M591.8,1457.4v2.1M592.8,1416.2v-1M592.8,1457.4v1.3M593.8,1416.2v-0.7M593.8,1457.4v2.3M594.8,1416.2v-1.8M594.8,1457.4v2.3M595.8,1416.2v-1.6M595.8,1457.4v0.7M596.8,1416.2v-1.3M596.8,1457.4v0.6M597.8,1416.2v-0.6M597.8,1457.4v2.3M598.8,1416.2v-0.4M598.8,1457.4v1.3M599.8,1416.2v-0.5M599.8,1457.4v2.2M600.8,1416.2v-2.7M600.8,1457.4v0.5M601.8,1416.2v-1.2M601.8,1457.4v2.6M602.8,1416.2v-1M602.8,1457.4v1.1M603.8,1416.2v-2.7M603.8,1457.4v2.5M604.8,1416.2v-1.3M604.8,1457.4v1.9M605.8,1416.2v-2.2M605.8,1457.4v1.2M606.8,1416.2v-0.4M606.8,1457.4v1.3M607.8,1416.2v-2M607.8,1457.4v2.6M608.8,1416.2v-1.4M608.8,1457.4v1.3M609.8,1416.2v-1.3M609.8,1457.4v1.8M610.8,1416.2v-0.5M610.8,1457.4v2.5M611.8,1416.2v-2.6M611.8,1457.4v0.5M612.8,1416.2v-0.4M612.8,1457.4v1.1M613.8,1416.2v-0.7M613.8,1457.4v2.2M614.8,1416.2v-2.4M614.8,1457.4v1.7M615.8,1416.2v-2.6M615.8,1457.4v0.9M616.8,1416.2v-0.9M616.8,1457.4v1.3M617.8,1416.2v-1.4M617.8,1457.4v0.9M618.8,1416.2v-2.5M618.8,1457.4v2.1M619.8,1416.2v-1.1M619.8,1457.4v0.9M620.8,1416.2v-1.1M620.8,1457.4v1.3M621.8,1416.2v-1.9M621.8,1457.4v2.2M622.8,1416.2v-2.6M622.8,1457.4v0.6M623.8,1416.2v-0.8M623.8,1457.4v1.3M624.8,1416.2v-2.6M624.8,1457.4v1.5M625.8,1416.2v-2.1M625.8,1457.4v2.3M626.8,1416.2v-1.5M626.8,1457.4v1.3M627.8,1416.2v-2.2M627.8,1457.4v1.9M628.8,1416.2v-2.7M628.8,1457.4v1M629.8,1416.2v-2.6M629.8,1457.4v1.5M630.8,1416.2v-2.4M630.8,1457.4v1.9M631.8,1416.2v-1.7M631.8,1457.4v2.4M632.8,1416.2v-0.6M632.8,1457.4v1M633.8,1416.2v-1.5M633.8,1457.4v2.3M634.8,1416.2v-0.8M634.8,1457.4v2.2M635.8,1416.2v-0.6M635.8,1457.4v1.2M636.8,1416.2v-1.5M636.8,1457.4v2M637.8,1416.2v-1.6M637.8,1457.4v2.4M638.8,1416.2v-2M638.8,1457.4v1.3M639.8,1416.2v-1.6M639.8,1457.4v1.3M640.8,1416.2v-2.4M640.8,1457.4v1.1M641.8,1416.2v-0.8M641.8,1457.4v1M642.8,1416.2v-1M642.8,1457.4v2.3M643.8,1416.2v-2M643.8,1457.4v1M644.8,1416.2v-1.4M644.8,1457.4v2.5M645.8,1416.2v-2.6M645.8,1457.4v0.9M646.8,1416.2v-2.6M646.8,1457.4v0.5M647.8,1416.2v-2.7M647.8,1457.4v1.1M648.8,1416.2v-2.6M648.8,1457.4v0.5M649.8,1416.2v-2M649.8,1457.4v2.5M650.8,1416.2v-2.3M650.8,1457.4v1.7M651.8,1416.2v-0.8M651.8,1457.4v0.9M652.8,1416.2v-2.6M652.8,1457.4v2.4M653.8,1416.2v-0.9M653.8,1457.4v1.2M654.8,1416.2v-1.8M654.8,1457.4v1.1M655.8,1416.2v-0.9M655.8,1457.4v2.4M656.8,1416.2v-0.7M656.8,1457.4v1.9M657.8,1416.2v-1.3M657.8,1457.4v1.5M658.8,1416.2v-2.4M658.8,1457.4v2.1M659.8,1416.2v-2.2M659.8,1457.4v0.4M660.8,1416.2v-2.3M660.8,1457.4v2.2M661.8,1416.2v-0.4M661.8,1457.4v0.9M662.8,1416.2v-2.1M662.8,1457.4v2.4M663.8,1416.2v-1.6M663.8,1457.4v2.4M664.8,1416.2v-0.6M664.8,1457.4v1M665.8,1416.2v-2.3M665.8,1457.4v2.2M666.8,1416.2v-0.9M666.8,1457.4v1.7M667.8,1416.2v-1.4M667.8,1457.4v2.1M668.8,1416.2v-1.3M668.8,1457.4v1.1M669.8,1416.2v-2.2M669.8,1457.4v2M670.8,1416.2v-1.2M670.8,1457.4v2M671.8,1416.2v-1M671.8,1457.4v1.6M672.8,1416.2v-0.8M672.8,1457.4v1.2M673.8,1416.2v-1.4M673.8,1457.4v0.6M674.8,1416.2v-1.1M674.8,1457.4v1.2M675.8,1416.2v-1.2M675.8,1457.4v1.6M676.8,1416.2v-2.5M676.8,1457.4v2.4M677.8,1416.2v-1.1M677.8,1457.4v0.7M678.8,1416.2v-0.6M678.8,1457.4v2.4M679.8,1416.2v-2.1M679.8,1457.4v2.1M680.8,1416.2v-2.5M680.8,1457.4v1.3M681.8,1416.2v-0.8M681.8,1457.4v0.6M682.8,1416.2v-1.3M682.8,1457.4v2.2M683.8,1416.2v-0.6M683.8,1457.4v1.4M684.8,1416.2v-0.6M684.8,1457.4v0.9M685.8,1416.2v-1.7M685.8,1457.4v1.9M686.8,1416.2v-2.6M686.8,1457.4v1.1M687.8,1416.2v-0.9M687.8,1457.4v0.5M688.8,1416.2v-0.8M688.8,1457.4v0.5M689.8,1416.2v-0.4M689.8,1457.4v0.7M690.8,1416.2v-1.6M690.8,1457.4v1.5M691.8,1416.2v-2.5M691.8,1457.4v1.5M692.8,1416.2v-0.6M692.8,1457.4v0.7M693.8,1416.2v-2M693.8,1457.4v2.7M694.8,1416.2v-2.1M694.8,1457.4v0.9M695.8,1416.2v-1.2M695.8,1457.4v1.4M696.8,1416.2v-1.4M696.8,1457.4v1M697.8,1416.2v-0.8M697.8,1457.4v0.5M698.8,1416.2v-2.4M698.8,1457.4v2.6M699.8,1416.2v-2.6M699.8,1457.4v1.3M700.8,1416.2v-2M700.8,1457.4v0.9M701.8,1416.2v-0.7M701.8,1457.4v0.4M702.8,1416.2v-1.2M702.8,1457.4v2.2M703.8,1416.2v-1.6M703.8,1457.4v0.9M704.8,1416.2v-1.5M704.8,1457.4v1.6M705.8,1416.2v-0.8M705.8,1457.4v1.4M706.8,1416.2v-2.5M706.8,1457.4v1.4M707.8,1416.2v-2.7M707.8,1457.4v2.1M708.8,1416.2v-0.7M708.8,1457.4v2.5M709.8,1416.2v-2M709.8,1457.4v1.4M710.8,1416.2v-0.8M710.8,1457.4v1.9M711.8,1416.2v-0.8M711.8,1457.4v1.5M712.8,1416.2v-0.7M712.8,1457.4v1.4M713.8,1416.2v-2.6M713.8,1457.4v1.8M714.8,1416.2v-1.6M714.8,1457.4v1.8M715.8,1416.2v-1.9M715.8,1457.4v1.8M716.8,1416.2v-1.1M716.8,1457.4v0.9M717.8,1416.2v-1.8M717.8,1457.4v2.5M718.8,1416.2v-2.4M718.8,1457.4v1.5M719.8,1416.2v-1.1M719.8,1457.4v1.8M720.8,1416.2v-0.5M720.8,1457.4v1.5M721.8,1416.2v-2.2M721.8,1457.4v2.6M722.8,1416.2v-0.6M722.8,1457.4v0.9M723.8,1416.2v-1.5M723.8,1457.4v1.8M724.8,1416.2v-2.6M724.8,1457.4v0.6M725.8,1416.2v-0.7M725.8,1457.4v1.5M726.8,1416.2v-2.2M726.8,1457.4v0.5M727.8,1416.2v-1.3M727.8,1457.4v2M728.8,1416.2v-1.4M728.8,1457.4v0.8M729.8,1416.2v-0.6M729.8,1457.4v2.2M730.8,1416.2v-1.6M730.8,1457.4v1.6M731.8,1416.2v-2M731.8,1457.4v2.2M732.8,1416.2v-1.3M732.8,1457.4v1.2M733.8,1416.2v-2.5M733.8,1457.4v0.6M734.8,1416.2v-2.2M734.8,1457.4v1.5M735.8,1416.2v-1.6M735.8,1457.4v1M736.8,1416.2v-2.6M736.8,1457.4v1.1M737.8,1416.2v-1.1M737.8,1457.4v0.5M738.8,1416.2v-2.5M738.8,1457.4v2.3M739.8,1416.2v-0.5M739.8,1457.4v0.7M740.8,1416.2v-1.1M740.8,1457.4v0.5M741.8,1416.2v-1.5M741.8,1457.4v2.4M742.8,1416.2v-2.1M742.8,1457.4v1.6M743.8,1416.2v-2.7M743.8,1457.4v1.1M744.8,1416.2v-1.1M744.8,1457.4v1M745.8,1416.2v-1.8M745.8,1457.4v1.5M746.8,1416.2v-0.7M746.8,1457.4v1.5M747.8,1416.2v-2.6M747.8,1457.4v2.4M748.8,1416.2v-1.8M748.8,1457.4v2.4M749.8,1416.2v-1.5M749.8,1457.4v1.5M750.8,1416.2v-2M750.8,1457.4v0.9M751.8,1416.2v-1.8M751.8,1457.4v1.6M752.8,1416.2v-1.1M752.8,1457.4v1.5M753.8,1416.2v-0.8M753.8,1457.4v1.9M754.8,1416.2v-0.7M754.8,1457.4v1.4M755.8,1416.2v-0.5M755.8,1457.4v1.6M756.8,1416.2v-0.6M756.8,1457.4v2.3M757.8,1416.2v-0.4M757.8,1457.4v2.3M758.8,1416.2v-1.1M758.8,1457.4v2.6M759.8,1416.2v-1.2M759.8,1457.4v0.7M760.8,1416.2v-1.9M760.8,1457.4v1M761.8,1416.2v-2.3M761.8,1457.4v1.5M762.8,1416.2v-1M762.8,1457.4v1.8M763.8,1416.2v-0.9M763.8,1457.4v1M764.8,1416.2v-0.6M764.8,1457.4v0.9M765.8,1416.2v-0.9M765.8,1457.4v0.8M766.8,1416.2v-1.4M766.8,1457.4v1.4M767.8,1416.2v-1.8M767.8,1457.4v1.7M768.8,1416.2v-2M768.8,1457.4v1.8M769.8,1416.2v-1.5M769.8,1457.4v2.4M770.8,1416.2v-0.7M770.8,1457.4v1M771.8,1416.2v-0.4M771.8,1457.4v2.5M772.8,1416.2v-2.4M772.8,1457.4v1.3M773.8,1416.2v-2.3M773.8,1457.4v1.7M774.8,1416.2v-2.5M774.8,1457.4v2.5M775.8,1416.2v-1.2M775.8,1457.4v1M776.8,1416.2v-1.4M776.8,1457.4v2.6M777.8,1416.2v-1.5M777.8,1457.4v1.2M778.8,1416.2v-0.5M778.8,1457.4v1.3M779.8,1416.2v-2.5M779.8,1457.4v1.4M780.8,1416.2v-2.2M780.8,1457.4v2.5M781.8,1416.2v-2.6M781.8,1457.4v2.1M782.8,1416.2v-1.5M782.8,1457.4v1.1M783.8,1416.2v-2.6M783.8,1457.4v2.3M784.8,1416.2v-2.1M784.8,1457.4v0.5M785.8,1416.2v-1.9M785.8,1457.4v2M786.8,1416.2v-0.7M786.8,1457.4v1.2M787.8,1416.2v-1.4M787.8,1457.4v1M788.8,1416.2v-0.6M788.8,1457.4v0.7M789.8,1416.2v-1.5M789.8,1457.4v0.4M790.8,1416.2v-2.2M790.8,1457.4v1.4M791.8,1416.2v-1M791.8,1457.4v1M792.8,1416.2v-1.1M792.8,1457.4v1.8M793.8,1416.2v-2M793.8,1457.4v1.4M794.8,1416.2v-2M794.8,1457.4v1.7M795.8,1416.2v-2.3M795.8,1457.4v2.1M796.8,1416.2v-2.2M796.8,1457.4v0.5M797.8,1416.2v-1.2M797.8,1457.4v0.7M798.8,1416.2v-2.3M798.8,1457.4v0.8M799.8,1416.2v-2.5M799.8,1457.4v1.2M800.8,1416.2v-0.8M800.8,1457.4v2M801.8,1416.2v-0.8M801.8,1457.4v1.2M802.8,1416.2v-1.4M802.8,1457.4v1.9M803.8,1416.2v-1.6M803.8,1457.4v1.9M804.8,1416.2v-2.2M804.8,1457.4v2.6M805.8,1416.2v-1.8M805.8,1457.4v1.4M806.8,1416.2v-1.5M806.8,1457.4v1.2M807.8,1416.2v-2.3M807.8,1457.4v1.7M808.8,1416.2v-2M808.8,1457.4v2.3M809.8,1416.2v-2M809.8,1457.4v2.4M810.8,1416.2v-1.4M810.8,1457.4v2M811.8,1416.2v-2.4M811.8,1457.4v1.5M812.8,1416.2v-2.3M812.8,1457.4v1M813.8,1416.2v-0.8M813.8,1457.4v2.4M814.8,1416.2v-1.7M814.8,1457.4v2.6M815.8,1416.2v-1.8M815.8,1457.4v1M816.8,1416.2v-0.7M816.8,1457.4v2.5M817.8,1416.2v-1M817.8,1457.4v0.8M818.8,1416.2v-1.6M818.8,1457.4v2.1M819.8,1416.2v-1.7M819.8,1457.4v0.5M820.8,1416.2v-2.2M820.8,1457.4v2M821.8,1416.2v-1.1M821.8,1457.4v2.5M822.8,1416.2v-1.5M822.8,1457.4v2.2M823.8,1416.2v-0.6M823.8,1457.4v1.1M824.8,1416.2v-2.1M824.8,1457.4v2M825.8,1416.2v-2M825.8,1457.4v2M826.8,1416.2v-0.5M826.8,1457.4v2.4M827.8,1416.2v-0.5M827.8,1457.4v1M828.8,1416.2v-1.1M828.8,1457.4v1.5M829.8,1416.2v-0.6M829.8,1457.4v1.4M830.8,1416.2v-0.7M830.8,1457.4v1.2M831.8,1416.2v-1.2M831.8,1457.4v0.7M832.8,1416.2v-2.2M832.8,1457.4v0.5M833.8,1416.2v-0.9M833.8,1457.4v2.5M834.8,1416.2v-1.3M834.8,1457.4v2.6M835.8,1416.2v-1.1M835.8,1457.4v1.6M836.8,1416.2v-1.6M836.8,1457.4v1.3M837.8,1416.2v-2.7M837.8,1457.4v1.3M838.8,1416.2v-2.2M838.8,1457.4v1.6M839.8,1416.2v-1.2M839.8,1457.4v2.3M840.8,1416.2v-2.5M840.8,1457.4v0.4M841.8,1416.2v-1.8M841.8,1457.4v2.1M842.8,1416.2v-1.6M842.8,1457.4v1.3M843.8,1416.2v-2.1M843.8,1457.4v0.8M844.8,1416.2v-1.5M844.8,1457.4v0.9M845.8,1416.2v-2.4M845.8,1457.4v2.2M846.8,1416.2v-1.3M846.8,1457.4v2.2M847.8,1416.2v-1.6M847.8,1457.4v1.9M848.8,1416.2v-1M848.8,1457.4v2.2M849.8,1416.2v-1.9M849.8,1457.4v2.7M850.8,1416.2v-1M850.8,1457.4v1.3M851.8,1416.2v-2.2M851.8,1457.4v1M852.8,1416.2v-2.2M852.8,1457.4v2.4M853.8,1416.2v-0.8M853.8,1457.4v2.1M854.8,1416.2v-1.1M854.8,1457.4v1M855.8,1416.2v-1.2M855.8,1457.4v2.2M856.8,1416.2v-1.9M856.8,1457.4v1.3M857.8,1416.2v-2M857.8,1457.4v2.3M858.8,1416.2v-0.9M858.8,1457.4v2.4M859.8,1416.2v-1.6M859.8,1457.4v1.9M860.8,1416.2v-2.4M860.8,1457.4v0.9M861.8,1416.2v-1.5M861.8,1457.4v2M862.8,1416.2v-0.4M862.8,1457.4v1.3M863.8,1416.2v-1.6M863.8,1457.4v1.4M864.8,1416.2v-1.6M864.8,1457.4v2.3M865.8,1416.2v-0.7M865.8,1457.4v2.1" stroke="#0aff0a" stroke-width="1" stroke-opacity="0.45" fill="none"/>
<polyline points="195,1553 197,1552.8 199,1552.7 201,1553 203,1552.7 205.1,1553 207.1,1552.8 209.1,1553 211.1,1552.7 213.1,1553.3 215.1,1552.8 217.1,1553 219.1,1553.1 221.1,1553.1 223.1,1552.7 225.2,1553.2 227.2,1552.9 229.2,1552.7 231.2,1553 233.2,1553.1 235.2,1552.9 237.2,1553.2 239.2,1552.9 241.2,1553.2 243.2,1553.3 245.3,1553.2 247.3,1552.7 249.3,1552.9 251.3,1553 253.3,1552.9 255.3,1552.8 257.3,1553.1 259.3,1552.7 261.3,1552.8 263.3,1552.9 265.4,1553.3 267.4,1552.9 269.4,1553.3 271.4,1553.1 273.4,1553.1 275.4,1553.3 277.4,1553.1 279.4,1553.2 281.4,1553 283.4,1553.2 285.5,1553.3 287.5,1552.7 289.5,1553.3 291.5,1552.7 293.5,1553.1 295.5,1552.7 297.5,1553.2 299.5,1553 301.5,1552.7 303.5,1553.2 305.6,1552.8 307.6,1553.3 309.6,1552.9 311.6,1553 313.6,1553 315.6,1553.2 317.6,1552.9 319.6,1553 321.6,1552.8 323.6,1552.9 325.7,1552.7 327.7,1552.8 329.7,1552.8 331.7,1553.1 333.7,1552.8 335.7,1552.8 337.7,1553.3 339.7,1553.1 341.7,1552.7 343.7,1553.3 345.8,1553.2 347.8,1553.1 349.8,1553.3 351.8,1553 353.8,1553" fill="none" stroke="#ff0a0a" stroke-width="3.2"/>
<line x1="354.6" y1="1551" x2="354.6" y2="1570" stroke="#ff3030" stroke-width="1"/>
<polyline points="354.8,1570 356.8,1569.8 358.9,1569.8 360.9,1569.9 362.9,1570.2 365,1570.3 367,1570.5 369,1570.1 371.1,1570.1 373.1,1570.2 375.1,1570.4 377.2,1570.9 379.2,1570.8 381.2,1570.4 383.3,1570.8 385.3,1570.6 387.4,1570.6 389.4,1570.8 391.4,1570.8 393.5,1570.8 395.5,1570.8 397.5,1571 399.6,1571.2 401.6,1571.2 403.6,1571.4 405.7,1571.1 407.7,1571 409.7,1571.4 411.8,1571.3 413.8,1571.5 415.8,1571.3 417.8,1571.5 419.8,1572 421.8,1571.8 423.8,1571.9 425.8,1571.5 427.8,1571.9 429.8,1572 431.8,1572.2 433.8,1572.2 435.8,1571.7 437.8,1572.4 439.8,1571.8 441.8,1572.4 443.8,1572.2 445.8,1572.6 447.8,1572.7 449.8,1572.6 451.8,1572.2 453.8,1572.6 455.8,1572.3 457.8,1572.5 459.8,1572.4 461.8,1572.6 463.8,1572.4 465.8,1572.8 467.8,1572.6 469.8,1572.7 471.8,1573.1 473.8,1573 475.8,1572.9 477.8,1573.1 479.8,1573.3 481.8,1573.1 483.8,1573.2 485.8,1573.3 487.8,1572.8 489.8,1572.8 491.8,1573.3 493.8,1573.3 495.8,1572.9 497.8,1573.3 499.8,1572.7 501.8,1572.8 503.8,1573.3 505.8,1572.7 507.8,1573.3 509.8,1572.8 511.8,1573.2 513.8,1572.7 515.8,1573 517.8,1573.1 519.8,1573 521.8,1573.3 523.8,1572.7 525.8,1573.1 527.8,1573.2 529.8,1573 531.8,1572.8 533.8,1573.2 535.8,1573 537.8,1572.8 539.8,1573.2 541.8,1573.2 543.8,1573.2 545.8,1573 547.8,1572.7 549.8,1572.7 551.8,1573 553.8,1572.7 555.8,1573.1 557.8,1572.7 559.8,1573.2 561.8,1572.7 563.8,1573.1 565.8,1572.8 567.8,1573.3 569.8,1573 571.9,1573 573.9,1573.2 575.9,1572.8 577.9,1573.3 579.9,1572.9 581.9,1572.7 583.9,1572.8 585.9,1572.9 587.9,1573.1 589.9,1572.7 591.9,1573.3 593.9,1573.2 595.9,1573.2 597.9,1573.3 599.9,1572.7 601.9,1573.1 603.9,1573.2 605.9,1572.8 607.9,1572.9 609.9,1572.8 611.9,1573.3 613.9,1573 615.9,1573.2 617.9,1572.8 619.9,1573.1 621.9,1573.2 623.9,1572.9 625.9,1572.8 627.9,1572.7 629.9,1573.1 631.9,1572.9 633.9,1572.8 635.9,1572.9 637.9,1572.9 639.9,1572.7 641.9,1573.1 643.9,1572.8 645.9,1572.8 647.9,1572.9 649.9,1573.3 651.9,1573.1 653.9,1572.8 655.9,1573.2 657.9,1573.3 659.9,1572.9 661.9,1573.2 663.9,1573.1 665.9,1573 667.9,1573.3 669.9,1573.1 671.9,1573.1 673.9,1573.3 675.9,1573 677.9,1572.7 679.9,1572.7 681.9,1573.2 683.9,1573 685.9,1573.3 687.9,1573.3 689.9,1572.8 691.9,1572.8 693.9,1573.1 695.9,1572.7 697.9,1572.7 699.9,1572.7 701.9,1572.9 703.9,1573 705.9,1572.8 707.9,1573.1 709.9,1573.2 711.9,1573.2 713.9,1573 715.9,1573.2 717.9,1573.2 719.9,1573.2 721.9,1572.9 723.9,1573.1 725.9,1573.2 727.9,1572.8 729.9,1572.9 731.9,1572.7 733.9,1573.1 735.9,1572.7 737.9,1573 739.9,1572.8 741.9,1572.7 743.9,1573.3 745.9,1572.9 747.9,1573.3 749.9,1573.2 751.9,1573.1 753.9,1573 755.9,1573.1 757.9,1573.2 759.9,1572.8 761.9,1573 763.9,1572.8 765.9,1572.8 768,1572.8 770,1573.2 772,1573.3 774,1573 776,1572.8 778,1572.8 780,1572.9 782,1572.9 784,1573.3 786,1573 788,1573 790,1573.1 792,1572.8 794,1572.9 796,1573 798,1572.7 800,1572.9 802,1573.1 804,1573.1 806,1572.8 808,1572.7 810,1573 812,1572.8 814,1572.7 816,1573.3 818,1573.2 820,1573.3 822,1572.9 824,1573.2 826,1573.2 828,1573.1 830,1572.7 832,1572.8 834,1572.9 836,1573 838,1573.1 840,1572.8 842,1572.8 844,1572.7 846,1572.9 848,1572.7 850,1572.8 852,1572.7 854,1573.2 856,1572.8 858,1573 860,1573.1 862,1572.7 864,1573 866,1573" fill="none" stroke="#ff0a0a" stroke-width="3"/>
<polyline points="195,1339.5 363.8,1339.5 363.8,1341.4 372.4,1341.4 372.4,1339.5 377.4,1339.5 377.4,1337.6 383.4,1337.6 383.4,1335.7 388.4,1335.7 388.4,1333.8 395.3,1333.8 395.3,1331.9 400.3,1331.9 400.3,1330 405.3,1330 405.3,1328.1 411.3,1328.1 411.3,1326.2 417.3,1326.2 417.3,1324.3 422.3,1324.3 422.3,1322.4 427.3,1322.4 427.3,1320.5 432.3,1320.5 432.3,1318.6 437.3,1318.6 437.3,1316.7 445.3,1316.7 445.3,1314.8 449.2,1314.8 449.2,1312.9 455.2,1312.9 455.2,1311 460.2,1311 460.2,1309.1 466.2,1309.1 466.2,1307.2 471.2,1307.2 471.2,1305.3 487.1,1305.3 487.1,1303.4 866,1303.4" fill="none" stroke="#ff10ff" stroke-width="2.3" stroke-linejoin="miter"/>
<line x1="355.2" y1="1325" x2="355.2" y2="1345" stroke="#ff9cff" stroke-width="2"/>
<line x1="354.1" y1="1342" x2="354.1" y2="1352.5" stroke="#ff20ff" stroke-width="1.3"/>
<line x1="353.8" y1="1176.1" x2="353.8" y2="1615.5" stroke="#ff98ff" stroke-width="1.7"/>
<line x1="481" y1="1176.1" x2="481" y2="1615.5" stroke="#ff98ff" stroke-width="1.7"/>
<line x1="353.8" y1="1416.2" x2="353.8" y2="1457.4" stroke="#94a494" stroke-width="1.6"/>
<line x1="481" y1="1416.2" x2="481" y2="1457.4" stroke="#94a494" stroke-width="1.6"/>
<line x1="353.8" y1="1234.2" x2="353.8" y2="1289.6" stroke="#9a48ff" stroke-width="1.6"/>
<line x1="481" y1="1234.2" x2="481" y2="1289.6" stroke="#9a48ff" stroke-width="1.6"/>
<rect x="349.1" y="1500.3" width="9.4" height="9.8" fill="none" stroke="#ff80ff" stroke-width="1.2"/>
<circle cx="481" cy="1193" r="4.9" fill="none" stroke="#ff80ff" stroke-width="1.2"/>
<circle cx="360.2" cy="1185.4" r="5.2" fill="#00b0f0"/>
<text x="360.2" y="1188.6" font-family="Liberation Sans, sans-serif" font-size="9" font-weight="bold" fill="#ffffff" text-anchor="middle">a</text>
<circle cx="474.2" cy="1185.4" r="5.2" fill="#00b0f0"/>
<text x="474.2" y="1188.6" font-family="Liberation Sans, sans-serif" font-size="9" font-weight="bold" fill="#ffffff" text-anchor="middle">b</text>
<path d="M527,1176.1 A3.5,3.5 0 0 0 534,1176.1 Z" fill="#0060ff"/>
<rect x="663.4" y="1192.5" width="203.5" height="39.3" rx="2.5" fill="#fffcfe" stroke="#7e8076" stroke-width="1.3"/>
<rect x="676.2" y="1195.1" width="9.5" height="9.5" fill="none" stroke="#ff80ff" stroke-width="1"/>
<circle cx="681" cy="1212.7" r="4.8" fill="none" stroke="#ff80ff" stroke-width="1"/>
<circle cx="693.7" cy="1199.7" r="5" fill="#00b0f0"/>
<text x="693.7" y="1202.9" font-family="Liberation Sans, sans-serif" font-size="9" font-weight="bold" fill="#ffffff" text-anchor="middle">a</text>
<circle cx="693.7" cy="1212.7" r="5" fill="#00b0f0"/>
<text x="693.7" y="1215.9" font-family="Liberation Sans, sans-serif" font-size="9" font-weight="bold" fill="#ffffff" text-anchor="middle">b</text>
<text x="718.4" y="1203.5" font-family="Liberation Sans, sans-serif" font-size="10" letter-spacing="1.1" fill="#ff55ff" stroke="#ff55ff" stroke-width="0.3">−10.5 s</text>
<text x="718.4" y="1216.5" font-family="Liberation Sans, sans-serif" font-size="10" letter-spacing="1.1" fill="#ff55ff" stroke="#ff55ff" stroke-width="0.3">−2.92 s</text>
<text x="718.4" y="1229.5" font-family="Liberation Sans, sans-serif" font-size="10" letter-spacing="1.1" fill="#ff55ff" stroke="#ff55ff" stroke-width="0.3">Δ7.60 s</text>
<path d="M181,1257 L188.5,1257 L192,1262.5 L188.5,1268 L181,1268 Z" fill="#ffffff" stroke="#6060ff" stroke-width="1"/><text x="185.5" y="1265.6" font-family="Liberation Sans, sans-serif" font-size="8.5" fill="#4040ff" text-anchor="middle">1</text>
<path d="M181,1433 L188.5,1433 L192,1438.5 L188.5,1444 L181,1444 Z" fill="#ffffff" stroke="#90e090" stroke-width="1"/><text x="185.5" y="1441.6" font-family="Liberation Sans, sans-serif" font-size="8.5" fill="#70d070" text-anchor="middle">3</text>
<path d="M181,1568.2 L188.5,1568.2 L192,1573.7 L188.5,1579.2 L181,1579.2 Z" fill="#ff50ff" stroke="#e8d0a0" stroke-width="1"/><text x="185.5" y="1576.8" font-family="Liberation Sans, sans-serif" font-size="8.5" fill="#ffffff" text-anchor="middle">4</text>
<path d="M181,1600 L188.5,1600 L192,1605.5 L188.5,1611 L181,1611 Z" fill="#ffffff" stroke="#e89060" stroke-width="1"/><text x="185.5" y="1608.6" font-family="Liberation Sans, sans-serif" font-size="8.5" fill="#ff3030" text-anchor="middle">2</text>
<path d="M194,1175.8V1614.7H867.5" stroke="#000" stroke-width="3.6" fill="none" stroke-linejoin="round" stroke-linecap="round"/>
<path d="M194,1175.8H201.5M194,1219.7H201.5M194,1263.6H201.5M194,1307.5H201.5M194,1351.4H201.5M194,1395.2H201.5M194,1439.1H201.5M194,1483H201.5M194,1526.9H201.5M194,1570.8H201.5M261.3,1614.7V1606.2M328.6,1614.7V1606.2M395.9,1614.7V1606.2M463.2,1614.7V1606.2M530.5,1614.7V1606.2M597.8,1614.7V1606.2M665.1,1614.7V1606.2M732.4,1614.7V1606.2M799.7,1614.7V1606.2M867,1614.7V1606.2" stroke="#000" stroke-width="3.6" fill="none" stroke-linecap="round"/>
<line x1="389.2" y1="1218.4" x2="418.6" y2="1233.6" stroke="#000" stroke-width="3.3" stroke-linecap="round"/>
<line x1="603" y1="1305.6" x2="639.4" y2="1324.6" stroke="#000" stroke-width="3.3" stroke-linecap="round"/>
<line x1="430.7" y1="1382.2" x2="460.5" y2="1413.6" stroke="#000" stroke-width="3.3" stroke-linecap="round"/>
<line x1="371" y1="1570" x2="413.4" y2="1543" stroke="#000" stroke-width="3.3" stroke-linecap="round"/>
<text x="359.5" y="1221.7" class="s" font-family="Liberation Serif, serif" font-size="37"><tspan font-style="italic">e</tspan><tspan font-size="24" dx="-2" dy="4.5">a</tspan></text>
<text x="402.5" y="1386.5" class="s" font-family="Liberation Serif, serif" font-size="37"><tspan font-style="italic">i</tspan><tspan font-size="24" dy="5.5">a</tspan></text>
<text x="647.5" y="1346.9" class="s" font-family="Liberation Serif, serif" font-size="37"><tspan font-style="italic">I</tspan><tspan font-size="23" font-style="normal" dx="1" dy="5">PV</tspan></text>
<text x="422.2" y="1554" class="s" font-family="Liberation Serif, serif" font-size="37"><tspan font-style="italic">V</tspan><tspan font-size="23" font-style="italic" dx="-3" dy="5">PV</tspan></text>
<text x="431.1" y="1650.7" class="s" font-family="Liberation Serif, serif" font-size="37" letter-spacing="0.1">Time (4 s/div)</text>
<text x="219.1" y="1705" class="s" font-family="Liberation Serif, serif" font-size="36" word-spacing="2.5"><tspan font-size="40">(</tspan><tspan font-weight="bold" font-size="39.5" dx="0.5">c</tspan><tspan font-size="40" dx="0.8">)</tspan><tspan dx="15">Proposed MPPT method under </tspan><tspan font-style="italic">Case 1</tspan></text>
<text transform="translate(31.4,1396) rotate(-90)" x="0" y="0" class="s" font-family="Liberation Serif, serif" font-size="37" text-anchor="middle"><tspan font-style="italic">i</tspan><tspan font-size="24" dy="5">a</tspan><tspan dy="-5"> (20 A/div)</tspan></text>
<text transform="translate(73.8,1396) rotate(-90)" x="0" y="0" class="s" font-family="Liberation Serif, serif" font-size="37" text-anchor="middle"><tspan font-style="italic">I</tspan><tspan font-size="23" font-style="italic" dy="5">PV</tspan><tspan dy="-5"> (10 A/div)</tspan></text>
<text transform="translate(117,1396) rotate(-90)" x="0" y="0" class="s" font-family="Liberation Serif, serif" font-size="37" text-anchor="middle"><tspan font-style="italic">e</tspan><tspan font-size="24" dx="-2" dy="5">a</tspan><tspan dy="-5"> (500 V/div)</tspan></text>
<text transform="translate(159.4,1396) rotate(-90)" x="0" y="0" class="s" font-family="Liberation Serif, serif" font-size="37" text-anchor="middle"><tspan font-style="italic">V</tspan><tspan font-size="23" font-style="italic" dx="-4.5" dy="5">PV</tspan><tspan dy="-5"> (100 V/div)</tspan></text>
</svg>
</body></html>
